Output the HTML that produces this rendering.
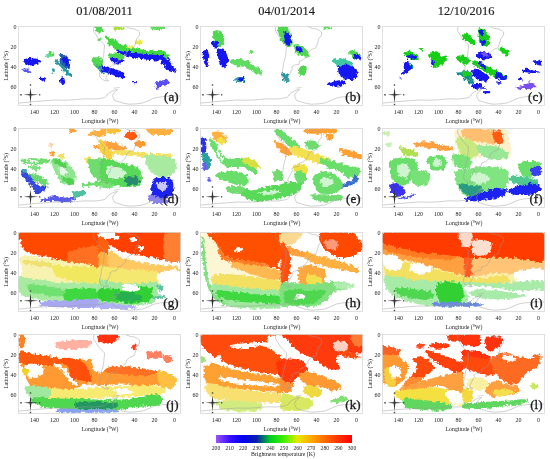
<!DOCTYPE html><html><head><meta charset="utf-8"><style>html,body{margin:0;padding:0;background:#fff;width:550px;height:459px;overflow:hidden}svg{display:block}text{font-family:"Liberation Serif",serif;fill:#222}</style></head><body>
<svg width="550" height="459" viewBox="0 0 550 459">
<defs><filter id="rough" x="-5%" y="-5%" width="110%" height="110%"><feTurbulence type="fractalNoise" baseFrequency="0.3" numOctaves="3" seed="7" result="n"/><feDisplacementMap in="SourceGraphic" in2="n" scale="5" xChannelSelector="R" yChannelSelector="G"/></filter><linearGradient id="cb" x1="0" x2="1" y1="0" y2="0"><stop offset="0" stop-color="#9a55f5"/><stop offset="0.1" stop-color="#3a10ff"/><stop offset="0.2" stop-color="#0000f0"/><stop offset="0.3" stop-color="#0a1fa8"/><stop offset="0.4" stop-color="#00d020"/><stop offset="0.5" stop-color="#40f000"/><stop offset="0.6" stop-color="#e8e800"/><stop offset="0.7" stop-color="#ffa800"/><stop offset="0.8" stop-color="#ff6a00"/><stop offset="0.9" stop-color="#ff3300"/><stop offset="1" stop-color="#ff0000"/></linearGradient></defs>
<text x="104.6" y="15.3" font-size="13.2" text-anchor="middle" fill="#111" stroke="#111" stroke-width="0.15" textLength="56.5" lengthAdjust="spacingAndGlyphs">01/08/2011</text>
<text x="286.6" y="15.3" font-size="13.2" text-anchor="middle" fill="#111" stroke="#111" stroke-width="0.15" textLength="56.5" lengthAdjust="spacingAndGlyphs">04/01/2014</text>
<text x="466.1" y="15.3" font-size="13.2" text-anchor="middle" fill="#111" stroke="#111" stroke-width="0.15" textLength="56.5" lengthAdjust="spacingAndGlyphs">12/10/2016</text>
<g transform="translate(18,26)">
<clipPath id="cpa"><rect x="0" y="0" width="163" height="80"/></clipPath><g clip-path="url(#cpa)"><g filter="url(#rough)"><path d="M86.8 11.1 C87.4 10.0 92.6 12.0 95.7 13.3 C98.7 14.6 100.9 17.1 105.1 18.6 C109.3 20.2 115.6 21.7 120.8 22.7 C126.1 23.8 132.2 24.6 136.5 24.9 C140.8 25.3 144.5 24.3 146.6 24.9 C148.7 25.6 149.8 28.0 149.1 29.0 C148.5 30.1 146.0 31.1 142.8 31.2 C139.7 31.4 135.0 30.4 130.3 30.0 C125.5 29.6 119.2 29.4 114.5 28.7 C109.8 28.0 105.6 27.4 101.9 25.9 C98.3 24.4 95.0 22.1 92.5 19.6 C90.0 17.1 86.3 12.1 86.8 11.1Z" fill="#40d840"/><path d="M98.8 23.7 C100.4 23.3 106.7 25.1 111.4 25.9 C116.1 26.6 122.4 27.6 127.1 28.1 C131.8 28.6 136.3 28.7 139.7 29.0 C143.1 29.3 147.0 29.1 147.6 30.0 C148.1 30.9 145.7 33.7 142.8 34.4 C140.0 35.0 135.0 34.3 130.3 33.7 C125.5 33.2 119.2 32.2 114.5 31.2 C109.8 30.3 104.6 29.3 101.9 28.1 C99.3 26.8 97.2 24.0 98.8 23.7Z" fill="#1818f0"/><path d="M140.3 30.0 C141.2 29.1 144.9 28.1 146.6 28.7 C148.3 29.3 149.5 32.1 150.7 33.7 C151.9 35.4 152.6 36.9 153.8 38.5 C155.1 40.0 157.8 41.9 157.9 43.2 C158.1 44.5 156.3 46.2 154.8 46.3 C153.3 46.4 150.7 45.1 149.1 43.8 C147.6 42.5 146.7 40.1 145.4 38.5 C144.0 36.8 142.1 35.2 141.3 33.7 C140.4 32.3 139.4 30.8 140.3 30.0Z" fill="#1818f0"/><path d="M142.8 25.9 C143.0 24.8 147.2 25.1 148.5 25.9 C149.8 26.7 150.9 29.6 150.7 30.6 C150.5 31.6 148.9 33.0 147.6 32.2 C146.2 31.4 142.7 26.9 142.8 25.9Z" fill="#40d840"/><path d="M90.9 28.1 C92.1 27.3 96.4 27.3 98.8 27.5 C101.2 27.6 103.9 28.1 105.1 29.0 C106.2 30.0 106.8 32.3 105.7 33.1 C104.7 33.9 101.1 33.9 98.8 33.7 C96.5 33.6 93.2 33.1 91.9 32.2 C90.6 31.2 89.8 28.9 90.9 28.1Z" fill="#50d850"/><path d="M91.9 32.2 C92.4 31.4 96.6 32.2 98.8 32.5 C101.0 32.7 104.3 33.0 105.1 33.7 C105.9 34.5 105.1 36.4 103.5 36.9 C101.9 37.4 97.6 37.7 95.7 36.9 C93.7 36.1 91.4 32.9 91.9 32.2Z" fill="#1818f0"/><path d="M73.6 33.1 C74.2 31.6 77.6 31.1 79.3 31.2 C81.0 31.3 82.8 32.3 83.7 33.7 C84.6 35.2 85.0 38.5 84.6 40.0 C84.3 41.6 82.9 43.2 81.5 43.2 C80.1 43.2 77.5 41.7 76.2 40.0 C74.8 38.4 73.1 34.6 73.6 33.1Z" fill="#50d850"/><path d="M81.5 39.4 C82.3 38.6 86.5 39.9 89.4 40.7 C92.2 41.4 95.9 42.9 98.8 43.8 C101.7 44.8 105.5 45.0 106.7 46.3 C107.8 47.7 106.8 51.2 105.7 52.0 C104.7 52.8 102.6 52.0 100.4 51.4 C98.2 50.7 95.1 48.8 92.5 47.9 C89.9 47.0 86.5 47.1 84.6 45.7 C82.8 44.3 80.7 40.2 81.5 39.4Z" fill="#1818f0"/><path d="M79.3 40.0 C79.5 39.0 82.7 39.6 83.7 40.7 C84.8 41.7 85.8 45.3 85.6 46.3 C85.4 47.4 83.5 48.0 82.4 47.0 C81.4 45.9 79.1 41.1 79.3 40.0Z" fill="#2a8ab0"/><path d="M76.8 0.4 C77.5 -0.5 82.3 -0.4 83.7 0.4 C85.1 1.2 85.7 4.5 85.0 5.4 C84.2 6.4 80.7 6.9 79.3 6.1 C77.9 5.2 76.0 1.3 76.8 0.4Z" fill="#50d850"/><path d="M80.6 11.7 C80.9 11.4 82.6 11.4 83.1 11.7 C83.5 12.1 83.8 13.6 83.4 13.9 C83.0 14.3 81.3 14.3 80.9 13.9 C80.4 13.6 80.2 12.1 80.6 11.7Z" fill="#60dc60"/><path d="M95.7 0.4 C97.1 -0.2 103.4 -0.1 105.1 0.4 C106.8 0.9 107.2 2.9 105.7 3.5 C104.3 4.2 98.0 4.7 96.3 4.2 C94.6 3.7 94.2 1.0 95.7 0.4Z" fill="#a8e040"/><path d="M133.4 0.4 C135.3 -0.1 144.5 -0.1 146.6 0.4 C148.7 0.9 147.9 3.0 146.0 3.5 C144.0 4.1 137.1 4.1 135.0 3.5 C132.9 3.0 131.5 0.9 133.4 0.4Z" fill="#60dc60"/><path d="M117.7 14.9 C118.6 14.3 122.9 14.3 124.0 14.9 C125.0 15.4 124.9 17.5 124.0 18.0 C123.0 18.5 119.4 18.5 118.3 18.0 C117.3 17.5 116.7 15.4 117.7 14.9Z" fill="#e8e840"/><path d="M109.8 19.6 C110.5 19.1 113.2 19.1 113.9 19.6 C114.6 20.1 114.6 21.9 113.9 22.4 C113.2 22.9 110.5 22.9 109.8 22.4 C109.1 21.9 109.1 20.1 109.8 19.6Z" fill="#f0f060"/><path d="M5.1 33.7 C5.9 32.9 9.5 32.6 12.3 32.5 C15.1 32.4 20.0 32.5 21.7 33.1 C23.5 33.7 23.5 35.4 22.7 36.3 C21.9 37.2 18.7 37.9 17.0 38.5 C15.3 39.0 13.9 39.6 12.3 39.4 C10.7 39.2 8.8 38.5 7.6 37.5 C6.4 36.6 4.3 34.6 5.1 33.7Z" fill="#1818f0"/><path d="M4.4 43.2 C4.8 42.6 7.6 42.3 9.2 42.6 C10.7 42.8 13.3 44.0 13.9 44.8 C14.4 45.5 13.5 46.7 12.3 47.0 C11.1 47.2 8.3 47.0 7.0 46.3 C5.6 45.7 4.1 43.8 4.4 43.2Z" fill="#5a5af0"/><path d="M21.7 51.0 C22.3 50.5 24.7 49.9 25.8 50.4 C26.9 50.9 28.2 53.3 28.3 54.2 C28.4 55.1 27.4 55.8 26.5 55.8 C25.5 55.7 23.5 54.7 22.7 53.9 C21.9 53.1 21.2 51.6 21.7 51.0Z" fill="#1818f0"/><path d="M31.2 25.9 C31.7 25.2 34.5 25.2 35.3 25.9 C36.0 26.6 36.4 29.3 35.9 30.0 C35.4 30.7 32.9 30.7 32.1 30.0 C31.3 29.3 30.6 26.6 31.2 25.9Z" fill="#50d850"/><path d="M26.5 30.0 C27.0 29.4 30.1 28.5 31.2 28.7 C32.2 28.9 33.3 30.7 32.7 31.2 C32.2 31.8 29.1 32.1 28.0 31.9 C27.0 31.6 25.9 30.5 26.5 30.0Z" fill="#60d8a0"/><path d="M41.6 28.7 C42.1 27.2 43.9 27.7 45.3 28.1 C46.7 28.5 48.9 29.9 50.0 31.2 C51.2 32.6 52.1 34.5 52.2 36.3 C52.4 38.0 52.0 40.7 51.0 41.6 C49.9 42.6 47.4 42.7 46.0 41.9 C44.5 41.1 42.9 39.1 42.2 36.9 C41.4 34.7 41.0 30.2 41.6 28.7Z" fill="#2a60b0"/><path d="M44.7 31.2 C45.3 30.6 47.9 31.4 49.1 32.5 C50.3 33.5 51.8 36.3 51.6 37.5 C51.4 38.8 48.9 40.2 47.8 40.0 C46.8 39.8 45.9 37.7 45.3 36.3 C44.8 34.8 44.1 31.9 44.7 31.2Z" fill="#1818f0"/><path d="M36.8 33.1 C37.3 32.9 37.6 32.6 39.0 33.7 C40.5 34.9 43.2 37.9 45.3 40.0 C47.4 42.1 50.0 44.8 51.6 46.3 C53.2 47.9 54.6 48.7 54.8 49.5 C55.0 50.3 54.0 51.3 52.9 51.0 C51.7 50.8 49.6 49.5 47.8 47.9 C46.1 46.3 44.1 43.7 42.2 41.6 C40.3 39.5 37.4 36.7 36.5 35.3 C35.6 33.9 36.4 33.4 36.8 33.1Z" fill="#2a9aa0"/><path d="M42.2 52.0 C42.7 51.0 45.2 51.1 46.0 52.0 C46.7 52.9 47.4 56.4 46.9 57.3 C46.4 58.3 43.6 58.5 42.8 57.7 C42.0 56.8 41.7 52.9 42.2 52.0Z" fill="#1818f0"/><path d="M34.3 42.6 C34.7 41.9 36.2 41.9 36.5 42.6 C36.9 43.2 36.9 45.7 36.5 46.3 C36.2 47.0 34.7 47.0 34.3 46.3 C34.0 45.7 34.0 43.2 34.3 42.6Z" fill="#2a9aa0"/><path d="M138.1 56.4 C139.2 55.1 142.3 54.4 144.4 54.2 C146.5 54.0 149.9 54.3 150.7 55.1 C151.5 55.9 150.4 58.0 149.1 58.9 C147.8 59.8 144.3 59.7 142.8 60.5 C141.4 61.3 141.1 63.4 140.3 63.6 C139.5 63.9 138.5 63.3 138.1 62.1 C137.8 60.8 137.1 57.7 138.1 56.4Z" fill="#5a50f0"/><path d="M115.2 55.1 C115.6 54.8 117.3 54.8 117.7 55.1 C118.1 55.4 118.1 56.7 117.7 57.0 C117.3 57.3 115.6 57.3 115.2 57.0 C114.7 56.7 114.7 55.4 115.2 55.1Z" fill="#1818f0"/></g></g>
<g clip-path="url(#cqa)"><clipPath id="cqa"><rect x="0" y="0" width="163" height="80"/></clipPath><polyline points="76.6,0.0 75.6,2.0 75.6,5.0 77.6,8.0 80.6,13.0 84.6,17.0 86.6,19.0 86.1,24.0 85.6,30.0 84.6,34.0 83.6,37.0 83.1,41.0 82.6,44.0 81.6,47.0 81.6,50.0 82.6,52.0 84.6,53.5 86.6,54.5 89.6,55.0 90.6,54.5 88.6,53.5 87.6,52.0 88.6,50.0 89.6,48.0 90.6,46.0 91.6,44.0 92.6,42.5 91.6,41.0 94.6,39.0 98.6,38.5 99.6,36.0 99.6,35.0 101.6,34.5 103.6,33.5 106.6,31.0 108.1,28.0 108.6,26.0 111.6,23.5 115.6,22.0 116.6,20.0 117.6,17.0 118.6,13.0 121.6,9.0 121.6,6.0 119.6,4.5 116.6,3.0 112.6,2.5 108.6,1.0 106.6,0.0" fill="none" stroke="#9a9a9a" stroke-width="0.55" stroke-opacity="0.85"/><polyline points="-13.4,78.0 -3.4,77.5 6.6,76.5 16.6,75.5 26.6,74.8 36.6,74.0 46.6,74.2 56.6,73.8 66.6,72.8 76.6,73.0 81.6,72.5 86.6,71.5 88.6,70.0 89.6,68.0 91.6,66.5 94.6,65.0 97.6,63.8 99.6,63.3 98.6,64.5 96.6,66.0 95.1,68.0 94.6,70.0 95.6,72.5 96.6,74.5 101.6,76.0 106.6,77.5 111.6,78.2 118.6,77.8 124.6,77.0 129.6,75.0 136.6,72.0 141.6,71.0 146.6,70.5 156.6,70.0 166.6,70.0" fill="none" stroke="#9a9a9a" stroke-width="0.55" stroke-opacity="0.85"/><polyline points="95.6,62.2 98.6,61.8 101.6,61.3" fill="none" stroke="#aaa" stroke-width="0.5"/></g>
<rect x="0.5" y="0.5" width="162" height="79" fill="none" stroke="#d8d8d8" stroke-width="0.8"/>
<path d="M12.5 61.8 L13.4 68.8 L12.5 77.3 L11.6 68.8 Z" fill="#333"/><path d="M5.5 68.8 L12.5 68.0 L20.5 68.8 L12.5 69.6 Z" fill="#333"/><rect x="11.8" y="58.3" width="1.4" height="1.4" fill="#444"/><rect x="11.8" y="77.8" width="1.4" height="1.4" fill="#444"/><rect x="2.1999999999999993" y="68.1" width="1.6" height="1.4" fill="#444"/><rect x="21.1" y="68.1" width="1.2" height="1.4" fill="#444"/>
<text x="160.5" y="75" font-size="13" text-anchor="end" fill="#151515" stroke="#151515" stroke-width="0.3">(a)</text>
<text x="-1.6" y="3.0" font-size="6" text-anchor="end" fill="#333">0</text>
<text x="-1.6" y="23.0" font-size="6" text-anchor="end" fill="#333">20</text>
<text x="-1.6" y="43.0" font-size="6" text-anchor="end" fill="#333">40</text>
<text x="-1.6" y="63.0" font-size="6" text-anchor="end" fill="#333">60</text>
<text x="16.6" y="87.8" font-size="6" text-anchor="middle" fill="#333">140</text>
<text x="36.6" y="87.8" font-size="6" text-anchor="middle" fill="#333">120</text>
<text x="56.6" y="87.8" font-size="6" text-anchor="middle" fill="#333">100</text>
<text x="76.6" y="87.8" font-size="6" text-anchor="middle" fill="#333">80</text>
<text x="96.6" y="87.8" font-size="6" text-anchor="middle" fill="#333">60</text>
<text x="116.6" y="87.8" font-size="6" text-anchor="middle" fill="#333">40</text>
<text x="136.6" y="87.8" font-size="6" text-anchor="middle" fill="#333">20</text>
<text x="156.6" y="87.8" font-size="6" text-anchor="middle" fill="#333">0</text>
<text x="82" y="96.8" font-size="6.2" text-anchor="middle" fill="#222" textLength="36.8" lengthAdjust="spacingAndGlyphs">Longitude (°W)</text>
<text transform="translate(-9.6,40) rotate(-90)" x="0" y="0" font-size="6.2" text-anchor="middle" fill="#222" textLength="29.6" lengthAdjust="spacingAndGlyphs">Latitude (°S)</text>
</g>
<g transform="translate(200,26)">
<clipPath id="cpb"><rect x="0" y="0" width="163" height="80"/></clipPath><g clip-path="url(#cpb)"><g filter="url(#rough)"><path d="M2.9 25.9 C3.4 24.0 5.9 23.8 7.0 24.3 C8.0 24.8 8.9 26.9 9.2 29.0 C9.4 31.1 8.7 35.0 8.2 36.9 C7.7 38.8 6.7 40.9 6.0 40.7 C5.3 40.4 4.3 37.8 3.8 35.3 C3.3 32.9 2.3 27.7 2.9 25.9Z" fill="#1818f0"/><path d="M13.9 5.4 C14.9 3.8 18.5 4.0 20.2 4.8 C21.8 5.6 23.4 8.0 23.9 10.2 C24.5 12.4 24.2 16.3 23.3 18.0 C22.4 19.7 20.2 21.1 18.6 20.5 C17.0 20.0 14.7 17.4 13.9 14.9 C13.1 12.4 12.8 7.1 13.9 5.4Z" fill="#50d850"/><path d="M12.3 14.9 C13.1 14.3 16.0 14.5 17.0 15.5 C18.1 16.6 19.0 20.0 18.6 21.2 C18.2 22.3 15.6 22.8 14.5 22.4 C13.5 22.0 12.7 19.9 12.3 18.6 C11.9 17.4 11.5 15.4 12.3 14.9Z" fill="#1818f0"/><path d="M17.6 24.3 C18.4 22.5 21.8 22.2 23.3 22.7 C24.8 23.3 25.7 25.6 26.5 27.5 C27.2 29.3 28.0 31.6 28.0 33.7 C28.0 35.8 27.5 38.9 26.5 40.0 C25.4 41.2 23.0 41.7 21.7 40.7 C20.4 39.6 19.3 36.5 18.6 33.7 C17.9 31.0 16.9 26.1 17.6 24.3Z" fill="#1818f0"/><path d="M31.2 33.7 C32.3 32.9 36.2 32.9 39.0 33.1 C41.9 33.4 45.9 34.2 48.5 35.3 C51.1 36.5 52.7 38.7 54.8 40.0 C56.9 41.3 59.7 41.9 61.1 43.2 C62.4 44.5 63.4 47.1 62.6 47.9 C61.8 48.7 58.7 48.7 56.3 47.9 C54.0 47.1 51.4 44.5 48.5 43.2 C45.6 41.9 41.8 40.8 39.0 40.0 C36.3 39.2 33.4 39.5 32.1 38.5 C30.8 37.4 30.0 34.6 31.2 33.7Z" fill="#60dc60"/><path d="M34.3 52.6 C34.8 51.7 37.3 50.2 39.0 50.1 C40.8 50.0 43.9 51.0 44.7 52.0 C45.5 52.9 45.2 55.1 43.8 55.8 C42.3 56.4 37.5 56.3 35.9 55.8 C34.3 55.2 33.8 53.6 34.3 52.6Z" fill="#2a9aa0"/><path d="M39.0 51.0 C39.6 50.4 42.0 50.5 42.8 51.0 C43.6 51.6 44.3 53.8 43.8 54.5 C43.2 55.2 40.5 55.7 39.7 55.1 C38.9 54.6 38.5 51.7 39.0 51.0Z" fill="#1818f0"/><path d="M78.4 0.4 C79.7 -0.7 84.1 -1.0 86.2 0.4 C88.3 1.8 89.9 5.6 90.9 8.6 C92.0 11.5 93.0 15.9 92.5 18.0 C92.0 20.1 89.6 21.7 87.8 21.2 C86.0 20.6 83.1 17.2 81.5 14.9 C79.9 12.5 78.9 9.4 78.4 7.0 C77.8 4.6 77.0 1.5 78.4 0.4Z" fill="#50d850"/><path d="M83.7 5.4 C84.4 4.7 87.5 5.7 88.7 7.0 C90.0 8.3 91.0 11.2 91.3 13.3 C91.5 15.4 90.8 18.8 90.0 19.6 C89.2 20.4 87.2 19.3 86.2 18.0 C85.3 16.7 84.8 13.8 84.3 11.7 C83.9 9.6 83.0 6.2 83.7 5.4Z" fill="#1818f0"/><path d="M94.1 19.6 C95.4 19.0 99.6 19.5 101.9 20.5 C104.3 21.6 107.3 24.2 108.2 25.9 C109.2 27.6 109.2 30.1 107.6 30.6 C106.0 31.1 101.1 30.1 98.8 29.0 C96.5 28.0 94.9 25.9 94.1 24.3 C93.3 22.7 92.8 20.2 94.1 19.6Z" fill="#50d850"/><path d="M95.7 20.5 C96.3 19.9 100.2 20.9 101.3 21.8 C102.5 22.7 103.2 25.2 102.6 25.9 C101.9 26.6 98.7 26.8 97.5 25.9 C96.4 25.0 95.0 21.2 95.7 20.5Z" fill="#1818f0"/><path d="M98.8 42.6 C99.3 40.9 102.2 39.6 103.5 39.4 C104.8 39.2 106.4 40.2 106.7 41.6 C106.9 43.0 106.1 46.6 105.1 47.9 C104.0 49.2 101.4 50.4 100.4 49.5 C99.3 48.6 98.3 44.2 98.8 42.6Z" fill="#50d850"/><path d="M81.5 47.9 C81.8 46.6 84.9 46.9 86.2 47.9 C87.5 48.9 89.6 52.9 89.4 54.2 C89.1 55.5 86.0 56.8 84.6 55.8 C83.3 54.7 81.2 49.2 81.5 47.9Z" fill="#2a9aa0"/><path d="M124.0 0.4 C125.0 -0.0 129.2 -0.0 130.3 0.4 C131.3 0.8 131.3 2.5 130.3 2.9 C129.2 3.3 125.0 3.3 124.0 2.9 C122.9 2.5 122.9 0.8 124.0 0.4Z" fill="#60dc60"/><path d="M50.0 24.3 C50.6 23.9 52.7 23.9 53.2 24.3 C53.7 24.7 53.7 26.4 53.2 26.8 C52.7 27.2 50.6 27.2 50.0 26.8 C49.5 26.4 49.5 24.7 50.0 24.3Z" fill="#60dc60"/><path d="M149.1 24.9 C149.7 24.2 152.3 23.9 153.8 24.3 C155.4 24.7 157.4 26.1 158.6 27.5 C159.8 28.8 161.6 31.2 161.1 32.2 C160.6 33.1 157.1 33.6 155.4 33.1 C153.7 32.6 151.7 30.4 150.7 29.0 C149.7 27.7 148.6 25.7 149.1 24.9Z" fill="#50d850"/><path d="M153.8 27.5 C154.4 26.7 157.4 27.8 158.6 28.7 C159.8 29.7 161.6 32.4 161.1 33.1 C160.6 33.9 156.6 34.1 155.4 33.1 C154.2 32.2 153.3 28.2 153.8 27.5Z" fill="#1818f0"/><path d="M133.4 33.7 C134.7 32.7 140.0 31.9 142.8 32.2 C145.7 32.4 149.1 33.7 150.7 35.3 C152.3 36.9 153.6 40.4 152.3 41.6 C151.0 42.8 145.7 43.1 142.8 42.6 C140.0 42.0 136.5 39.9 135.0 38.5 C133.4 37.0 132.1 34.8 133.4 33.7Z" fill="#40c8a0"/><path d="M138.1 41.6 C139.0 40.0 142.3 38.7 144.4 38.5 C146.5 38.2 148.9 39.2 150.7 40.0 C152.5 40.8 154.2 41.9 155.4 43.2 C156.6 44.5 157.9 46.3 157.9 47.9 C157.9 49.5 156.9 51.6 155.4 52.6 C154.0 53.7 151.2 54.3 149.1 54.2 C147.0 54.1 144.5 53.0 142.8 52.0 C141.2 50.9 139.8 49.6 139.1 47.9 C138.3 46.2 137.2 43.2 138.1 41.6Z" fill="#1818f0"/><path d="M127.1 57.3 C127.4 56.4 132.4 55.7 135.0 55.1 C137.6 54.6 141.0 54.0 142.8 54.2 C144.7 54.4 146.2 55.5 146.0 56.4 C145.7 57.3 143.4 58.9 141.3 59.5 C139.2 60.2 135.8 60.8 133.4 60.5 C131.0 60.1 126.8 58.2 127.1 57.3Z" fill="#1818f0"/></g></g>
<g clip-path="url(#cqb)"><clipPath id="cqb"><rect x="0" y="0" width="163" height="80"/></clipPath><polyline points="76.6,0.0 75.6,2.0 75.6,5.0 77.6,8.0 80.6,13.0 84.6,17.0 86.6,19.0 86.1,24.0 85.6,30.0 84.6,34.0 83.6,37.0 83.1,41.0 82.6,44.0 81.6,47.0 81.6,50.0 82.6,52.0 84.6,53.5 86.6,54.5 89.6,55.0 90.6,54.5 88.6,53.5 87.6,52.0 88.6,50.0 89.6,48.0 90.6,46.0 91.6,44.0 92.6,42.5 91.6,41.0 94.6,39.0 98.6,38.5 99.6,36.0 99.6,35.0 101.6,34.5 103.6,33.5 106.6,31.0 108.1,28.0 108.6,26.0 111.6,23.5 115.6,22.0 116.6,20.0 117.6,17.0 118.6,13.0 121.6,9.0 121.6,6.0 119.6,4.5 116.6,3.0 112.6,2.5 108.6,1.0 106.6,0.0" fill="none" stroke="#9a9a9a" stroke-width="0.55" stroke-opacity="0.85"/><polyline points="-13.4,78.0 -3.4,77.5 6.6,76.5 16.6,75.5 26.6,74.8 36.6,74.0 46.6,74.2 56.6,73.8 66.6,72.8 76.6,73.0 81.6,72.5 86.6,71.5 88.6,70.0 89.6,68.0 91.6,66.5 94.6,65.0 97.6,63.8 99.6,63.3 98.6,64.5 96.6,66.0 95.1,68.0 94.6,70.0 95.6,72.5 96.6,74.5 101.6,76.0 106.6,77.5 111.6,78.2 118.6,77.8 124.6,77.0 129.6,75.0 136.6,72.0 141.6,71.0 146.6,70.5 156.6,70.0 166.6,70.0" fill="none" stroke="#9a9a9a" stroke-width="0.55" stroke-opacity="0.85"/><polyline points="95.6,62.2 98.6,61.8 101.6,61.3" fill="none" stroke="#aaa" stroke-width="0.5"/></g>
<rect x="0.5" y="0.5" width="162" height="79" fill="none" stroke="#d8d8d8" stroke-width="0.8"/>
<path d="M12.5 61.8 L13.4 68.8 L12.5 77.3 L11.6 68.8 Z" fill="#333"/><path d="M5.5 68.8 L12.5 68.0 L20.5 68.8 L12.5 69.6 Z" fill="#333"/><rect x="11.8" y="58.3" width="1.4" height="1.4" fill="#444"/><rect x="11.8" y="77.8" width="1.4" height="1.4" fill="#444"/><rect x="2.1999999999999993" y="68.1" width="1.6" height="1.4" fill="#444"/><rect x="21.1" y="68.1" width="1.2" height="1.4" fill="#444"/>
<text x="160.5" y="75" font-size="13" text-anchor="end" fill="#151515" stroke="#151515" stroke-width="0.3">(b)</text>
<text x="-1.6" y="3.0" font-size="6" text-anchor="end" fill="#333">0</text>
<text x="-1.6" y="23.0" font-size="6" text-anchor="end" fill="#333">20</text>
<text x="-1.6" y="43.0" font-size="6" text-anchor="end" fill="#333">40</text>
<text x="-1.6" y="63.0" font-size="6" text-anchor="end" fill="#333">60</text>
<text x="16.6" y="87.8" font-size="6" text-anchor="middle" fill="#333">140</text>
<text x="36.6" y="87.8" font-size="6" text-anchor="middle" fill="#333">120</text>
<text x="56.6" y="87.8" font-size="6" text-anchor="middle" fill="#333">100</text>
<text x="76.6" y="87.8" font-size="6" text-anchor="middle" fill="#333">80</text>
<text x="96.6" y="87.8" font-size="6" text-anchor="middle" fill="#333">60</text>
<text x="116.6" y="87.8" font-size="6" text-anchor="middle" fill="#333">40</text>
<text x="136.6" y="87.8" font-size="6" text-anchor="middle" fill="#333">20</text>
<text x="156.6" y="87.8" font-size="6" text-anchor="middle" fill="#333">0</text>
<text x="82" y="96.8" font-size="6.2" text-anchor="middle" fill="#222" textLength="36.8" lengthAdjust="spacingAndGlyphs">Longitude (°W)</text>
<text transform="translate(-9.6,40) rotate(-90)" x="0" y="0" font-size="6.2" text-anchor="middle" fill="#222" textLength="29.6" lengthAdjust="spacingAndGlyphs">Latitude (°S)</text>
</g>
<g transform="translate(382,26)">
<clipPath id="cpc"><rect x="0" y="0" width="163" height="80"/></clipPath><g clip-path="url(#cpc)"><g filter="url(#rough)"><path d="M22.7 26.1 C23.4 25.5 25.6 24.6 27.0 24.7 C28.5 24.9 30.1 26.3 31.4 27.0 C32.7 27.7 34.0 27.9 34.9 28.8 C35.7 29.6 36.7 31.4 36.6 32.2 C36.5 33.1 35.4 33.8 34.0 34.0 C32.5 34.2 29.5 33.9 27.9 33.5 C26.3 33.0 25.3 32.2 24.4 31.4 C23.5 30.6 22.9 29.6 22.7 28.8 C22.4 27.9 21.9 26.8 22.7 26.1Z" fill="#18d018"/><path d="M24.4 30.0 C25.0 29.5 27.2 29.2 28.8 29.3 C30.4 29.4 33.0 29.9 34.0 30.5 C35.0 31.1 35.6 32.6 34.9 33.1 C34.1 33.6 31.2 33.6 29.6 33.5 C28.0 33.3 26.1 32.8 25.3 32.2 C24.4 31.7 23.8 30.5 24.4 30.0Z" fill="#1414f2"/><path d="M27.0 37.5 C27.4 37.0 29.3 37.6 30.0 38.3 C30.7 39.1 31.5 41.0 31.4 41.8 C31.3 42.7 29.9 43.7 29.3 43.6 C28.6 43.4 27.9 42.0 27.5 41.0 C27.2 39.9 26.6 37.9 27.0 37.5Z" fill="#10908c"/><path d="M22.7 36.6 C23.4 36.0 25.1 36.0 26.1 36.3 C27.2 36.5 28.1 37.6 28.8 38.3 C29.4 39.1 30.0 39.9 30.0 41.0 C30.0 42.0 29.7 43.4 28.8 44.4 C27.8 45.5 25.7 46.3 24.4 47.1 C23.1 47.8 21.6 48.8 20.9 48.8 C20.2 48.8 19.9 47.9 20.0 47.1 C20.2 46.2 21.5 44.7 21.8 43.6 C22.1 42.4 21.6 41.2 21.8 40.1 C21.9 38.9 21.9 37.2 22.7 36.6Z" fill="#1414f2"/><path d="M17.8 51.6 C18.0 51.3 18.9 51.3 19.2 51.6 C19.4 51.9 19.4 52.9 19.2 53.2 C18.9 53.4 18.0 53.4 17.8 53.2 C17.5 52.9 17.5 51.9 17.8 51.6Z" fill="#1414f2"/><path d="M46.2 28.8 C46.8 27.9 49.1 26.7 50.5 26.1 C52.0 25.6 53.7 25.0 54.9 25.3 C56.1 25.6 56.6 27.0 57.5 27.9 C58.4 28.8 59.3 30.2 60.1 30.5 C61.0 30.8 61.9 29.6 62.7 29.6 C63.6 29.6 65.1 29.9 65.4 30.5 C65.6 31.1 64.9 32.2 64.5 33.1 C64.1 34.0 63.5 34.9 62.7 35.7 C62.0 36.6 61.0 37.6 60.1 38.3 C59.3 39.1 58.7 39.7 57.5 40.1 C56.4 40.5 54.5 41.1 53.2 41.0 C51.9 40.8 50.4 40.2 49.7 39.2 C48.9 38.2 49.2 36.2 48.8 34.9 C48.4 33.6 47.5 32.4 47.1 31.4 C46.6 30.4 45.6 29.6 46.2 28.8Z" fill="#18d018"/><path d="M49.7 35.4 C50.1 34.9 51.4 34.6 51.9 34.9 C52.5 35.1 53.2 36.3 53.2 36.9 C53.1 37.6 52.0 38.6 51.4 38.7 C50.8 38.8 50.0 38.0 49.7 37.5 C49.4 36.9 49.3 35.8 49.7 35.4Z" fill="#1414f2"/><path d="M37.5 22.7 C37.8 22.2 39.8 21.7 40.4 22.0 C41.0 22.2 41.5 23.6 41.1 24.1 C40.8 24.5 39.0 25.0 38.3 24.7 C37.7 24.5 37.1 23.1 37.5 22.7Z" fill="#18d018"/><path d="M74.1 30.5 C74.7 29.9 77.1 29.6 78.4 29.6 C79.7 29.6 81.3 29.5 81.9 30.5 C82.5 31.5 82.6 35.0 81.9 35.7 C81.2 36.5 78.8 35.3 77.6 34.9 C76.3 34.4 75.2 33.8 74.6 33.1 C74.0 32.4 73.4 31.1 74.1 30.5Z" fill="#18d018"/><path d="M74.9 46.7 C75.5 46.3 77.3 46.1 78.4 46.2 C79.6 46.2 81.3 46.5 81.9 47.1 C82.5 47.6 82.6 49.2 81.9 49.7 C81.2 50.1 78.7 49.8 77.6 49.7 C76.5 49.5 75.7 49.3 75.3 48.8 C74.9 48.3 74.4 47.1 74.9 46.7Z" fill="#10908c"/><path d="M96.7 2.6 C97.4 1.7 99.7 2.9 101.0 3.5 C102.4 4.1 103.5 4.9 104.5 6.1 C105.5 7.3 106.7 8.6 107.1 10.5 C107.6 12.3 107.7 15.8 107.1 17.4 C106.6 19.0 105.0 19.8 103.7 20.0 C102.4 20.3 100.3 20.2 99.3 19.2 C98.3 18.2 98.0 15.7 97.6 13.9 C97.1 12.2 96.8 10.6 96.7 8.7 C96.5 6.8 96.0 3.5 96.7 2.6Z" fill="#18d018"/><path d="M97.6 4.4 C97.8 3.5 99.6 3.6 100.2 4.4 C100.8 5.1 101.3 7.8 101.0 8.7 C100.8 9.6 99.0 10.3 98.4 9.6 C97.8 8.9 97.3 5.2 97.6 4.4Z" fill="#1414f2"/><path d="M99.3 14.8 C99.7 14.1 102.1 14.2 102.8 14.8 C103.5 15.4 104.1 17.6 103.7 18.3 C103.2 19.0 100.9 19.8 100.2 19.2 C99.4 18.6 98.9 15.5 99.3 14.8Z" fill="#1414f2"/><path d="M81.0 7.8 C81.9 7.3 84.5 7.8 86.2 8.7 C88.0 9.6 90.2 11.8 91.5 13.1 C92.8 14.4 94.1 15.7 94.1 16.6 C94.1 17.4 92.8 18.6 91.5 18.3 C90.2 18.0 88.0 15.8 86.2 14.8 C84.5 13.8 81.9 13.4 81.0 12.2 C80.1 11.0 80.1 8.4 81.0 7.8Z" fill="#18d018"/><path d="M94.9 28.8 C95.5 27.9 97.0 26.7 98.4 26.1 C99.9 25.6 102.1 25.0 103.7 25.3 C105.3 25.6 107.1 26.9 108.0 27.9 C108.9 28.9 109.6 30.5 108.9 31.4 C108.2 32.2 105.4 32.9 103.7 33.1 C101.9 33.3 99.8 33.1 98.4 32.8 C97.0 32.5 95.9 32.0 95.3 31.4 C94.7 30.7 94.4 29.6 94.9 28.8Z" fill="#1414f2"/><path d="M100.2 27.0 C100.9 26.4 103.5 25.7 104.5 26.1 C105.5 26.6 106.6 28.8 106.3 29.6 C106.0 30.5 103.8 31.3 102.8 31.4 C101.8 31.4 100.6 30.7 100.2 30.0 C99.7 29.3 99.4 27.7 100.2 27.0Z" fill="#7a50f0"/><path d="M116.7 21.8 C117.3 21.4 119.6 21.4 121.1 21.8 C122.5 22.2 124.3 23.4 125.4 24.4 C126.5 25.4 127.7 27.0 127.7 27.9 C127.7 28.8 126.4 29.6 125.4 29.6 C124.5 29.6 123.3 28.8 122.0 27.9 C120.7 27.0 118.5 25.4 117.6 24.4 C116.7 23.4 116.1 22.2 116.7 21.8Z" fill="#18d018"/><path d="M81.0 31.4 C81.7 30.3 84.2 31.1 85.4 31.7 C86.5 32.3 87.8 33.8 88.0 34.9 C88.1 36.0 87.4 37.8 86.2 38.3 C85.1 38.9 81.9 39.2 81.0 38.0 C80.1 36.8 80.3 32.4 81.0 31.4Z" fill="#18d018"/><path d="M90.6 34.0 C91.5 33.6 93.9 34.6 96.7 35.7 C99.4 36.9 103.9 39.4 107.1 41.0 C110.3 42.6 113.2 44.0 115.9 45.3 C118.5 46.6 121.2 47.6 122.8 48.8 C124.4 50.0 125.7 51.4 125.4 52.3 C125.2 53.2 123.0 54.0 121.1 54.0 C119.2 54.0 116.7 53.4 114.1 52.3 C111.5 51.1 108.3 48.8 105.4 47.1 C102.5 45.3 99.0 43.3 96.7 41.8 C94.4 40.4 92.5 39.7 91.5 38.3 C90.4 37.0 89.7 34.4 90.6 34.0Z" fill="#18d018"/><path d="M96.7 35.7 C97.0 35.0 99.0 35.7 100.2 36.6 C101.3 37.5 103.2 39.8 103.7 41.0 C104.1 42.1 103.7 43.6 102.8 43.6 C101.9 43.6 99.4 42.3 98.4 41.0 C97.4 39.7 96.4 36.5 96.7 35.7Z" fill="#1414f2"/><path d="M113.2 47.1 C114.0 46.3 117.6 47.3 119.3 47.9 C121.1 48.5 122.8 49.7 123.7 50.5 C124.6 51.4 125.2 52.6 124.6 53.2 C124.0 53.7 121.8 54.2 120.2 54.0 C118.6 53.9 116.1 53.4 115.0 52.3 C113.8 51.1 112.5 47.8 113.2 47.1Z" fill="#1414f2"/><path d="M89.7 45.3 C90.2 44.2 91.7 42.8 93.2 42.7 C94.7 42.6 96.7 43.6 98.4 44.4 C100.2 45.3 102.2 46.9 103.7 47.9 C105.1 48.9 106.7 49.4 107.1 50.5 C107.6 51.7 107.4 54.1 106.3 54.9 C105.1 55.7 102.1 55.9 100.2 55.4 C98.3 55.0 96.5 53.2 94.9 52.3 C93.3 51.3 91.5 50.8 90.6 49.7 C89.7 48.5 89.3 46.5 89.7 45.3Z" fill="#1414f2"/><path d="M81.0 44.4 C81.9 43.4 84.6 44.0 86.2 45.0 C87.8 46.0 89.7 48.6 90.6 50.5 C91.5 52.5 91.9 55.5 91.5 56.6 C91.0 57.8 89.3 58.0 88.0 57.5 C86.7 57.1 84.8 55.0 83.6 54.0 C82.5 53.0 81.4 53.0 81.0 51.4 C80.6 49.8 80.1 45.5 81.0 44.4Z" fill="#10908c"/><path d="M81.0 45.0 C81.7 44.2 84.2 44.3 85.4 45.0 C86.5 45.6 88.1 47.9 88.0 48.8 C87.8 49.7 85.6 50.4 84.5 50.5 C83.3 50.7 81.6 50.6 81.0 49.7 C80.4 48.7 80.3 45.8 81.0 45.0Z" fill="#18d018"/><path d="M89.7 58.4 C90.3 57.7 92.9 57.2 94.9 57.5 C97.0 57.8 100.5 59.3 101.9 60.1 C103.4 60.9 104.2 62.0 103.7 62.4 C103.1 62.8 100.5 62.8 98.4 62.7 C96.4 62.7 92.9 62.6 91.5 61.9 C90.0 61.1 89.1 59.1 89.7 58.4Z" fill="#1414f2"/><path d="M101.9 65.4 C102.7 65.0 105.9 64.9 106.8 65.2 C107.7 65.5 107.9 66.8 107.1 67.1 C106.4 67.5 103.1 67.6 102.3 67.3 C101.4 67.0 101.2 65.7 101.9 65.4Z" fill="#1414f2"/><path d="M151.6 34.9 C152.2 34.4 154.6 33.8 155.9 34.0 C157.3 34.1 158.7 34.9 159.4 35.7 C160.2 36.6 160.7 38.6 160.3 39.2 C159.9 39.8 158.1 39.6 156.8 39.2 C155.5 38.8 153.3 37.7 152.5 36.9 C151.6 36.2 151.0 35.4 151.6 34.9Z" fill="#1414f2"/><path d="M140.3 43.6 C141.0 43.1 143.7 42.6 145.5 42.7 C147.2 42.8 148.7 44.0 150.7 44.4 C152.8 44.9 157.1 45.2 157.7 45.7 C158.3 46.1 155.9 46.9 154.2 47.1 C152.5 47.2 149.4 46.9 147.2 46.7 C145.1 46.5 142.3 46.2 141.1 45.7 C140.0 45.1 139.5 44.1 140.3 43.6Z" fill="#1414f2"/><path d="M135.0 61.9 C134.7 61.2 138.5 60.1 140.3 59.3 C142.0 58.4 143.7 56.9 145.5 56.6 C147.2 56.4 149.4 56.9 150.7 57.5 C152.0 58.1 153.3 59.3 153.3 60.1 C153.3 60.9 152.6 61.9 150.7 62.4 C148.8 62.9 144.6 63.2 142.0 63.1 C139.4 63.0 135.3 62.5 135.0 61.9Z" fill="#7a50f0"/><path d="M136.8 52.3 C137.4 52.0 139.7 52.0 140.3 52.3 C140.8 52.6 140.8 53.7 140.3 54.0 C139.7 54.3 137.4 54.3 136.8 54.0 C136.2 53.7 136.2 52.6 136.8 52.3Z" fill="#1414f2"/><path d="M115.0 55.8 C115.5 55.4 117.9 55.1 118.5 55.4 C119.1 55.7 119.0 57.2 118.5 57.5 C117.9 57.9 115.7 57.8 115.2 57.5 C114.6 57.2 114.4 56.1 115.0 55.8Z" fill="#1414f2"/></g></g>
<g clip-path="url(#cqc)"><clipPath id="cqc"><rect x="0" y="0" width="163" height="80"/></clipPath><polyline points="76.6,0.0 75.6,2.0 75.6,5.0 77.6,8.0 80.6,13.0 84.6,17.0 86.6,19.0 86.1,24.0 85.6,30.0 84.6,34.0 83.6,37.0 83.1,41.0 82.6,44.0 81.6,47.0 81.6,50.0 82.6,52.0 84.6,53.5 86.6,54.5 89.6,55.0 90.6,54.5 88.6,53.5 87.6,52.0 88.6,50.0 89.6,48.0 90.6,46.0 91.6,44.0 92.6,42.5 91.6,41.0 94.6,39.0 98.6,38.5 99.6,36.0 99.6,35.0 101.6,34.5 103.6,33.5 106.6,31.0 108.1,28.0 108.6,26.0 111.6,23.5 115.6,22.0 116.6,20.0 117.6,17.0 118.6,13.0 121.6,9.0 121.6,6.0 119.6,4.5 116.6,3.0 112.6,2.5 108.6,1.0 106.6,0.0" fill="none" stroke="#9a9a9a" stroke-width="0.55" stroke-opacity="0.85"/><polyline points="-13.4,78.0 -3.4,77.5 6.6,76.5 16.6,75.5 26.6,74.8 36.6,74.0 46.6,74.2 56.6,73.8 66.6,72.8 76.6,73.0 81.6,72.5 86.6,71.5 88.6,70.0 89.6,68.0 91.6,66.5 94.6,65.0 97.6,63.8 99.6,63.3 98.6,64.5 96.6,66.0 95.1,68.0 94.6,70.0 95.6,72.5 96.6,74.5 101.6,76.0 106.6,77.5 111.6,78.2 118.6,77.8 124.6,77.0 129.6,75.0 136.6,72.0 141.6,71.0 146.6,70.5 156.6,70.0 166.6,70.0" fill="none" stroke="#9a9a9a" stroke-width="0.55" stroke-opacity="0.85"/><polyline points="95.6,62.2 98.6,61.8 101.6,61.3" fill="none" stroke="#aaa" stroke-width="0.5"/></g>
<rect x="0.5" y="0.5" width="162" height="79" fill="none" stroke="#d8d8d8" stroke-width="0.8"/>
<path d="M12.5 61.8 L13.4 68.8 L12.5 77.3 L11.6 68.8 Z" fill="#333"/><path d="M5.5 68.8 L12.5 68.0 L20.5 68.8 L12.5 69.6 Z" fill="#333"/><rect x="11.8" y="58.3" width="1.4" height="1.4" fill="#444"/><rect x="11.8" y="77.8" width="1.4" height="1.4" fill="#444"/><rect x="2.1999999999999993" y="68.1" width="1.6" height="1.4" fill="#444"/><rect x="21.1" y="68.1" width="1.2" height="1.4" fill="#444"/>
<text x="160.5" y="75" font-size="13" text-anchor="end" fill="#151515" stroke="#151515" stroke-width="0.3">(c)</text>
<text x="-1.6" y="3.0" font-size="6" text-anchor="end" fill="#333">0</text>
<text x="-1.6" y="23.0" font-size="6" text-anchor="end" fill="#333">20</text>
<text x="-1.6" y="43.0" font-size="6" text-anchor="end" fill="#333">40</text>
<text x="-1.6" y="63.0" font-size="6" text-anchor="end" fill="#333">60</text>
<text x="16.6" y="87.8" font-size="6" text-anchor="middle" fill="#333">140</text>
<text x="36.6" y="87.8" font-size="6" text-anchor="middle" fill="#333">120</text>
<text x="56.6" y="87.8" font-size="6" text-anchor="middle" fill="#333">100</text>
<text x="76.6" y="87.8" font-size="6" text-anchor="middle" fill="#333">80</text>
<text x="96.6" y="87.8" font-size="6" text-anchor="middle" fill="#333">60</text>
<text x="116.6" y="87.8" font-size="6" text-anchor="middle" fill="#333">40</text>
<text x="136.6" y="87.8" font-size="6" text-anchor="middle" fill="#333">20</text>
<text x="156.6" y="87.8" font-size="6" text-anchor="middle" fill="#333">0</text>
<text x="82" y="96.8" font-size="6.2" text-anchor="middle" fill="#222" textLength="36.8" lengthAdjust="spacingAndGlyphs">Longitude (°W)</text>
<text transform="translate(-9.6,40) rotate(-90)" x="0" y="0" font-size="6.2" text-anchor="middle" fill="#222" textLength="29.6" lengthAdjust="spacingAndGlyphs">Latitude (°S)</text>
</g>
<g transform="translate(18,128)">
<clipPath id="cpd"><rect x="0" y="0" width="163" height="80"/></clipPath><g clip-path="url(#cpd)"><g filter="url(#rough)"><path d="M48.5 1.0 C50.6 0.5 60.4 -0.0 62.6 0.4 C64.8 0.8 63.8 3.0 61.7 3.5 C59.6 4.1 52.2 4.3 50.0 3.9 C47.8 3.4 46.4 1.6 48.5 1.0Z" fill="#ffa030"/><path d="M69.9 0.4 C72.2 -0.4 83.2 -0.7 86.2 0.4 C89.2 1.5 88.8 5.6 87.8 7.0 C86.7 8.4 82.5 8.8 79.9 8.6 C77.3 8.3 73.7 6.8 72.1 5.4 C70.4 4.1 67.5 1.2 69.9 0.4Z" fill="#ffb040"/><path d="M89.4 0.4 C91.2 -0.4 100.0 -0.3 101.9 0.4 C103.9 1.1 103.2 4.0 101.3 4.8 C99.5 5.6 92.9 6.2 90.9 5.4 C88.9 4.7 87.5 1.2 89.4 0.4Z" fill="#f8c030"/><path d="M107.6 4.8 C108.9 3.6 114.2 2.3 116.1 2.9 C118.0 3.5 119.6 7.0 119.2 8.6 C118.9 10.2 115.7 12.1 113.9 12.4 C112.1 12.6 109.3 11.4 108.2 10.2 C107.2 8.9 106.3 6.0 107.6 4.8Z" fill="#ff5a10"/><path d="M117.7 14.2 C118.9 13.4 124.9 12.7 126.5 13.3 C128.1 13.9 128.3 17.1 127.1 18.0 C125.9 18.9 120.8 19.3 119.2 18.6 C117.7 18.0 116.5 15.1 117.7 14.2Z" fill="#ff9a30"/><path d="M130.3 0.4 C133.7 -0.4 148.3 -0.4 152.3 0.4 C156.2 1.2 155.4 4.3 153.8 5.4 C152.3 6.5 146.5 7.0 142.8 7.0 C139.2 7.0 133.9 6.5 131.8 5.4 C129.7 4.3 126.8 1.2 130.3 0.4Z" fill="#ffb040"/><path d="M29.0 14.2 C30.0 13.8 34.8 14.8 35.9 15.5 C36.9 16.2 36.3 18.2 35.3 18.6 C34.2 19.1 30.6 18.8 29.6 18.0 C28.6 17.3 27.9 14.7 29.0 14.2Z" fill="#ffc890"/><path d="M75.2 14.9 C76.8 14.0 81.8 13.0 86.2 13.3 C90.7 13.6 98.3 15.1 101.9 16.4 C105.6 17.8 108.8 20.1 108.2 21.2 C107.7 22.2 102.5 23.0 98.8 22.7 C95.1 22.5 89.9 20.3 86.2 19.6 C82.5 18.9 78.6 19.4 76.8 18.6 C74.9 17.9 73.6 15.8 75.2 14.9Z" fill="#ffa040"/><path d="M73.6 8.6 C74.2 7.3 78.9 8.6 81.5 10.2 C84.1 11.7 87.0 15.1 89.4 18.0 C91.7 20.9 95.4 25.1 95.7 27.5 C95.9 29.8 92.8 32.4 90.9 32.2 C89.1 31.9 86.7 28.2 84.6 25.9 C82.5 23.5 80.2 20.9 78.4 18.0 C76.5 15.1 73.1 9.9 73.6 8.6Z" fill="#f8d040"/><path d="M95.7 22.7 C98.5 22.1 108.2 22.2 114.5 22.7 C120.8 23.3 127.1 25.4 133.4 25.9 C139.7 26.4 149.1 25.4 152.3 25.9 C155.4 26.4 155.4 28.3 152.3 29.0 C149.1 29.7 139.7 30.1 133.4 30.0 C127.1 29.8 120.6 28.6 114.5 28.1 C108.5 27.6 100.4 27.7 97.2 26.8 C94.1 25.9 92.8 23.4 95.7 22.7Z" fill="#f4e060"/><path d="M32.7 22.7 C33.6 21.8 37.4 22.5 38.4 23.7 C39.5 24.9 39.9 29.0 39.0 30.0 C38.2 30.9 34.4 30.5 33.4 29.3 C32.3 28.1 31.9 23.7 32.7 22.7Z" fill="#f8c040"/><path d="M4.4 30.6 C5.5 29.3 10.2 28.0 13.9 27.5 C17.5 26.9 22.8 27.7 26.5 27.5 C30.1 27.2 33.3 25.6 35.9 25.9 C38.5 26.1 42.7 28.0 42.2 29.0 C41.7 30.1 36.4 31.4 32.7 32.2 C29.1 33.0 24.4 33.2 20.2 33.7 C16.0 34.3 10.2 35.8 7.6 35.3 C5.0 34.8 3.4 31.9 4.4 30.6Z" fill="#78e278"/><path d="M4.4 33.7 C6.5 32.2 12.8 33.2 17.0 33.7 C21.2 34.3 27.0 34.8 29.6 36.9 C32.2 39.0 32.7 43.2 32.7 46.3 C32.7 49.5 31.2 53.7 29.6 55.8 C28.0 57.9 25.9 58.6 23.3 58.9 C20.7 59.2 16.5 58.6 13.9 57.3 C11.3 56.0 9.2 53.4 7.6 51.0 C6.0 48.7 5.0 46.1 4.4 43.2 C3.9 40.3 2.3 35.3 4.4 33.7Z" fill="#70d890"/><path d="M4.4 43.2 C6.0 42.4 11.3 44.5 13.9 46.3 C16.5 48.2 19.6 52.1 20.2 54.2 C20.7 56.3 19.1 58.6 17.0 58.9 C14.9 59.2 9.7 57.1 7.6 55.8 C5.5 54.5 5.0 53.1 4.4 51.0 C3.9 48.9 2.9 44.0 4.4 43.2Z" fill="#5a6ae8"/><path d="M34.3 25.9 C36.7 23.3 44.5 24.0 48.5 24.3 C52.4 24.6 55.5 25.4 57.9 27.5 C60.3 29.6 61.6 33.7 62.6 36.9 C63.7 40.0 65.0 43.7 64.2 46.3 C63.4 48.9 60.5 51.0 57.9 52.6 C55.3 54.2 51.6 56.0 48.5 55.8 C45.3 55.5 41.4 53.7 39.0 51.0 C36.7 48.4 35.1 44.2 34.3 40.0 C33.5 35.8 32.0 28.5 34.3 25.9Z" fill="#6ade6a"/><path d="M42.2 33.7 C43.8 32.1 49.3 32.1 51.6 33.1 C54.0 34.2 56.6 37.8 56.3 40.0 C56.1 42.2 52.4 45.8 50.0 46.3 C47.7 46.9 43.5 45.3 42.2 43.2 C40.9 41.1 40.6 35.4 42.2 33.7Z" fill="#d0f4d0"/><path d="M70.5 32.2 C73.1 30.1 81.5 30.3 86.2 30.6 C90.9 30.9 94.6 32.7 98.8 33.7 C103.0 34.8 107.7 35.8 111.4 36.9 C115.1 37.9 118.7 37.9 120.8 40.0 C122.9 42.1 124.0 46.6 124.0 49.5 C124.0 52.4 123.4 55.8 120.8 57.3 C118.2 58.9 112.4 58.9 108.2 58.9 C104.0 58.9 99.8 57.9 95.7 57.3 C91.5 56.8 86.7 56.5 83.1 55.8 C79.4 55.0 75.7 54.7 73.6 52.6 C71.5 50.5 71.0 46.6 70.5 43.2 C70.0 39.8 67.9 34.3 70.5 32.2Z" fill="#58da58"/><path d="M89.4 38.5 C91.5 37.2 98.8 38.7 101.9 40.0 C105.1 41.3 108.8 44.5 108.2 46.3 C107.7 48.2 101.9 50.8 98.8 51.0 C95.7 51.3 90.9 50.0 89.4 47.9 C87.8 45.8 87.3 39.8 89.4 38.5Z" fill="#d0f4d0"/><path d="M106.7 49.5 C108.2 48.3 115.1 48.1 117.7 48.8 C120.3 49.6 122.7 52.8 122.4 54.2 C122.1 55.6 118.5 57.1 116.1 57.3 C113.7 57.6 109.8 57.1 108.2 55.8 C106.7 54.5 105.1 50.6 106.7 49.5Z" fill="#2a8a70"/><path d="M64.2 54.2 C66.3 53.4 77.3 53.7 83.1 54.2 C88.8 54.7 97.8 56.3 98.8 57.3 C99.8 58.4 94.1 60.2 89.4 60.5 C84.6 60.7 74.7 60.0 70.5 58.9 C66.3 57.9 62.1 55.0 64.2 54.2Z" fill="#78e278"/><path d="M127.1 27.5 C129.2 25.4 138.1 26.9 142.8 27.5 C147.6 28.0 152.8 28.5 155.4 30.6 C158.0 32.7 159.1 37.2 158.6 40.0 C158.0 42.9 155.4 46.6 152.3 47.9 C149.1 49.2 143.4 49.2 139.7 47.9 C136.0 46.6 132.4 43.4 130.3 40.0 C128.2 36.6 125.0 29.6 127.1 27.5Z" fill="#a8eaa0"/><path d="M42.2 62.1 C44.3 60.6 53.7 58.9 57.9 58.9 C62.1 58.9 66.8 60.7 67.3 62.1 C67.9 63.4 64.7 65.8 61.1 66.8 C57.4 67.7 48.5 68.5 45.3 67.7 C42.2 66.9 40.1 63.5 42.2 62.1Z" fill="#78e278"/><path d="M136.5 51.0 C138.6 49.4 143.1 48.7 146.0 48.8 C148.9 49.0 152.3 50.0 153.8 52.0 C155.4 53.9 155.7 57.8 155.4 60.5 C155.2 63.2 154.4 66.5 152.3 68.3 C150.2 70.2 145.7 71.5 142.8 71.5 C140.0 71.5 136.5 70.4 135.0 68.3 C133.4 66.2 133.1 61.8 133.4 58.9 C133.7 56.0 134.4 52.7 136.5 51.0Z" fill="#1c20f0"/><path d="M130.3 66.8 C131.8 66.0 139.2 68.9 142.8 69.9 C146.5 71.0 151.7 72.1 152.3 73.1 C152.8 74.1 149.1 75.6 146.0 75.9 C142.8 76.2 136.0 76.2 133.4 74.6 C130.8 73.1 128.7 67.6 130.3 66.8Z" fill="#8a80f0"/><path d="M23.3 69.9 C24.4 68.9 29.1 68.2 32.7 67.7 C36.4 67.2 41.1 66.7 45.3 66.8 C49.5 66.9 56.3 67.3 57.9 68.3 C59.5 69.4 57.4 72.0 54.8 73.1 C52.1 74.1 46.9 74.5 42.2 74.6 C37.5 74.8 29.6 74.8 26.5 74.0 C23.3 73.2 22.3 71.0 23.3 69.9Z" fill="#4a50f0"/><path d="M-0.9 -0.9 L81.6 -0.9 L81.6 81.9 L-0.9 81.9Z" fill="#ffffff"/><path d="M50.5 1.4 C50.8 0.6 52.9 -0.1 54.0 0.0 C55.2 0.1 57.1 0.9 57.5 1.7 C58.0 2.6 57.5 4.4 56.6 4.9 C55.8 5.4 53.3 5.5 52.3 4.9 C51.3 4.3 50.3 2.2 50.5 1.4Z" fill="#ffa030"/><path d="M69.7 5.2 C70.3 4.5 73.0 3.8 74.9 3.5 C76.9 3.2 80.5 2.6 81.6 3.5 C82.7 4.4 82.4 7.9 81.6 8.7 C80.8 9.5 78.4 8.5 76.7 8.4 C75.0 8.2 72.6 8.4 71.5 7.8 C70.3 7.3 69.1 6.0 69.7 5.2Z" fill="#ffb040"/><path d="M31.4 15.7 C31.7 15.0 33.4 14.3 34.0 14.8 C34.6 15.3 35.1 18.1 34.9 18.8 C34.6 19.5 32.8 19.7 32.2 19.2 C31.7 18.6 31.1 16.4 31.4 15.7Z" fill="#ffd0a0"/><path d="M74.9 17.4 C75.4 16.8 78.2 16.9 79.3 17.1 C80.4 17.2 81.2 17.7 81.6 18.3 C81.9 18.9 82.4 20.5 81.6 20.9 C80.8 21.4 77.8 21.5 76.7 20.9 C75.6 20.3 74.5 18.1 74.9 17.4Z" fill="#ffa040"/><path d="M32.2 23.5 C32.5 22.7 34.0 22.4 34.9 22.7 C35.7 22.9 37.2 24.3 37.5 25.3 C37.8 26.2 37.3 27.8 36.6 28.2 C35.9 28.7 34.2 28.7 33.5 27.9 C32.7 27.1 32.0 24.4 32.2 23.5Z" fill="#ffa030"/><path d="M40.1 26.1 C40.6 25.4 43.2 25.5 44.4 25.8 C45.7 26.1 47.1 27.1 47.4 27.9 C47.7 28.7 47.2 30.2 46.2 30.5 C45.2 30.8 42.5 30.7 41.5 30.0 C40.5 29.3 39.6 26.8 40.1 26.1Z" fill="#f4e060"/><path d="M66.2 30.0 C66.7 29.1 69.9 29.0 71.5 29.3 C73.0 29.5 74.9 30.4 75.3 31.4 C75.7 32.3 75.1 34.3 74.1 34.9 C73.0 35.4 70.2 35.3 68.8 34.5 C67.5 33.7 65.8 30.8 66.2 30.0Z" fill="#f4e060"/><path d="M2.6 32.2 C3.5 31.4 7.4 30.8 10.5 30.5 C13.5 30.2 17.7 30.4 20.9 30.5 C24.1 30.6 27.9 30.8 29.6 31.4 C31.4 32.0 32.0 33.3 31.4 34.0 C30.8 34.7 28.2 35.3 26.1 35.7 C24.1 36.2 21.5 36.6 19.2 36.6 C16.8 36.6 14.5 35.9 12.2 35.7 C9.9 35.6 6.8 36.3 5.2 35.7 C3.6 35.1 1.7 33.1 2.6 32.2Z" fill="#70dc70"/><path d="M8.7 32.8 C9.3 32.4 15.4 32.2 17.4 32.4 C19.5 32.6 21.5 33.6 20.9 34.0 C20.3 34.3 16.0 34.7 13.9 34.5 C11.9 34.3 8.1 33.1 8.7 32.8Z" fill="#ffffff"/><path d="M10.5 37.5 C11.6 36.9 15.4 36.7 17.4 36.9 C19.5 37.2 22.1 38.3 22.7 39.2 C23.2 40.1 22.2 41.7 20.9 42.2 C19.6 42.6 16.5 42.2 14.8 41.8 C13.1 41.5 11.5 40.8 10.8 40.1 C10.1 39.4 9.4 38.0 10.5 37.5Z" fill="#80e080"/><path d="M3.5 41.8 C4.2 40.9 6.7 40.9 7.8 41.5 C9.0 42.1 10.2 43.8 10.5 45.3 C10.7 46.8 10.3 49.6 9.6 50.5 C8.9 51.5 7.1 51.5 6.1 50.9 C5.1 50.3 3.9 48.6 3.5 47.1 C3.1 45.5 2.8 42.8 3.5 41.8Z" fill="#40a8b0"/><path d="M9.6 45.7 C10.9 44.9 15.0 45.7 17.4 46.2 C19.9 46.7 22.5 47.8 24.4 48.8 C26.3 49.8 27.9 51.0 28.8 52.3 C29.6 53.6 30.1 55.7 29.6 56.6 C29.2 57.6 27.6 58.2 26.1 57.9 C24.7 57.6 22.9 55.8 20.9 54.9 C18.9 54.0 15.8 53.0 13.9 52.3 C12.1 51.6 10.3 51.6 9.6 50.5 C8.9 49.4 8.3 46.4 9.6 45.7Z" fill="#6ad870"/><path d="M15.7 63.6 C16.0 62.7 19.2 61.1 20.9 60.1 C22.7 59.1 24.7 57.7 26.1 57.5 C27.6 57.3 29.6 58.0 29.6 58.9 C29.6 59.8 27.9 61.6 26.1 62.7 C24.4 63.9 20.9 65.7 19.2 65.9 C17.4 66.0 15.4 64.6 15.7 63.6Z" fill="#3040e0"/><path d="M22.7 71.5 C23.5 70.9 27.3 70.3 29.6 69.7 C32.0 69.1 34.6 68.1 36.6 68.0 C38.6 67.8 40.1 68.6 41.8 68.8 C43.6 69.1 45.3 69.7 47.1 69.7 C48.8 69.7 50.5 68.7 52.3 68.8 C54.0 69.0 57.2 69.9 57.5 70.6 C57.8 71.3 55.8 72.6 54.0 73.2 C52.3 73.8 49.7 74.1 47.1 74.1 C44.4 74.1 41.2 73.4 38.3 73.2 C35.4 73.0 32.0 72.9 29.6 72.9 C27.3 72.8 25.6 73.1 24.4 72.9 C23.2 72.6 21.8 72.0 22.7 71.5Z" fill="#5a5ae8"/><path d="M34.0 31.4 C35.3 30.5 39.1 30.6 41.8 31.4 C44.6 32.1 48.2 34.0 50.5 35.7 C52.9 37.5 54.6 39.4 55.8 41.8 C56.9 44.3 58.1 47.9 57.5 50.5 C56.9 53.2 54.3 56.6 52.3 57.5 C50.3 58.4 47.3 56.9 45.3 55.8 C43.3 54.6 41.5 52.6 40.1 50.5 C38.6 48.5 37.6 45.9 36.6 43.6 C35.6 41.2 34.4 38.6 34.0 36.6 C33.6 34.6 32.7 32.2 34.0 31.4Z" fill="#90e690"/><path d="M34.9 32.8 C35.6 32.2 39.2 31.9 41.0 32.2 C42.8 32.6 44.4 33.7 45.7 34.9 C47.0 36.0 48.8 38.3 48.8 39.2 C48.8 40.1 46.9 40.5 45.7 40.1 C44.4 39.7 43.0 37.3 41.5 36.6 C40.0 35.9 37.7 36.4 36.6 35.7 C35.5 35.1 34.1 33.3 34.9 32.8Z" fill="#50d050"/><path d="M43.6 48.8 C44.5 48.4 48.5 49.1 50.5 49.7 C52.6 50.3 55.4 51.1 56.1 52.3 C56.8 53.4 56.0 56.1 54.9 56.6 C53.8 57.2 51.3 56.2 49.7 55.4 C48.0 54.7 46.0 53.4 45.0 52.3 C44.0 51.2 42.6 49.2 43.6 48.8Z" fill="#50d050"/><path d="M41.0 39.2 C41.9 38.5 45.7 39.0 47.1 40.1 C48.4 41.2 49.6 44.4 49.2 45.7 C48.7 46.9 45.7 47.6 44.4 47.4 C43.2 47.2 42.1 45.8 41.5 44.4 C40.9 43.1 40.0 39.9 41.0 39.2Z" fill="#e8f8e8"/><path d="M69.7 32.2 C70.7 31.1 74.7 31.4 76.7 31.4 C78.7 31.4 80.8 29.0 81.6 32.2 C82.4 35.4 82.2 47.5 81.6 50.5 C80.9 53.6 79.0 51.4 77.6 50.5 C76.2 49.7 74.4 47.3 73.2 45.3 C72.0 43.3 71.2 40.5 70.6 38.3 C70.0 36.2 68.7 33.4 69.7 32.2Z" fill="#70dc70"/><path d="M64.5 55.8 C65.8 55.0 70.4 54.7 73.2 54.4 C76.0 54.1 80.2 53.5 81.6 54.0 C83.0 54.6 83.0 56.8 81.6 57.5 C80.2 58.2 75.9 58.2 73.2 58.4 C70.5 58.6 66.8 59.3 65.4 58.9 C63.9 58.5 63.2 56.5 64.5 55.8Z" fill="#70dc70"/><path d="M54.0 65.4 C54.6 64.2 57.2 63.2 59.3 62.7 C61.3 62.3 64.8 62.3 66.2 62.7 C67.7 63.2 68.6 64.3 68.0 65.4 C67.4 66.4 64.8 68.1 62.7 68.8 C60.7 69.6 57.2 70.3 55.8 69.7 C54.3 69.1 53.4 66.5 54.0 65.4Z" fill="#50c0a0"/><path d="M4.4 43.2 C5.6 42.9 8.6 44.5 10.7 46.3 C12.8 48.2 14.7 51.8 17.0 54.2 C19.4 56.6 23.3 58.9 24.9 60.5 C26.5 62.1 27.0 62.9 26.5 63.6 C25.9 64.3 23.8 65.4 21.7 64.6 C19.6 63.8 16.2 60.9 13.9 58.9 C11.5 56.9 9.3 54.5 7.6 52.6 C5.9 50.8 4.3 49.5 3.8 47.9 C3.3 46.3 3.3 43.4 4.4 43.2Z" fill="#3848e0"/><path d="M139.1 55.1 C139.9 53.9 143.6 53.4 145.4 53.9 C147.1 54.4 149.7 56.8 149.8 58.3 C149.9 59.7 147.6 62.2 146.0 62.7 C144.4 63.2 141.5 62.7 140.3 61.4 C139.2 60.2 138.2 56.4 139.1 55.1Z" fill="#c8c8f8"/></g></g>
<g clip-path="url(#cqd)"><clipPath id="cqd"><rect x="0" y="0" width="163" height="80"/></clipPath><polyline points="76.6,0.0 75.6,2.0 75.6,5.0 77.6,8.0 80.6,13.0 84.6,17.0 86.6,19.0 86.1,24.0 85.6,30.0 84.6,34.0 83.6,37.0 83.1,41.0 82.6,44.0 81.6,47.0 81.6,50.0 82.6,52.0 84.6,53.5 86.6,54.5 89.6,55.0 90.6,54.5 88.6,53.5 87.6,52.0 88.6,50.0 89.6,48.0 90.6,46.0 91.6,44.0 92.6,42.5 91.6,41.0 94.6,39.0 98.6,38.5 99.6,36.0 99.6,35.0 101.6,34.5 103.6,33.5 106.6,31.0 108.1,28.0 108.6,26.0 111.6,23.5 115.6,22.0 116.6,20.0 117.6,17.0 118.6,13.0 121.6,9.0 121.6,6.0 119.6,4.5 116.6,3.0 112.6,2.5 108.6,1.0 106.6,0.0" fill="none" stroke="#9a9a9a" stroke-width="0.55" stroke-opacity="0.85"/><polyline points="-13.4,78.0 -3.4,77.5 6.6,76.5 16.6,75.5 26.6,74.8 36.6,74.0 46.6,74.2 56.6,73.8 66.6,72.8 76.6,73.0 81.6,72.5 86.6,71.5 88.6,70.0 89.6,68.0 91.6,66.5 94.6,65.0 97.6,63.8 99.6,63.3 98.6,64.5 96.6,66.0 95.1,68.0 94.6,70.0 95.6,72.5 96.6,74.5 101.6,76.0 106.6,77.5 111.6,78.2 118.6,77.8 124.6,77.0 129.6,75.0 136.6,72.0 141.6,71.0 146.6,70.5 156.6,70.0 166.6,70.0" fill="none" stroke="#9a9a9a" stroke-width="0.55" stroke-opacity="0.85"/><polyline points="95.6,62.2 98.6,61.8 101.6,61.3" fill="none" stroke="#aaa" stroke-width="0.5"/></g>
<rect x="0.5" y="0.5" width="162" height="79" fill="none" stroke="#d8d8d8" stroke-width="0.8"/>
<path d="M12.5 61.8 L13.4 68.8 L12.5 77.3 L11.6 68.8 Z" fill="#333"/><path d="M5.5 68.8 L12.5 68.0 L20.5 68.8 L12.5 69.6 Z" fill="#333"/><rect x="11.8" y="58.3" width="1.4" height="1.4" fill="#444"/><rect x="11.8" y="77.8" width="1.4" height="1.4" fill="#444"/><rect x="2.1999999999999993" y="68.1" width="1.6" height="1.4" fill="#444"/><rect x="21.1" y="68.1" width="1.2" height="1.4" fill="#444"/>
<text x="160.5" y="75" font-size="13" text-anchor="end" fill="#151515" stroke="#151515" stroke-width="0.3">(d)</text>
<text x="-1.6" y="3.0" font-size="6" text-anchor="end" fill="#333">0</text>
<text x="-1.6" y="23.0" font-size="6" text-anchor="end" fill="#333">20</text>
<text x="-1.6" y="43.0" font-size="6" text-anchor="end" fill="#333">40</text>
<text x="-1.6" y="63.0" font-size="6" text-anchor="end" fill="#333">60</text>
<text x="16.6" y="87.8" font-size="6" text-anchor="middle" fill="#333">140</text>
<text x="36.6" y="87.8" font-size="6" text-anchor="middle" fill="#333">120</text>
<text x="56.6" y="87.8" font-size="6" text-anchor="middle" fill="#333">100</text>
<text x="76.6" y="87.8" font-size="6" text-anchor="middle" fill="#333">80</text>
<text x="96.6" y="87.8" font-size="6" text-anchor="middle" fill="#333">60</text>
<text x="116.6" y="87.8" font-size="6" text-anchor="middle" fill="#333">40</text>
<text x="136.6" y="87.8" font-size="6" text-anchor="middle" fill="#333">20</text>
<text x="156.6" y="87.8" font-size="6" text-anchor="middle" fill="#333">0</text>
<text x="82" y="96.8" font-size="6.2" text-anchor="middle" fill="#222" textLength="36.8" lengthAdjust="spacingAndGlyphs">Longitude (°W)</text>
<text transform="translate(-9.6,40) rotate(-90)" x="0" y="0" font-size="6.2" text-anchor="middle" fill="#222" textLength="29.6" lengthAdjust="spacingAndGlyphs">Latitude (°S)</text>
</g>
<g transform="translate(200,128)">
<clipPath id="cpe"><rect x="0" y="0" width="163" height="80"/></clipPath><g clip-path="url(#cpe)"><g filter="url(#rough)"><path d="M1.3 10.2 C1.9 8.8 4.2 8.8 5.1 10.2 C5.9 11.5 6.2 15.6 6.3 18.0 C6.5 20.5 6.6 23.6 6.0 24.9 C5.4 26.2 3.3 27.0 2.5 25.9 C1.8 24.7 1.5 20.6 1.3 18.0 C1.1 15.4 0.7 11.5 1.3 10.2Z" fill="#2a30f0"/><path d="M2.5 24.9 C3.3 23.6 6.2 24.7 7.6 25.9 C8.9 27.1 10.3 29.8 10.7 32.2 C11.1 34.5 11.0 38.6 10.1 40.0 C9.2 41.5 6.3 41.7 5.1 40.7 C3.9 39.6 3.3 36.4 2.9 33.7 C2.4 31.1 1.8 26.2 2.5 24.9Z" fill="#2aa0a0"/><path d="M2.5 35.3 C3.1 34.4 5.6 35.2 6.3 36.3 C7.1 37.3 7.5 40.7 7.0 41.6 C6.4 42.5 3.6 42.7 2.9 41.6 C2.1 40.6 2.0 36.2 2.5 35.3Z" fill="#6a60f0"/><path d="M12.3 4.8 C13.3 3.8 17.8 3.2 20.2 3.9 C22.5 4.5 25.5 6.9 26.5 8.6 C27.4 10.3 27.0 13.2 25.8 14.2 C24.7 15.3 21.5 15.6 19.5 14.9 C17.5 14.2 15.1 11.8 13.9 10.2 C12.7 8.5 11.3 5.9 12.3 4.8Z" fill="#ffb040"/><path d="M17.0 10.2 C17.8 9.3 22.0 9.4 23.3 10.2 C24.6 10.9 25.7 14.0 24.9 14.9 C24.1 15.8 19.9 16.3 18.6 15.5 C17.3 14.7 16.2 11.0 17.0 10.2Z" fill="#f0e040"/><path d="M9.5 10.5 C10.2 10.2 12.6 10.9 13.9 12.0 C15.2 13.2 16.2 15.3 17.3 17.4 C18.5 19.4 19.3 22.2 20.8 24.3 C22.3 26.4 23.8 28.9 26.1 30.0 C28.5 31.1 32.1 30.8 34.9 30.9 C37.8 31.1 40.6 30.0 43.4 30.9 C46.3 31.8 49.8 34.2 52.2 36.3 C54.7 38.3 57.6 41.6 58.2 43.2 C58.8 44.8 57.3 46.2 55.7 46.0 C54.1 45.8 51.1 43.1 48.8 41.9 C46.5 40.7 44.5 39.3 41.9 38.8 C39.2 38.3 35.7 39.1 33.1 39.1 C30.4 39.0 28.2 39.3 26.1 38.5 C24.1 37.6 22.5 36.1 20.8 34.1 C19.1 32.0 17.3 28.7 15.8 26.2 C14.2 23.7 12.4 21.3 11.4 19.3 C10.3 17.2 9.8 15.4 9.5 13.9 C9.2 12.5 8.7 10.8 9.5 10.5Z" fill="#6ade6a"/><path d="M17.0 21.2 C17.3 21.0 19.0 24.2 20.2 25.9 C21.3 27.6 23.7 30.2 23.9 31.2 C24.2 32.3 22.7 32.9 21.7 32.2 C20.8 31.4 19.1 28.7 18.3 26.8 C17.5 25.0 16.7 21.3 17.0 21.2Z" fill="#ffffff"/><path d="M42.2 30.6 C43.2 29.7 47.4 29.2 50.0 30.0 C52.7 30.8 56.3 33.6 57.9 35.3 C59.5 37.0 60.5 39.5 59.5 40.0 C58.4 40.6 54.2 39.3 51.6 38.5 C49.0 37.7 45.3 36.6 43.8 35.3 C42.2 34.0 41.1 31.5 42.2 30.6Z" fill="#d8e040"/><path d="M17.0 44.8 C19.4 43.7 28.0 42.9 32.7 43.2 C37.5 43.4 42.7 44.3 45.3 46.3 C47.9 48.3 49.5 53.3 48.5 55.1 C47.4 57.0 42.7 57.7 39.0 57.3 C35.4 57.0 29.9 54.6 26.5 53.2 C23.0 51.9 20.2 50.9 18.6 49.5 C17.0 48.1 14.7 45.8 17.0 44.8Z" fill="#6ade6a"/><path d="M26.5 58.9 C28.0 57.9 35.4 57.8 39.0 58.3 C42.7 58.8 47.9 60.8 48.5 62.1 C49.0 63.3 45.3 65.4 42.2 65.8 C39.0 66.2 32.2 65.7 29.6 64.6 C27.0 63.4 24.9 60.0 26.5 58.9Z" fill="#70dc70"/><path d="M42.2 63.6 C44.3 62.0 52.1 61.5 57.9 60.5 C63.7 59.4 71.5 58.4 76.8 57.3 C82.0 56.3 85.2 54.5 89.4 54.2 C93.6 53.9 100.4 54.2 101.9 55.8 C103.5 57.3 101.4 61.5 98.8 63.6 C96.2 65.7 90.9 66.9 86.2 68.3 C81.5 69.8 75.7 71.3 70.5 72.1 C65.2 73.0 59.0 73.7 54.8 73.4 C50.6 73.1 47.4 71.9 45.3 70.2 C43.2 68.6 40.1 65.3 42.2 63.6Z" fill="#58da58"/><path d="M57.9 65.2 C57.9 64.5 66.8 62.9 70.5 62.7 C74.2 62.4 79.9 62.9 79.9 63.6 C79.9 64.3 74.2 66.5 70.5 66.8 C66.8 67.0 57.9 65.9 57.9 65.2Z" fill="#d0f4d0"/><path d="M75.2 1.7 C75.7 0.6 79.1 1.1 81.5 2.3 C83.9 3.4 86.5 6.2 89.4 8.6 C92.2 10.9 97.0 14.2 98.8 16.4 C100.6 18.6 101.2 20.7 100.4 21.8 C99.6 22.8 96.4 23.9 94.1 22.7 C91.7 21.6 88.8 17.2 86.2 14.9 C83.6 12.5 80.2 10.8 78.4 8.6 C76.5 6.4 74.7 2.7 75.2 1.7Z" fill="#6ade6a"/><path d="M75.2 13.3 C75.7 12.3 79.1 13.6 81.5 14.9 C83.9 16.2 87.5 19.1 89.4 21.2 C91.2 23.3 93.0 26.4 92.5 27.5 C92.0 28.5 88.6 28.5 86.2 27.5 C83.9 26.4 80.2 23.5 78.4 21.2 C76.5 18.8 74.7 14.3 75.2 13.3Z" fill="#ffa030"/><path d="M89.4 18.6 C90.4 17.5 97.8 19.5 101.9 20.5 C106.1 21.6 110.3 23.4 114.5 24.9 C118.7 26.5 124.5 28.2 127.1 30.0 C129.7 31.7 131.3 34.3 130.3 35.3 C129.2 36.4 124.5 36.8 120.8 36.3 C117.1 35.7 112.4 33.6 108.2 32.2 C104.0 30.7 98.8 29.7 95.7 27.5 C92.5 25.2 88.3 19.8 89.4 18.6Z" fill="#f4e050"/><path d="M120.8 30.6 C122.7 30.0 129.2 32.1 133.4 33.1 C137.6 34.2 141.8 35.7 146.0 36.9 C150.2 38.0 156.5 38.5 158.6 40.0 C160.7 41.6 160.7 45.4 158.6 46.3 C156.5 47.3 150.2 46.5 146.0 45.7 C141.8 44.9 137.3 43.1 133.4 41.6 C129.5 40.1 124.5 38.7 122.4 36.9 C120.3 35.1 119.0 31.2 120.8 30.6Z" fill="#6ade6a"/><path d="M142.8 43.2 C144.1 42.1 151.1 42.1 153.8 42.6 C156.6 43.0 158.9 44.5 159.2 45.7 C159.5 46.9 157.6 48.9 155.4 49.5 C153.2 50.0 148.1 49.9 146.0 48.8 C143.9 47.8 141.5 44.2 142.8 43.2Z" fill="#6ade6a"/><path d="M156.0 47.0 C156.9 47.2 159.4 48.7 159.2 50.1 C159.0 51.5 156.9 53.7 154.8 55.1 C152.7 56.5 149.4 57.7 146.6 58.6 C143.8 59.5 139.9 60.5 138.1 60.5 C136.3 60.4 134.9 59.1 135.9 58.3 C136.9 57.4 141.5 56.4 144.1 55.4 C146.7 54.5 150.0 53.4 151.6 52.3 C153.3 51.2 153.4 49.7 154.2 48.8 C154.9 48.0 155.2 46.7 156.0 47.0Z" fill="#3a70d0"/><path d="M114.5 46.3 C116.7 44.5 123.4 42.9 127.1 43.2 C130.8 43.4 133.9 45.8 136.5 47.9 C139.2 50.0 142.8 53.1 142.8 55.8 C142.8 58.4 139.7 61.8 136.5 63.6 C133.4 65.5 127.4 67.0 124.0 66.8 C120.6 66.5 117.8 64.2 116.1 62.1 C114.4 60.0 114.2 56.8 113.9 54.2 C113.6 51.6 112.3 48.2 114.5 46.3Z" fill="#6ade6a"/><path d="M120.8 51.0 C122.0 49.9 126.6 48.9 128.7 49.5 C130.8 50.0 133.7 52.6 133.4 54.2 C133.1 55.8 129.1 58.5 127.1 58.9 C125.1 59.3 122.5 57.7 121.4 56.4 C120.4 55.1 119.6 52.2 120.8 51.0Z" fill="#d0f4d0"/><path d="M111.4 66.8 C113.0 65.7 121.9 66.5 127.1 66.8 C132.4 67.0 141.3 67.3 142.8 68.3 C144.4 69.4 140.7 72.3 136.5 73.1 C132.4 73.8 121.9 74.1 117.7 73.1 C113.5 72.0 109.8 67.8 111.4 66.8Z" fill="#70dc70"/><path d="M105.1 1.0 C109.3 0.2 128.6 -0.2 133.4 0.4 C138.2 1.0 138.2 4.0 134.0 4.8 C129.8 5.6 113.1 6.1 108.2 5.4 C103.4 4.8 100.9 1.9 105.1 1.0Z" fill="#ffa030"/><path d="M127.1 6.1 C128.1 5.2 131.8 5.2 132.8 6.1 C133.7 6.9 133.7 10.3 132.8 11.1 C131.8 11.9 128.1 11.9 127.1 11.1 C126.2 10.3 126.2 6.9 127.1 6.1Z" fill="#ffa030"/><path d="M139.7 21.2 C141.5 20.6 148.6 21.7 152.3 22.7 C155.9 23.8 160.2 26.0 161.7 27.5 C163.2 28.9 162.9 31.0 161.1 31.2 C159.2 31.5 154.0 29.9 150.7 29.0 C147.4 28.1 143.1 27.2 141.3 25.9 C139.4 24.6 137.9 21.7 139.7 21.2Z" fill="#ffa030"/><path d="M93.1 38.5 C94.4 37.3 99.5 36.0 101.9 36.3 C104.4 36.5 106.8 38.4 107.6 40.0 C108.4 41.7 108.1 45.2 106.7 46.3 C105.2 47.5 100.9 47.5 98.8 47.0 C96.7 46.4 95.0 44.6 94.1 43.2 C93.1 41.8 91.8 39.6 93.1 38.5Z" fill="#f0e040"/><path d="M95.7 43.2 C97.3 42.1 103.4 43.2 105.1 44.8 C106.8 46.3 106.5 50.8 105.7 52.6 C104.9 54.5 102.2 56.0 100.4 55.8 C98.6 55.5 95.8 53.1 95.0 51.0 C94.2 48.9 94.0 44.2 95.7 43.2Z" fill="#6ade6a"/><path d="M105.1 13.3 C106.4 12.0 113.7 12.3 116.1 13.3 C118.5 14.3 120.6 18.3 119.2 19.6 C117.9 20.9 110.6 22.2 108.2 21.2 C105.9 20.1 103.8 14.6 105.1 13.3Z" fill="#70dc70"/><path d="M73.6 43.2 C74.7 41.6 79.9 41.9 81.5 43.2 C83.1 44.5 84.1 49.5 83.1 51.0 C82.0 52.6 76.8 53.9 75.2 52.6 C73.6 51.3 72.6 44.8 73.6 43.2Z" fill="#70dc70"/><path d="M7.6 49.5 C8.0 48.8 9.7 48.8 10.1 49.5 C10.5 50.1 10.5 52.6 10.1 53.2 C9.7 53.9 8.0 53.9 7.6 53.2 C7.2 52.6 7.2 50.1 7.6 49.5Z" fill="#6a60f0"/></g></g>
<g clip-path="url(#cqe)"><clipPath id="cqe"><rect x="0" y="0" width="163" height="80"/></clipPath><polyline points="76.6,0.0 75.6,2.0 75.6,5.0 77.6,8.0 80.6,13.0 84.6,17.0 86.6,19.0 86.1,24.0 85.6,30.0 84.6,34.0 83.6,37.0 83.1,41.0 82.6,44.0 81.6,47.0 81.6,50.0 82.6,52.0 84.6,53.5 86.6,54.5 89.6,55.0 90.6,54.5 88.6,53.5 87.6,52.0 88.6,50.0 89.6,48.0 90.6,46.0 91.6,44.0 92.6,42.5 91.6,41.0 94.6,39.0 98.6,38.5 99.6,36.0 99.6,35.0 101.6,34.5 103.6,33.5 106.6,31.0 108.1,28.0 108.6,26.0 111.6,23.5 115.6,22.0 116.6,20.0 117.6,17.0 118.6,13.0 121.6,9.0 121.6,6.0 119.6,4.5 116.6,3.0 112.6,2.5 108.6,1.0 106.6,0.0" fill="none" stroke="#9a9a9a" stroke-width="0.55" stroke-opacity="0.85"/><polyline points="-13.4,78.0 -3.4,77.5 6.6,76.5 16.6,75.5 26.6,74.8 36.6,74.0 46.6,74.2 56.6,73.8 66.6,72.8 76.6,73.0 81.6,72.5 86.6,71.5 88.6,70.0 89.6,68.0 91.6,66.5 94.6,65.0 97.6,63.8 99.6,63.3 98.6,64.5 96.6,66.0 95.1,68.0 94.6,70.0 95.6,72.5 96.6,74.5 101.6,76.0 106.6,77.5 111.6,78.2 118.6,77.8 124.6,77.0 129.6,75.0 136.6,72.0 141.6,71.0 146.6,70.5 156.6,70.0 166.6,70.0" fill="none" stroke="#9a9a9a" stroke-width="0.55" stroke-opacity="0.85"/><polyline points="95.6,62.2 98.6,61.8 101.6,61.3" fill="none" stroke="#aaa" stroke-width="0.5"/></g>
<rect x="0.5" y="0.5" width="162" height="79" fill="none" stroke="#d8d8d8" stroke-width="0.8"/>
<path d="M12.5 61.8 L13.4 68.8 L12.5 77.3 L11.6 68.8 Z" fill="#333"/><path d="M5.5 68.8 L12.5 68.0 L20.5 68.8 L12.5 69.6 Z" fill="#333"/><rect x="11.8" y="58.3" width="1.4" height="1.4" fill="#444"/><rect x="11.8" y="77.8" width="1.4" height="1.4" fill="#444"/><rect x="2.1999999999999993" y="68.1" width="1.6" height="1.4" fill="#444"/><rect x="21.1" y="68.1" width="1.2" height="1.4" fill="#444"/>
<text x="160.5" y="75" font-size="13" text-anchor="end" fill="#151515" stroke="#151515" stroke-width="0.3">(e)</text>
<text x="-1.6" y="3.0" font-size="6" text-anchor="end" fill="#333">0</text>
<text x="-1.6" y="23.0" font-size="6" text-anchor="end" fill="#333">20</text>
<text x="-1.6" y="43.0" font-size="6" text-anchor="end" fill="#333">40</text>
<text x="-1.6" y="63.0" font-size="6" text-anchor="end" fill="#333">60</text>
<text x="16.6" y="87.8" font-size="6" text-anchor="middle" fill="#333">140</text>
<text x="36.6" y="87.8" font-size="6" text-anchor="middle" fill="#333">120</text>
<text x="56.6" y="87.8" font-size="6" text-anchor="middle" fill="#333">100</text>
<text x="76.6" y="87.8" font-size="6" text-anchor="middle" fill="#333">80</text>
<text x="96.6" y="87.8" font-size="6" text-anchor="middle" fill="#333">60</text>
<text x="116.6" y="87.8" font-size="6" text-anchor="middle" fill="#333">40</text>
<text x="136.6" y="87.8" font-size="6" text-anchor="middle" fill="#333">20</text>
<text x="156.6" y="87.8" font-size="6" text-anchor="middle" fill="#333">0</text>
<text x="82" y="96.8" font-size="6.2" text-anchor="middle" fill="#222" textLength="36.8" lengthAdjust="spacingAndGlyphs">Longitude (°W)</text>
<text transform="translate(-9.6,40) rotate(-90)" x="0" y="0" font-size="6.2" text-anchor="middle" fill="#222" textLength="29.6" lengthAdjust="spacingAndGlyphs">Latitude (°S)</text>
</g>
<g transform="translate(382,128)">
<clipPath id="cpf"><rect x="0" y="0" width="163" height="80"/></clipPath><g clip-path="url(#cpf)"><g filter="url(#rough)"><path d="M73.6 2.3 C76.3 0.4 81.5 0.7 89.4 0.4 C97.2 0.1 114.5 -1.0 120.8 0.4 C127.1 1.8 125.8 5.1 127.1 8.6 C128.4 12.0 128.7 17.5 128.7 21.2 C128.7 24.8 129.5 29.0 127.1 30.6 C124.8 32.2 119.2 30.9 114.5 30.6 C109.8 30.3 103.5 29.0 98.8 29.0 C94.1 29.0 89.9 31.4 86.2 30.6 C82.5 29.8 78.9 27.5 76.8 24.3 C74.7 21.2 74.2 15.4 73.6 11.7 C73.1 8.1 71.0 4.2 73.6 2.3Z" fill="#fcf0c8"/><path d="M79.9 1.0 C82.5 -0.6 93.6 0.2 98.8 0.4 C104.0 0.6 108.2 0.9 111.4 2.3 C114.5 3.7 116.9 6.5 117.7 8.6 C118.5 10.7 118.2 13.7 116.1 14.9 C114.0 16.0 109.0 15.8 105.1 15.5 C101.2 15.2 96.2 14.2 92.5 13.3 C88.8 12.4 85.2 12.2 83.1 10.2 C81.0 8.1 77.3 2.7 79.9 1.0Z" fill="#ffbe70"/><path d="M110.8 3.9 C111.6 2.0 116.5 1.9 118.3 2.9 C120.1 4.0 121.1 8.1 121.4 10.2 C121.8 12.3 121.6 14.8 120.2 15.5 C118.8 16.2 114.5 16.2 113.0 14.2 C111.4 12.3 109.9 5.8 110.8 3.9Z" fill="#ff5a10"/><path d="M75.2 10.2 C76.7 8.0 82.8 9.8 86.2 11.1 C89.6 12.4 94.1 15.3 95.7 18.0 C97.2 20.7 97.2 25.4 95.7 27.5 C94.1 29.6 89.3 31.1 86.2 30.6 C83.2 30.1 79.2 27.7 77.4 24.3 C75.6 20.9 73.7 12.4 75.2 10.2Z" fill="#c8e880"/><path d="M95.7 18.0 C97.6 16.9 104.0 16.9 108.2 17.4 C112.4 17.9 117.7 19.2 120.8 21.2 C124.0 23.1 128.2 27.3 127.1 29.0 C126.1 30.7 118.7 31.2 114.5 31.2 C110.3 31.2 105.0 30.2 101.9 29.0 C98.9 27.9 97.3 26.1 96.3 24.3 C95.2 22.5 93.7 19.2 95.7 18.0Z" fill="#98e898"/><path d="M32.7 14.9 C34.6 14.1 41.1 13.0 45.3 13.3 C49.5 13.6 53.7 15.4 57.9 16.4 C62.1 17.5 68.9 18.5 70.5 19.6 C72.1 20.6 70.0 22.4 67.3 22.7 C64.7 23.1 59.0 22.3 54.8 21.8 C50.6 21.3 45.6 20.2 42.2 19.6 C38.8 19.0 35.9 18.8 34.3 18.0 C32.7 17.2 30.9 15.7 32.7 14.9Z" fill="#ffa040"/><path d="M17.0 19.6 C17.8 18.7 23.6 19.9 26.5 20.5 C29.3 21.2 32.7 22.5 34.3 23.7 C35.9 24.8 36.7 26.6 35.9 27.5 C35.1 28.3 32.0 29.0 29.6 28.7 C27.2 28.5 23.8 27.4 21.7 25.9 C19.6 24.4 16.2 20.5 17.0 19.6Z" fill="#b0e050"/><path d="M7.6 33.7 C9.2 32.1 13.3 30.5 17.0 30.0 C20.7 29.4 26.5 29.4 29.6 30.6 C32.7 31.8 35.4 34.3 35.9 36.9 C36.4 39.5 34.3 43.2 32.7 46.3 C31.2 49.5 29.1 53.9 26.5 55.8 C23.8 57.6 19.9 58.4 17.0 57.3 C14.1 56.3 10.7 52.4 9.2 49.5 C7.6 46.6 7.8 42.7 7.6 40.0 C7.3 37.4 6.0 35.4 7.6 33.7Z" fill="#6ade6a"/><path d="M15.4 36.9 C16.9 35.2 22.8 35.2 24.9 36.3 C27.0 37.3 28.3 41.0 28.0 43.2 C27.8 45.4 25.2 48.9 23.3 49.5 C21.4 50.0 17.7 48.4 16.4 46.3 C15.1 44.2 14.0 38.6 15.4 36.9Z" fill="#d0f4d0"/><path d="M45.3 30.6 C46.6 28.2 54.7 26.9 57.9 27.5 C61.2 28.0 64.3 31.4 64.8 33.7 C65.4 36.1 63.5 40.3 61.1 41.6 C58.6 42.9 52.7 43.4 50.0 41.6 C47.4 39.8 44.0 33.0 45.3 30.6Z" fill="#6ade6a"/><path d="M51.0 32.2 C51.8 31.0 56.5 30.4 57.9 31.2 C59.3 32.0 60.3 35.7 59.5 36.9 C58.7 38.1 54.6 39.2 53.2 38.5 C51.8 37.7 50.2 33.4 51.0 32.2Z" fill="#d0f4d0"/><path d="M70.5 27.5 C72.1 25.5 79.9 25.8 83.1 26.8 C86.2 27.9 88.8 31.5 89.4 33.7 C89.9 35.9 88.8 39.2 86.2 40.0 C83.6 40.8 76.3 40.6 73.6 38.5 C71.0 36.4 68.9 29.4 70.5 27.5Z" fill="#78e278"/><path d="M29.6 43.2 C31.4 41.0 39.0 41.5 42.2 42.6 C45.3 43.6 48.5 47.0 48.5 49.5 C48.5 51.9 45.1 56.3 42.2 57.3 C39.3 58.4 33.3 58.1 31.2 55.8 C29.1 53.4 27.8 45.4 29.6 43.2Z" fill="#78e278"/><path d="M73.6 43.2 C76.0 40.6 84.1 40.8 89.4 40.0 C94.6 39.2 99.8 38.5 105.1 38.5 C110.3 38.5 117.1 38.7 120.8 40.0 C124.5 41.3 126.6 43.2 127.1 46.3 C127.6 49.5 126.1 55.8 124.0 58.9 C121.9 62.1 118.2 63.7 114.5 65.2 C110.9 66.7 106.1 67.1 101.9 67.7 C97.8 68.3 93.0 69.4 89.4 69.0 C85.7 68.6 82.3 67.4 79.9 65.2 C77.6 63.0 76.3 59.4 75.2 55.8 C74.2 52.1 71.3 45.8 73.6 43.2Z" fill="#80e480"/><path d="M89.4 46.3 C91.5 45.1 98.8 44.9 101.9 45.7 C105.1 46.5 108.8 49.4 108.2 51.0 C107.7 52.7 101.9 55.4 98.8 55.8 C95.7 56.1 90.9 54.8 89.4 53.2 C87.8 51.7 87.3 47.6 89.4 46.3Z" fill="#d0f4d0"/><path d="M76.8 55.8 C77.8 54.3 85.2 56.6 89.4 57.3 C93.6 58.1 100.9 58.9 101.9 60.5 C103.0 62.1 98.8 65.9 95.7 66.8 C92.5 67.7 86.2 67.7 83.1 65.8 C79.9 64.0 75.7 57.2 76.8 55.8Z" fill="#2a9a80"/><path d="M136.5 35.3 C138.4 33.4 145.5 33.1 149.1 33.1 C152.8 33.1 157.3 33.1 158.6 35.3 C159.9 37.5 159.1 44.1 157.0 46.3 C154.9 48.6 149.1 49.1 146.0 48.8 C142.8 48.6 139.7 47.0 138.1 44.8 C136.5 42.5 134.7 37.3 136.5 35.3Z" fill="#6ade6a"/><path d="M149.1 40.0 C150.3 38.5 156.4 37.4 157.9 38.5 C159.5 39.5 159.8 44.8 158.6 46.3 C157.4 47.9 152.3 48.9 150.7 47.9 C149.1 46.9 147.9 41.6 149.1 40.0Z" fill="#3a40f0"/><path d="M127.1 49.5 C128.2 48.2 135.5 47.6 139.7 47.9 C143.9 48.2 149.4 49.7 152.3 51.0 C155.2 52.4 158.0 54.7 157.0 55.8 C155.9 56.8 149.9 57.3 146.0 57.3 C142.1 57.3 136.5 57.1 133.4 55.8 C130.3 54.5 126.1 50.8 127.1 49.5Z" fill="#50c890"/><path d="M7.6 57.3 C8.5 56.2 11.8 54.9 13.9 55.1 C16.0 55.4 18.6 57.5 20.2 58.9 C21.7 60.3 23.3 62.2 23.3 63.6 C23.3 65.1 22.0 67.2 20.2 67.7 C18.3 68.2 14.3 67.7 12.3 66.8 C10.3 65.8 9.0 63.6 8.2 62.1 C7.4 60.5 6.6 58.5 7.6 57.3Z" fill="#3a30f0"/><path d="M16.4 70.2 C17.6 69.7 22.3 69.1 24.9 68.3 C27.5 67.6 30.7 66.0 32.1 65.8 C33.5 65.6 34.4 66.3 33.4 67.1 C32.3 67.9 28.4 69.8 25.8 70.5 C23.2 71.3 19.2 71.9 17.6 71.8 C16.1 71.8 15.2 70.8 16.4 70.2Z" fill="#5a60f0"/><path d="M83.1 69.9 C84.6 68.6 93.6 66.8 98.8 65.2 C104.0 63.6 110.2 61.0 114.5 60.5 C118.8 60.0 123.5 60.7 124.6 62.1 C125.6 63.4 124.1 66.8 120.8 68.3 C117.6 69.9 110.3 70.7 105.1 71.5 C99.8 72.3 93.0 73.6 89.4 73.4 C85.7 73.1 81.5 71.3 83.1 69.9Z" fill="#1c20f0"/><path d="M127.1 62.1 C128.9 60.6 135.5 58.4 139.7 57.3 C143.9 56.3 149.1 55.5 152.3 55.8 C155.4 56.0 158.0 57.3 158.6 58.9 C159.1 60.5 158.6 63.8 155.4 65.2 C152.3 66.6 144.1 67.0 139.7 67.1 C135.2 67.2 130.8 66.7 128.7 65.8 C126.6 65.0 125.3 63.5 127.1 62.1Z" fill="#1c20f0"/><path d="M1.9 2.9 C2.8 2.4 6.7 2.8 7.6 3.5 C8.4 4.3 7.8 6.8 7.0 7.3 C6.1 7.8 3.4 7.4 2.5 6.7 C1.7 6.0 1.1 3.4 1.9 2.9Z" fill="#c8f0b0"/><path d="M3.2 14.9 C4.1 14.3 8.2 14.9 9.2 15.5 C10.1 16.1 9.7 18.1 8.8 18.6 C7.9 19.2 4.8 19.3 3.8 18.6 C2.9 18.0 2.3 15.4 3.2 14.9Z" fill="#c8f0b0"/></g></g>
<g clip-path="url(#cqf)"><clipPath id="cqf"><rect x="0" y="0" width="163" height="80"/></clipPath><polyline points="76.6,0.0 75.6,2.0 75.6,5.0 77.6,8.0 80.6,13.0 84.6,17.0 86.6,19.0 86.1,24.0 85.6,30.0 84.6,34.0 83.6,37.0 83.1,41.0 82.6,44.0 81.6,47.0 81.6,50.0 82.6,52.0 84.6,53.5 86.6,54.5 89.6,55.0 90.6,54.5 88.6,53.5 87.6,52.0 88.6,50.0 89.6,48.0 90.6,46.0 91.6,44.0 92.6,42.5 91.6,41.0 94.6,39.0 98.6,38.5 99.6,36.0 99.6,35.0 101.6,34.5 103.6,33.5 106.6,31.0 108.1,28.0 108.6,26.0 111.6,23.5 115.6,22.0 116.6,20.0 117.6,17.0 118.6,13.0 121.6,9.0 121.6,6.0 119.6,4.5 116.6,3.0 112.6,2.5 108.6,1.0 106.6,0.0" fill="none" stroke="#9a9a9a" stroke-width="0.55" stroke-opacity="0.85"/><polyline points="-13.4,78.0 -3.4,77.5 6.6,76.5 16.6,75.5 26.6,74.8 36.6,74.0 46.6,74.2 56.6,73.8 66.6,72.8 76.6,73.0 81.6,72.5 86.6,71.5 88.6,70.0 89.6,68.0 91.6,66.5 94.6,65.0 97.6,63.8 99.6,63.3 98.6,64.5 96.6,66.0 95.1,68.0 94.6,70.0 95.6,72.5 96.6,74.5 101.6,76.0 106.6,77.5 111.6,78.2 118.6,77.8 124.6,77.0 129.6,75.0 136.6,72.0 141.6,71.0 146.6,70.5 156.6,70.0 166.6,70.0" fill="none" stroke="#9a9a9a" stroke-width="0.55" stroke-opacity="0.85"/><polyline points="95.6,62.2 98.6,61.8 101.6,61.3" fill="none" stroke="#aaa" stroke-width="0.5"/></g>
<rect x="0.5" y="0.5" width="162" height="79" fill="none" stroke="#d8d8d8" stroke-width="0.8"/>
<path d="M12.5 61.8 L13.4 68.8 L12.5 77.3 L11.6 68.8 Z" fill="#333"/><path d="M5.5 68.8 L12.5 68.0 L20.5 68.8 L12.5 69.6 Z" fill="#333"/><rect x="11.8" y="58.3" width="1.4" height="1.4" fill="#444"/><rect x="11.8" y="77.8" width="1.4" height="1.4" fill="#444"/><rect x="2.1999999999999993" y="68.1" width="1.6" height="1.4" fill="#444"/><rect x="21.1" y="68.1" width="1.2" height="1.4" fill="#444"/>
<text x="160.5" y="75" font-size="13" text-anchor="end" fill="#151515" stroke="#151515" stroke-width="0.3">(f)</text>
<text x="-1.6" y="3.0" font-size="6" text-anchor="end" fill="#333">0</text>
<text x="-1.6" y="23.0" font-size="6" text-anchor="end" fill="#333">20</text>
<text x="-1.6" y="43.0" font-size="6" text-anchor="end" fill="#333">40</text>
<text x="-1.6" y="63.0" font-size="6" text-anchor="end" fill="#333">60</text>
<text x="16.6" y="87.8" font-size="6" text-anchor="middle" fill="#333">140</text>
<text x="36.6" y="87.8" font-size="6" text-anchor="middle" fill="#333">120</text>
<text x="56.6" y="87.8" font-size="6" text-anchor="middle" fill="#333">100</text>
<text x="76.6" y="87.8" font-size="6" text-anchor="middle" fill="#333">80</text>
<text x="96.6" y="87.8" font-size="6" text-anchor="middle" fill="#333">60</text>
<text x="116.6" y="87.8" font-size="6" text-anchor="middle" fill="#333">40</text>
<text x="136.6" y="87.8" font-size="6" text-anchor="middle" fill="#333">20</text>
<text x="156.6" y="87.8" font-size="6" text-anchor="middle" fill="#333">0</text>
<text x="82" y="96.8" font-size="6.2" text-anchor="middle" fill="#222" textLength="36.8" lengthAdjust="spacingAndGlyphs">Longitude (°W)</text>
<text transform="translate(-9.6,40) rotate(-90)" x="0" y="0" font-size="6.2" text-anchor="middle" fill="#222" textLength="29.6" lengthAdjust="spacingAndGlyphs">Latitude (°S)</text>
</g>
<g transform="translate(18,232)">
<clipPath id="cpg"><rect x="0" y="0" width="163" height="80"/></clipPath><g clip-path="url(#cpg)"><g filter="url(#rough)"><path d="M3.5 24.4 C8.7 23.1 21.8 25.6 34.9 27.0 C47.9 28.5 74.1 28.9 81.9 33.1 C89.8 37.3 86.9 49.1 81.9 52.3 C77.0 55.5 63.0 52.9 52.3 52.3 C41.5 51.7 25.3 50.0 17.4 48.8 C9.6 47.6 7.6 47.6 5.2 45.3 C2.9 43.0 3.8 38.3 3.5 34.9 C3.2 31.4 -1.7 25.7 3.5 24.4Z" fill="#f8f2b0"/><path d="M34.9 33.1 C37.2 31.7 44.4 34.6 52.3 34.9 C60.1 35.1 77.0 32.2 81.9 34.9 C86.9 37.5 84.5 47.9 81.9 50.5 C79.3 53.2 71.2 50.8 66.2 50.5 C61.3 50.3 56.9 50.0 52.3 48.8 C47.6 47.6 41.2 46.2 38.3 43.6 C35.4 41.0 32.5 34.6 34.9 33.1Z" fill="#f2e860"/><path d="M7.0 27.9 C10.2 27.5 21.5 28.9 26.1 29.6 C30.8 30.4 33.7 31.4 34.9 32.2 C36.0 33.1 35.4 34.6 33.1 34.9 C30.8 35.1 25.3 34.4 20.9 34.0 C16.6 33.6 9.3 33.3 7.0 32.2 C4.6 31.2 3.8 28.3 7.0 27.9Z" fill="#f0e070"/><path d="M0.0 45.3 C2.9 43.6 10.2 46.2 17.4 47.1 C24.7 47.9 32.8 49.7 43.6 50.5 C54.3 51.4 75.5 49.1 81.9 52.3 C88.3 55.5 86.9 66.8 81.9 69.7 C77.0 72.6 62.2 70.0 52.3 69.7 C42.4 69.4 30.8 69.1 22.7 68.0 C14.5 66.8 7.3 64.5 3.5 62.7 C-0.3 61.0 0.6 60.4 0.0 57.5 C-0.6 54.6 -2.9 47.1 0.0 45.3Z" fill="#a8eaa0"/><path d="M48.8 57.5 C54.9 56.4 76.4 55.5 81.9 57.5 C87.4 59.5 86.9 67.7 81.9 69.7 C77.0 71.8 58.4 70.6 52.3 69.7 C46.2 68.8 45.9 66.5 45.3 64.5 C44.7 62.5 42.7 58.7 48.8 57.5Z" fill="#40d840"/><path d="M10.5 52.3 C12.8 51.4 20.3 53.2 26.1 54.0 C32.0 54.9 42.4 55.8 45.3 57.5 C48.2 59.3 46.8 63.6 43.6 64.5 C40.4 65.4 31.4 63.6 26.1 62.7 C20.9 61.9 14.8 61.0 12.2 59.3 C9.6 57.5 8.1 53.2 10.5 52.3Z" fill="#70e070"/><path d="M22.7 69.7 C25.6 68.8 33.7 69.3 43.6 68.8 C53.4 68.4 75.5 66.1 81.9 67.1 C88.3 68.1 86.9 73.5 81.9 74.9 C77.0 76.4 61.6 76.0 52.3 75.8 C43.0 75.7 31.1 75.1 26.1 74.1 C21.2 73.1 19.8 70.6 22.7 69.7Z" fill="#a8a8f2"/><path d="M2.6 0.0 C15.7 -1.5 68.7 -5.7 81.9 0.0 C95.1 5.7 82.8 28.5 81.9 34.0 C81.0 39.5 78.7 33.4 76.7 33.1 C74.7 32.8 72.0 32.5 69.7 32.2 C67.4 32.0 65.1 31.7 62.7 31.4 C60.4 31.1 58.1 30.8 55.8 30.5 C53.4 30.2 51.1 30.1 48.8 29.6 C46.5 29.2 44.2 28.5 41.8 27.9 C39.5 27.3 37.2 26.7 34.9 26.1 C32.5 25.6 30.2 24.8 27.9 24.4 C25.6 24.0 23.2 23.9 20.9 23.5 C18.6 23.2 16.0 22.9 13.9 22.3 C11.9 21.7 10.3 21.1 8.7 20.0 C7.1 18.9 5.3 17.6 4.4 15.7 C3.4 13.8 3.4 11.3 3.1 8.7 C2.8 6.1 -10.5 1.5 2.6 0.0Z" fill="#ff4800"/><path d="M52.3 19.2 C57.5 16.7 77.0 11.5 81.9 13.9 C86.9 16.4 82.8 30.8 81.9 34.0 C81.0 37.2 78.7 33.4 76.7 33.1 C74.7 32.8 72.0 32.5 69.7 32.2 C67.4 32.0 65.1 31.7 62.7 31.4 C60.4 31.1 57.8 30.9 55.8 30.5 C53.7 30.1 51.1 30.6 50.5 28.8 C50.0 26.9 47.1 21.6 52.3 19.2Z" fill="#ff7020"/><path d="M81.0 0.0 C84.3 -0.9 97.7 -1.2 101.0 0.0 C104.4 1.2 103.2 5.8 101.0 7.0 C98.9 8.1 91.3 7.3 88.0 7.0 C84.6 6.7 82.2 6.4 81.0 5.2 C79.8 4.1 77.7 0.9 81.0 0.0Z" fill="#ffffff"/><path d="M101.0 0.0 C111.4 -1.2 152.6 -4.9 162.9 0.0 C173.2 4.9 163.4 24.7 162.9 29.6 C162.5 34.6 163.2 30.0 160.1 29.6 C157.0 29.3 150.7 28.4 144.4 27.4 C138.2 26.3 129.2 24.7 122.7 23.4 C116.1 22.0 110.9 21.5 105.4 19.5 C99.9 17.6 92.6 13.8 89.7 11.7 C86.8 9.6 86.1 7.8 88.0 7.0 C89.9 6.2 98.9 8.1 101.0 7.0 C103.2 5.8 90.7 1.2 101.0 0.0Z" fill="#ff4000"/><path d="M147.2 0.0 C149.8 -4.6 160.3 -4.9 162.9 0.0 C165.5 4.9 163.4 24.7 162.9 29.6 C162.5 34.6 162.7 29.9 160.1 29.6 C157.5 29.3 149.4 32.8 147.2 27.9 C145.1 22.9 144.6 4.6 147.2 0.0Z" fill="#ff8030"/><path d="M81.0 7.0 C82.3 2.5 87.2 6.7 88.8 7.8 C90.4 9.0 90.2 11.2 90.6 13.9 C91.0 16.7 91.6 20.9 91.5 24.4 C91.3 27.9 91.5 33.1 89.7 34.9 C88.0 36.6 82.5 39.5 81.0 34.9 C79.5 30.2 79.7 11.5 81.0 7.0Z" fill="#ff6010"/><path d="M81.0 20.9 C82.5 18.9 88.3 20.3 89.7 22.7 C91.2 25.0 91.2 32.8 89.7 34.9 C88.3 36.9 82.5 37.2 81.0 34.9 C79.5 32.5 79.5 22.9 81.0 20.9Z" fill="#ffb040"/><path d="M91.5 19.2 C93.9 17.7 100.2 24.3 105.4 26.1 C110.6 28.0 116.4 29.3 122.8 30.5 C129.2 31.7 137.5 32.4 143.7 33.1 C150.0 33.8 156.9 33.4 160.1 34.9 C163.3 36.3 164.5 40.7 162.9 41.8 C161.3 43.0 155.7 42.1 150.7 41.8 C145.8 41.5 139.1 40.7 133.3 40.1 C127.5 39.5 121.7 38.9 115.9 38.3 C110.0 37.8 102.6 37.2 98.4 36.6 C94.2 36.0 91.7 37.8 90.6 34.9 C89.4 32.0 89.0 20.6 91.5 19.2Z" fill="#ffc860"/><path d="M90.6 34.9 C96.4 35.4 107.9 37.5 115.9 38.3 C123.8 39.2 134.4 38.1 138.5 40.1 C142.6 42.1 142.6 48.5 140.3 50.5 C137.9 52.6 131.0 52.0 124.6 52.3 C118.2 52.6 109.2 52.6 101.9 52.3 C94.7 52.0 84.5 53.4 81.0 50.5 C77.5 47.6 79.4 37.5 81.0 34.9 C82.6 32.2 84.8 34.3 90.6 34.9Z" fill="#f4e870"/><path d="M81.0 48.8 C83.9 45.3 92.6 50.1 98.4 50.5 C104.2 51.0 109.2 51.4 115.9 51.4 C122.5 51.4 134.4 49.5 138.5 50.5 C142.6 51.6 140.5 54.3 140.3 57.5 C140.0 60.7 140.8 67.1 136.8 69.7 C132.7 72.3 122.8 72.8 115.9 73.2 C108.9 73.6 100.8 72.6 94.9 72.3 C89.1 72.0 83.3 75.4 81.0 71.5 C78.7 67.5 78.1 52.3 81.0 48.8Z" fill="#a0e8a0"/><path d="M81.0 57.5 C83.3 55.6 90.6 56.5 94.9 56.6 C99.3 56.8 102.8 58.7 107.1 58.4 C111.5 58.1 116.7 55.3 121.1 54.9 C125.4 54.5 131.0 54.5 133.3 55.8 C135.6 57.1 135.6 60.4 135.0 62.7 C134.4 65.1 133.0 68.3 129.8 69.7 C126.6 71.2 121.1 71.5 115.9 71.5 C110.6 71.5 104.2 70.3 98.4 69.7 C92.6 69.1 83.9 70.0 81.0 68.0 C78.1 65.9 78.7 59.4 81.0 57.5Z" fill="#30d030"/><path d="M96.7 61.0 C98.3 60.0 103.4 60.0 107.1 60.1 C110.9 60.3 116.4 60.9 119.3 61.9 C122.2 62.9 125.2 64.9 124.6 66.2 C124.0 67.5 119.3 69.3 115.9 69.7 C112.4 70.2 106.7 69.4 103.7 68.8 C100.6 68.3 98.7 67.5 97.6 66.2 C96.4 64.9 95.1 62.0 96.7 61.0Z" fill="#28b050"/><path d="M105.4 52.3 C106.9 51.7 111.5 51.7 114.1 52.3 C116.7 52.9 120.5 54.6 121.1 55.8 C121.7 56.9 119.6 58.7 117.6 59.3 C115.6 59.8 110.9 59.8 108.9 59.3 C106.9 58.7 106.0 56.9 105.4 55.8 C104.8 54.6 103.9 52.9 105.4 52.3Z" fill="#ffffff"/><path d="M140.3 41.8 C144.0 39.8 159.1 33.7 162.9 40.1 C166.7 46.4 167.3 73.3 162.9 80.0 C158.6 86.7 140.8 82.3 136.8 80.0 C132.7 77.7 137.9 70.8 138.5 66.2 C139.1 61.6 140.0 56.4 140.3 52.3 C140.5 48.2 136.5 43.9 140.3 41.8Z" fill="#ffffff"/><path d="M140.3 52.3 C141.1 51.7 144.9 52.9 145.5 54.0 C146.1 55.2 144.6 58.7 143.7 59.3 C142.9 59.8 140.8 58.7 140.3 57.5 C139.7 56.4 139.4 52.9 140.3 52.3Z" fill="#60c0a0"/><path d="M133.3 64.5 C134.2 63.9 141.4 63.5 143.7 63.6 C146.1 63.8 148.1 64.8 147.2 65.4 C146.4 65.9 140.8 67.2 138.5 67.1 C136.2 67.0 132.4 65.1 133.3 64.5Z" fill="#60c0a0"/><path d="M81.0 70.6 C83.3 69.7 90.3 71.0 94.9 71.5 C99.6 71.9 104.8 72.6 108.9 73.2 C113.0 73.8 118.2 74.4 119.3 74.9 C120.5 75.5 119.3 76.4 115.9 76.7 C112.4 77.0 104.2 76.7 98.4 76.7 C92.6 76.7 83.9 77.7 81.0 76.7 C78.1 75.7 78.7 71.5 81.0 70.6Z" fill="#b0b0f4"/><path d="M112.4 5.6 C113.2 4.9 116.7 4.6 117.6 5.2 C118.5 5.8 118.8 8.3 117.9 9.1 C117.1 9.8 113.7 10.2 112.7 9.6 C111.8 9.0 111.6 6.3 112.4 5.6Z" fill="#ffffff"/><path d="M120.2 14.8 C121.0 14.2 124.6 14.2 125.4 14.8 C126.3 15.4 126.2 17.7 125.4 18.3 C124.7 18.9 121.6 18.9 120.7 18.3 C119.9 17.7 119.4 15.4 120.2 14.8Z" fill="#ffffff"/></g></g>
<g clip-path="url(#cqg)"><clipPath id="cqg"><rect x="0" y="0" width="163" height="80"/></clipPath><polyline points="76.6,0.0 75.6,2.0 75.6,5.0 77.6,8.0 80.6,13.0 84.6,17.0 86.6,19.0 86.1,24.0 85.6,30.0 84.6,34.0 83.6,37.0 83.1,41.0 82.6,44.0 81.6,47.0 81.6,50.0 82.6,52.0 84.6,53.5 86.6,54.5 89.6,55.0 90.6,54.5 88.6,53.5 87.6,52.0 88.6,50.0 89.6,48.0 90.6,46.0 91.6,44.0 92.6,42.5 91.6,41.0 94.6,39.0 98.6,38.5 99.6,36.0 99.6,35.0 101.6,34.5 103.6,33.5 106.6,31.0 108.1,28.0 108.6,26.0 111.6,23.5 115.6,22.0 116.6,20.0 117.6,17.0 118.6,13.0 121.6,9.0 121.6,6.0 119.6,4.5 116.6,3.0 112.6,2.5 108.6,1.0 106.6,0.0" fill="none" stroke="#9a9a9a" stroke-width="0.55" stroke-opacity="0.85"/><polyline points="-13.4,78.0 -3.4,77.5 6.6,76.5 16.6,75.5 26.6,74.8 36.6,74.0 46.6,74.2 56.6,73.8 66.6,72.8 76.6,73.0 81.6,72.5 86.6,71.5 88.6,70.0 89.6,68.0 91.6,66.5 94.6,65.0 97.6,63.8 99.6,63.3 98.6,64.5 96.6,66.0 95.1,68.0 94.6,70.0 95.6,72.5 96.6,74.5 101.6,76.0 106.6,77.5 111.6,78.2 118.6,77.8 124.6,77.0 129.6,75.0 136.6,72.0 141.6,71.0 146.6,70.5 156.6,70.0 166.6,70.0" fill="none" stroke="#9a9a9a" stroke-width="0.55" stroke-opacity="0.85"/><polyline points="95.6,62.2 98.6,61.8 101.6,61.3" fill="none" stroke="#aaa" stroke-width="0.5"/></g>
<rect x="0.5" y="0.5" width="162" height="79" fill="none" stroke="#d8d8d8" stroke-width="0.8"/>
<path d="M12.5 61.8 L13.4 68.8 L12.5 77.3 L11.6 68.8 Z" fill="#333"/><path d="M5.5 68.8 L12.5 68.0 L20.5 68.8 L12.5 69.6 Z" fill="#333"/><rect x="11.8" y="58.3" width="1.4" height="1.4" fill="#444"/><rect x="11.8" y="77.8" width="1.4" height="1.4" fill="#444"/><rect x="2.1999999999999993" y="68.1" width="1.6" height="1.4" fill="#444"/><rect x="21.1" y="68.1" width="1.2" height="1.4" fill="#444"/>
<text x="160.5" y="75" font-size="13" text-anchor="end" fill="#151515" stroke="#151515" stroke-width="0.3">(g)</text>
<text x="-1.6" y="3.0" font-size="6" text-anchor="end" fill="#333">0</text>
<text x="-1.6" y="23.0" font-size="6" text-anchor="end" fill="#333">20</text>
<text x="-1.6" y="43.0" font-size="6" text-anchor="end" fill="#333">40</text>
<text x="-1.6" y="63.0" font-size="6" text-anchor="end" fill="#333">60</text>
<text x="16.6" y="87.8" font-size="6" text-anchor="middle" fill="#333">140</text>
<text x="36.6" y="87.8" font-size="6" text-anchor="middle" fill="#333">120</text>
<text x="56.6" y="87.8" font-size="6" text-anchor="middle" fill="#333">100</text>
<text x="76.6" y="87.8" font-size="6" text-anchor="middle" fill="#333">80</text>
<text x="96.6" y="87.8" font-size="6" text-anchor="middle" fill="#333">60</text>
<text x="116.6" y="87.8" font-size="6" text-anchor="middle" fill="#333">40</text>
<text x="136.6" y="87.8" font-size="6" text-anchor="middle" fill="#333">20</text>
<text x="156.6" y="87.8" font-size="6" text-anchor="middle" fill="#333">0</text>
<text x="82" y="96.8" font-size="6.2" text-anchor="middle" fill="#222" textLength="36.8" lengthAdjust="spacingAndGlyphs">Longitude (°W)</text>
<text transform="translate(-9.6,40) rotate(-90)" x="0" y="0" font-size="6.2" text-anchor="middle" fill="#222" textLength="29.6" lengthAdjust="spacingAndGlyphs">Latitude (°S)</text>
</g>
<g transform="translate(200,232)">
<clipPath id="cph"><rect x="0" y="0" width="163" height="80"/></clipPath><g clip-path="url(#cph)"><g filter="url(#rough)"><path d="M1.3 2.3 C2.3 -3.0 9.7 -1.9 13.9 2.3 C18.1 6.5 19.1 22.7 26.5 27.5 C33.8 32.2 47.4 28.5 57.9 30.6 C68.4 32.7 72.1 39.5 89.4 40.0 C106.7 40.6 149.7 30.6 161.7 33.7 C173.8 36.9 173.8 54.7 161.7 58.9 C149.7 63.1 113.0 59.4 89.4 58.9 C65.8 58.4 33.8 60.0 20.2 55.8 C6.5 51.6 10.7 42.7 7.6 33.7 C4.4 24.8 0.2 7.5 1.3 2.3Z" fill="#fcf6d4"/><path d="M13.9 43.2 C18.1 41.1 32.2 42.4 42.2 43.2 C52.1 44.0 64.7 46.9 73.6 47.9 C82.5 48.9 87.8 49.2 95.7 49.5 C103.5 49.7 109.8 49.7 120.8 49.5 C131.8 49.2 154.9 46.6 161.7 47.9 C168.5 49.2 168.5 55.5 161.7 57.3 C154.9 59.2 132.9 58.6 120.8 58.9 C108.8 59.2 102.5 59.2 89.4 58.9 C76.3 58.6 54.2 57.9 42.2 57.3 C30.1 56.8 21.7 58.1 17.0 55.8 C12.3 53.4 9.7 45.3 13.9 43.2Z" fill="#f4e060"/><path d="M32.7 30.0 C35.6 29.6 43.2 30.5 48.5 31.2 C53.7 32.0 58.4 32.9 64.2 34.4 C70.0 35.8 78.9 38.0 83.1 40.0 C87.3 42.0 90.9 45.0 89.4 46.3 C87.8 47.6 79.4 48.4 73.6 47.9 C67.9 47.4 60.5 44.9 54.8 43.2 C49.0 41.5 43.0 39.1 39.0 37.5 C35.1 35.9 32.2 35.0 31.2 33.7 C30.1 32.5 29.9 30.4 32.7 30.0Z" fill="#ffb850"/><path d="M92.5 22.7 C94.6 21.4 102.5 24.6 108.2 25.9 C114.0 27.2 120.8 29.6 127.1 30.6 C133.4 31.6 140.2 31.6 146.0 32.2 C151.7 32.7 159.1 31.9 161.7 33.7 C164.3 35.6 164.3 41.9 161.7 43.2 C159.1 44.5 151.7 42.1 146.0 41.6 C140.2 41.1 133.4 40.6 127.1 40.0 C120.8 39.5 113.5 39.5 108.2 38.5 C103.0 37.4 98.3 36.4 95.7 33.7 C93.0 31.1 90.4 24.0 92.5 22.7Z" fill="#ff9a30"/><path d="M95.7 36.9 C100.4 36.6 116.1 40.6 127.1 41.6 C138.1 42.7 155.9 41.9 161.7 43.2 C167.5 44.5 167.5 48.7 161.7 49.5 C155.9 50.3 137.6 48.9 127.1 47.9 C116.6 46.9 104.0 45.0 98.8 43.2 C93.6 41.3 90.9 37.2 95.7 36.9Z" fill="#f4e060"/><path d="M76.8 25.9 C78.6 23.6 85.4 23.4 89.4 23.7 C93.3 23.9 98.2 25.3 100.4 27.5 C102.6 29.7 103.3 34.2 102.6 36.9 C101.9 39.6 99.0 42.7 96.3 43.8 C93.6 45.0 89.2 44.9 86.2 43.8 C83.2 42.8 79.9 40.5 78.4 37.5 C76.8 34.5 74.9 28.2 76.8 25.9Z" fill="#ffffff"/><path d="M12.3 52.6 C16.5 51.3 29.3 54.7 42.2 55.8 C55.0 56.8 76.3 58.6 89.4 58.9 C102.5 59.2 108.8 57.6 120.8 57.3 C132.9 57.1 154.9 54.5 161.7 57.3 C168.5 60.2 168.5 71.5 161.7 74.6 C154.9 77.8 132.9 75.8 120.8 76.2 C108.8 76.6 102.5 77.2 89.4 77.2 C76.3 77.2 52.7 76.9 42.2 76.2 C31.7 75.5 30.6 75.2 26.5 73.1 C22.3 71.0 19.4 67.0 17.0 63.6 C14.7 60.2 8.1 53.9 12.3 52.6Z" fill="#a0e8a0"/><path d="M17.0 58.9 C20.2 57.9 32.7 59.7 42.2 60.5 C51.6 61.3 63.2 63.1 73.6 63.6 C84.1 64.2 98.3 63.1 105.1 63.6 C111.9 64.2 115.1 65.5 114.5 66.8 C114.0 68.1 108.8 70.7 101.9 71.5 C95.1 72.3 83.6 71.8 73.6 71.5 C63.7 71.2 50.6 70.7 42.2 69.9 C33.8 69.1 27.5 68.6 23.3 66.8 C19.1 64.9 13.9 60.0 17.0 58.9Z" fill="#40d840"/><path d="M1.9 5.4 C2.1 2.3 3.2 4.9 3.8 8.6 C4.4 12.3 4.9 20.6 5.7 27.5 C6.5 34.3 7.3 43.8 8.8 49.5 C10.4 55.1 12.2 57.9 15.1 61.4 C18.1 65.0 25.2 69.0 26.5 70.9 C27.7 72.7 25.1 74.0 22.7 72.7 C20.3 71.5 14.8 67.2 12.0 63.3 C9.2 59.4 7.6 55.4 6.0 49.5 C4.4 43.5 3.2 34.8 2.5 27.5 C1.9 20.1 1.7 8.6 1.9 5.4Z" fill="#80e080"/><path d="M12.3 0.4 C23.8 -1.5 73.4 -1.0 86.2 0.4 C99.1 1.8 88.3 5.1 89.4 8.6 C90.4 12.0 92.5 18.0 92.5 21.2 C92.5 24.3 90.9 26.7 89.4 27.5 C87.8 28.2 84.9 25.4 83.1 25.9 C81.2 26.4 78.9 28.8 78.4 30.6 C77.8 32.4 80.7 36.1 79.9 36.9 C79.1 37.7 76.3 36.1 73.6 35.3 C71.0 34.5 67.9 33.2 64.2 32.2 C60.5 31.1 55.8 29.8 51.6 29.0 C47.4 28.2 42.7 28.0 39.0 27.5 C35.4 26.9 32.2 26.9 29.6 25.9 C27.0 24.8 25.4 23.5 23.3 21.2 C21.2 18.8 18.9 15.2 17.0 11.7 C15.2 8.3 0.8 2.3 12.3 0.4Z" fill="#ff5000"/><path d="M17.0 11.7 C17.5 11.2 21.2 18.8 23.3 21.2 C25.4 23.5 27.0 24.8 29.6 25.9 C32.2 26.9 35.4 26.9 39.0 27.5 C42.7 28.0 47.4 28.2 51.6 29.0 C55.8 29.8 60.5 31.1 64.2 32.2 C67.9 33.2 74.7 35.1 73.6 35.3 C72.6 35.6 63.7 34.4 57.9 33.7 C52.1 33.1 44.3 32.0 39.0 31.2 C33.8 30.4 29.6 30.2 26.5 29.0 C23.3 27.9 21.7 27.2 20.2 24.3 C18.6 21.4 16.5 12.3 17.0 11.7Z" fill="#ff7a20"/><path d="M120.8 0.4 C127.4 -0.7 151.7 -1.0 158.6 0.4 C165.4 1.8 161.2 4.6 161.7 8.6 C162.2 12.6 162.8 21.2 161.7 24.3 C160.7 27.5 158.6 27.2 155.4 27.5 C152.3 27.7 146.5 26.9 142.8 25.9 C139.2 24.8 136.5 23.0 133.4 21.2 C130.3 19.3 126.3 17.2 124.0 14.9 C121.6 12.5 119.8 9.4 119.2 7.0 C118.7 4.6 114.3 1.5 120.8 0.4Z" fill="#ff4a00"/><path d="M89.4 0.4 C94.1 -1.5 113.7 -1.5 119.2 0.4 C124.8 2.3 121.1 8.3 122.4 11.7 C123.7 15.2 128.4 19.1 127.1 21.2 C125.8 23.3 119.2 24.3 114.5 24.3 C109.8 24.3 102.7 23.3 98.8 21.2 C94.9 19.1 92.5 15.2 90.9 11.7 C89.4 8.3 84.6 2.3 89.4 0.4Z" fill="#fff0d0"/><path d="M138.1 11.7 C139.4 10.9 144.7 11.3 146.0 12.4 C147.3 13.4 147.2 17.2 146.0 18.0 C144.7 18.9 139.7 18.4 138.4 17.4 C137.1 16.3 136.9 12.6 138.1 11.7Z" fill="#ffffff"/><path d="M35.9 15.5 C36.9 14.8 41.1 14.8 42.2 15.5 C43.2 16.2 43.2 18.9 42.2 19.6 C41.1 20.3 36.9 20.3 35.9 19.6 C34.8 18.9 34.8 16.2 35.9 15.5Z" fill="#ffffff"/><path d="M81.3 -0.9 L164.7 -0.9 L164.7 81.9 L81.3 81.9Z" fill="#ffffff"/><path d="M81.0 0.0 C84.5 -2.0 99.0 -1.2 101.9 0.0 C104.8 1.2 100.2 4.9 98.4 7.0 C96.7 9.0 94.4 11.3 91.5 12.2 C88.6 13.1 82.7 14.2 81.0 12.2 C79.3 10.2 77.5 2.0 81.0 0.0Z" fill="#fbd890"/><path d="M86.2 13.9 C86.8 13.1 92.0 16.6 94.9 17.4 C97.8 18.3 101.3 18.3 103.7 19.2 C106.0 20.0 109.2 21.8 108.9 22.7 C108.6 23.5 104.8 24.4 101.9 24.4 C99.0 24.4 94.1 24.4 91.5 22.7 C88.8 20.9 85.6 14.8 86.2 13.9Z" fill="#ffa040"/><path d="M103.7 19.2 C105.1 18.3 111.8 21.5 115.9 22.7 C119.9 23.8 124.0 25.0 128.1 26.1 C132.1 27.3 136.5 28.5 140.3 29.6 C144.0 30.8 147.8 32.0 150.7 33.1 C153.6 34.3 156.4 35.3 157.7 36.6 C159.0 37.9 159.7 40.4 158.6 41.0 C157.4 41.5 153.8 40.7 150.7 40.1 C147.7 39.5 144.0 38.3 140.3 37.5 C136.5 36.6 132.1 35.9 128.1 34.9 C124.0 33.8 119.3 32.5 115.9 31.4 C112.4 30.2 109.2 29.9 107.1 27.9 C105.1 25.9 102.2 20.0 103.7 19.2Z" fill="#ffb040"/><path d="M119.3 1.7 C120.4 0.0 121.1 0.3 126.3 0.0 C131.5 -0.3 145.8 -0.6 150.7 0.0 C155.7 0.6 154.2 1.7 155.9 3.5 C157.7 5.2 160.0 8.7 161.2 10.5 C162.3 12.2 162.9 12.5 162.9 13.9 C162.9 15.4 162.3 17.7 161.2 19.2 C160.0 20.6 157.7 21.8 155.9 22.7 C154.2 23.5 153.0 23.8 150.7 24.4 C148.4 25.0 144.6 26.1 142.0 26.1 C139.4 26.1 137.1 25.3 135.0 24.4 C133.0 23.5 131.5 22.1 129.8 20.9 C128.1 19.8 126.2 19.2 124.6 17.4 C123.0 15.7 121.1 13.1 120.2 10.5 C119.3 7.8 118.3 3.5 119.3 1.7Z" fill="#ff4a00"/><path d="M124.6 8.7 C126.0 7.3 132.9 7.0 135.0 7.8 C137.2 8.7 137.8 12.3 137.6 13.9 C137.5 15.5 136.0 17.0 134.2 17.4 C132.3 17.9 128.3 18.0 126.7 16.6 C125.1 15.1 123.2 10.2 124.6 8.7Z" fill="#ff9a78"/><path d="M81.0 12.2 C81.9 5.8 84.8 12.2 86.2 13.9 C87.7 15.7 89.0 19.2 89.7 22.7 C90.4 26.1 90.7 31.4 90.6 34.9 C90.4 38.3 89.7 41.0 88.8 43.6 C88.0 46.2 86.7 49.1 85.4 50.5 C84.1 52.0 81.7 58.7 81.0 52.3 C80.3 45.9 80.1 18.6 81.0 12.2Z" fill="#ff5010"/><path d="M98.4 38.3 C99.6 35.1 103.9 33.7 107.1 33.1 C110.3 32.5 114.6 33.7 117.6 34.9 C120.7 36.0 124.4 37.5 125.4 40.1 C126.5 42.7 125.3 47.9 123.7 50.5 C122.1 53.2 118.6 54.6 115.9 55.8 C113.1 56.9 109.8 58.1 107.1 57.5 C104.5 56.9 101.6 55.5 100.2 52.3 C98.7 49.1 97.3 41.5 98.4 38.3Z" fill="#ffa840"/><path d="M107.1 43.6 C108.5 41.8 113.2 43.0 115.9 43.6 C118.5 44.2 122.0 45.5 122.8 47.1 C123.7 48.7 122.5 51.6 121.1 53.2 C119.6 54.7 116.3 56.0 114.1 56.1 C111.9 56.3 109.2 56.1 108.0 54.0 C106.9 51.9 105.8 45.3 107.1 43.6Z" fill="#f4e050"/><path d="M81.0 52.3 C82.7 48.5 87.1 50.5 91.5 50.5 C95.8 50.5 101.6 52.3 107.1 52.3 C112.7 52.3 119.3 51.0 124.6 50.5 C129.8 50.1 134.2 49.4 138.5 49.7 C142.9 50.0 149.0 51.3 150.7 52.3 C152.5 53.3 151.9 54.3 149.0 55.8 C146.1 57.2 137.4 58.7 133.3 61.0 C129.2 63.3 128.1 67.4 124.6 69.7 C121.1 72.0 117.3 74.2 112.4 74.9 C107.4 75.7 100.2 74.4 94.9 74.1 C89.7 73.8 83.3 76.8 81.0 73.2 C78.7 69.6 79.3 56.1 81.0 52.3Z" fill="#80e080"/><path d="M84.5 59.3 C86.5 56.9 93.8 57.7 98.4 57.5 C103.1 57.4 108.0 58.4 112.4 58.4 C116.7 58.4 122.8 56.5 124.6 57.5 C126.3 58.5 124.3 62.5 122.8 64.5 C121.4 66.5 119.3 68.4 115.9 69.7 C112.4 71.0 106.9 72.0 101.9 72.3 C97.0 72.6 89.1 73.6 86.2 71.5 C83.3 69.3 82.5 61.6 84.5 59.3Z" fill="#50d850"/><path d="M94.9 62.7 C96.3 62.0 102.1 61.9 103.7 62.4 C105.3 62.9 105.8 65.2 104.5 65.9 C103.2 66.6 97.4 67.1 95.8 66.6 C94.2 66.1 93.6 63.4 94.9 62.7Z" fill="#ffffff"/><path d="M133.3 51.4 C134.2 50.4 140.3 50.4 143.7 50.5 C147.2 50.7 153.0 51.4 154.2 52.3 C155.4 53.2 153.3 55.0 150.7 55.8 C148.1 56.5 141.4 57.4 138.5 56.6 C135.6 55.9 132.4 52.4 133.3 51.4Z" fill="#b0ecb0"/></g></g>
<g clip-path="url(#cqh)"><clipPath id="cqh"><rect x="0" y="0" width="163" height="80"/></clipPath><polyline points="76.6,0.0 75.6,2.0 75.6,5.0 77.6,8.0 80.6,13.0 84.6,17.0 86.6,19.0 86.1,24.0 85.6,30.0 84.6,34.0 83.6,37.0 83.1,41.0 82.6,44.0 81.6,47.0 81.6,50.0 82.6,52.0 84.6,53.5 86.6,54.5 89.6,55.0 90.6,54.5 88.6,53.5 87.6,52.0 88.6,50.0 89.6,48.0 90.6,46.0 91.6,44.0 92.6,42.5 91.6,41.0 94.6,39.0 98.6,38.5 99.6,36.0 99.6,35.0 101.6,34.5 103.6,33.5 106.6,31.0 108.1,28.0 108.6,26.0 111.6,23.5 115.6,22.0 116.6,20.0 117.6,17.0 118.6,13.0 121.6,9.0 121.6,6.0 119.6,4.5 116.6,3.0 112.6,2.5 108.6,1.0 106.6,0.0" fill="none" stroke="#9a9a9a" stroke-width="0.55" stroke-opacity="0.85"/><polyline points="-13.4,78.0 -3.4,77.5 6.6,76.5 16.6,75.5 26.6,74.8 36.6,74.0 46.6,74.2 56.6,73.8 66.6,72.8 76.6,73.0 81.6,72.5 86.6,71.5 88.6,70.0 89.6,68.0 91.6,66.5 94.6,65.0 97.6,63.8 99.6,63.3 98.6,64.5 96.6,66.0 95.1,68.0 94.6,70.0 95.6,72.5 96.6,74.5 101.6,76.0 106.6,77.5 111.6,78.2 118.6,77.8 124.6,77.0 129.6,75.0 136.6,72.0 141.6,71.0 146.6,70.5 156.6,70.0 166.6,70.0" fill="none" stroke="#9a9a9a" stroke-width="0.55" stroke-opacity="0.85"/><polyline points="95.6,62.2 98.6,61.8 101.6,61.3" fill="none" stroke="#aaa" stroke-width="0.5"/></g>
<rect x="0.5" y="0.5" width="162" height="79" fill="none" stroke="#d8d8d8" stroke-width="0.8"/>
<path d="M12.5 61.8 L13.4 68.8 L12.5 77.3 L11.6 68.8 Z" fill="#333"/><path d="M5.5 68.8 L12.5 68.0 L20.5 68.8 L12.5 69.6 Z" fill="#333"/><rect x="11.8" y="58.3" width="1.4" height="1.4" fill="#444"/><rect x="11.8" y="77.8" width="1.4" height="1.4" fill="#444"/><rect x="2.1999999999999993" y="68.1" width="1.6" height="1.4" fill="#444"/><rect x="21.1" y="68.1" width="1.2" height="1.4" fill="#444"/>
<text x="160.5" y="75" font-size="13" text-anchor="end" fill="#151515" stroke="#151515" stroke-width="0.3">(h)</text>
<text x="-1.6" y="3.0" font-size="6" text-anchor="end" fill="#333">0</text>
<text x="-1.6" y="23.0" font-size="6" text-anchor="end" fill="#333">20</text>
<text x="-1.6" y="43.0" font-size="6" text-anchor="end" fill="#333">40</text>
<text x="-1.6" y="63.0" font-size="6" text-anchor="end" fill="#333">60</text>
<text x="16.6" y="87.8" font-size="6" text-anchor="middle" fill="#333">140</text>
<text x="36.6" y="87.8" font-size="6" text-anchor="middle" fill="#333">120</text>
<text x="56.6" y="87.8" font-size="6" text-anchor="middle" fill="#333">100</text>
<text x="76.6" y="87.8" font-size="6" text-anchor="middle" fill="#333">80</text>
<text x="96.6" y="87.8" font-size="6" text-anchor="middle" fill="#333">60</text>
<text x="116.6" y="87.8" font-size="6" text-anchor="middle" fill="#333">40</text>
<text x="136.6" y="87.8" font-size="6" text-anchor="middle" fill="#333">20</text>
<text x="156.6" y="87.8" font-size="6" text-anchor="middle" fill="#333">0</text>
<text x="82" y="96.8" font-size="6.2" text-anchor="middle" fill="#222" textLength="36.8" lengthAdjust="spacingAndGlyphs">Longitude (°W)</text>
<text transform="translate(-9.6,40) rotate(-90)" x="0" y="0" font-size="6.2" text-anchor="middle" fill="#222" textLength="29.6" lengthAdjust="spacingAndGlyphs">Latitude (°S)</text>
</g>
<g transform="translate(382,232)">
<clipPath id="cpi"><rect x="0" y="0" width="163" height="80"/></clipPath><g clip-path="url(#cpi)"><g filter="url(#rough)"><path d="M1.3 21.2 C10.2 17.0 38.0 25.4 57.9 27.5 C77.8 29.6 103.5 32.7 120.8 33.7 C138.1 34.8 154.9 30.1 161.7 33.7 C168.5 37.4 168.5 52.1 161.7 55.8 C154.9 59.4 138.1 56.0 120.8 55.8 C103.5 55.5 77.3 54.7 57.9 54.2 C38.5 53.7 13.9 58.1 4.4 52.6 C-5.0 47.1 -7.6 25.4 1.3 21.2Z" fill="#f8f0b0"/><path d="M1.3 11.7 C10.7 11.2 40.1 18.8 57.9 21.2 C75.7 23.5 90.9 24.8 108.2 25.9 C125.5 26.9 152.8 25.1 161.7 27.5 C170.6 29.8 165.4 37.7 161.7 40.0 C158.0 42.4 147.6 41.6 139.7 41.6 C131.8 41.6 121.3 39.8 114.5 40.0 C107.7 40.3 104.6 42.7 98.8 43.2 C93.0 43.7 86.7 44.2 79.9 43.2 C73.1 42.1 65.8 39.0 57.9 36.9 C50.0 34.8 40.1 32.4 32.7 30.6 C25.4 28.8 19.1 26.9 13.9 25.9 C8.6 24.8 3.4 26.7 1.3 24.3 C-0.8 22.0 -8.1 12.3 1.3 11.7Z" fill="#ffa040"/><path d="M92.5 24.9 C104.3 22.2 150.2 24.2 161.7 26.8 C173.2 29.4 165.4 38.1 161.7 40.7 C158.0 43.2 147.6 42.2 139.7 42.2 C131.8 42.2 121.3 40.4 114.5 40.7 C107.7 40.9 102.7 43.4 98.8 43.8 C94.9 44.2 92.0 46.3 90.9 43.2 C89.9 40.0 80.7 27.7 92.5 24.9Z" fill="#ffc474"/><path d="M82.4 14.9 C83.5 10.3 88.3 10.8 89.4 15.5 C90.4 20.2 89.8 38.6 88.7 43.2 C87.7 47.8 84.1 47.9 83.1 43.2 C82.0 38.5 81.4 19.5 82.4 14.9Z" fill="#ff5a20"/><path d="M4.4 32.2 C8.1 30.1 18.6 29.8 26.5 30.6 C34.3 31.4 43.2 34.8 51.6 36.9 C60.0 39.0 68.9 41.6 76.8 43.2 C84.6 44.8 91.5 46.3 98.8 46.3 C106.1 46.3 116.1 42.7 120.8 43.2 C125.5 43.7 130.8 47.9 127.1 49.5 C123.4 51.0 110.3 52.1 98.8 52.6 C87.3 53.1 71.0 53.1 57.9 52.6 C44.8 52.1 29.1 51.0 20.2 49.5 C11.3 47.9 7.1 46.1 4.4 43.2 C1.8 40.3 0.8 34.3 4.4 32.2Z" fill="#f4e060"/><path d="M1.3 22.7 C3.4 21.7 10.7 23.0 13.9 24.3 C17.0 25.6 19.6 28.5 20.2 30.6 C20.7 32.7 19.6 35.8 17.0 36.9 C14.4 37.9 7.1 37.9 4.4 36.9 C1.8 35.8 1.8 33.0 1.3 30.6 C0.8 28.2 -0.8 23.8 1.3 22.7Z" fill="#ffffff"/><path d="M29.6 32.2 C32.5 31.6 42.2 32.4 45.3 33.7 C48.5 35.1 50.0 38.7 48.5 40.0 C46.9 41.3 39.3 42.1 35.9 41.6 C32.5 41.1 29.1 38.5 28.0 36.9 C27.0 35.3 26.7 32.7 29.6 32.2Z" fill="#ffffff"/><path d="M133.4 40.0 C137.6 37.9 157.0 35.3 161.7 36.9 C166.4 38.5 165.9 47.4 161.7 49.5 C157.5 51.6 141.3 51.0 136.5 49.5 C131.8 47.9 129.2 42.1 133.4 40.0Z" fill="#ffffff"/><path d="M4.4 43.2 C9.2 41.9 21.2 46.9 32.7 47.9 C44.3 48.9 59.0 48.9 73.6 49.5 C88.3 50.0 106.1 51.0 120.8 51.0 C135.5 51.0 154.9 46.6 161.7 49.5 C168.5 52.4 165.9 64.7 161.7 68.3 C157.5 72.0 146.0 70.4 136.5 71.5 C127.1 72.5 115.6 74.1 105.1 74.6 C94.6 75.2 84.1 74.9 73.6 74.6 C63.2 74.4 52.1 74.6 42.2 73.1 C32.2 71.5 20.2 68.1 13.9 65.2 C7.6 62.3 6.0 59.4 4.4 55.8 C2.9 52.1 -0.3 44.5 4.4 43.2Z" fill="#a8eaa8"/><path d="M83.1 54.2 C87.8 52.6 105.6 55.0 114.5 55.8 C123.4 56.5 128.7 58.4 136.5 58.9 C144.4 59.4 157.5 55.4 161.7 58.9 C165.9 62.4 173.8 76.5 161.7 80.0 C149.7 83.5 101.9 82.4 89.4 80.0 C76.8 77.5 87.3 69.5 86.2 65.2 C85.2 60.9 78.4 55.8 83.1 54.2Z" fill="#ffffff"/><path d="M89.4 58.9 C92.0 57.9 98.8 57.1 105.1 57.3 C111.4 57.6 120.8 59.4 127.1 60.5 C133.4 61.5 142.8 62.6 142.8 63.6 C142.8 64.7 133.9 66.2 127.1 66.8 C120.3 67.3 108.2 67.3 101.9 66.8 C95.7 66.2 91.5 64.9 89.4 63.6 C87.3 62.3 86.7 60.0 89.4 58.9Z" fill="#a8eaa8"/><path d="M54.8 52.6 C56.3 50.5 60.5 49.7 64.2 49.5 C67.9 49.2 73.9 49.5 76.8 51.0 C79.7 52.6 81.0 56.0 81.5 58.9 C82.0 61.8 81.8 66.0 79.9 68.3 C78.1 70.7 73.9 72.5 70.5 73.1 C67.1 73.6 62.1 73.3 59.5 71.5 C56.9 69.7 55.5 65.2 54.8 62.1 C54.0 58.9 53.2 54.7 54.8 52.6Z" fill="#30d030"/><path d="M13.9 55.8 C16.5 55.0 26.5 56.5 32.7 57.3 C39.0 58.1 49.0 58.9 51.6 60.5 C54.2 62.1 52.1 65.7 48.5 66.8 C44.8 67.8 34.8 67.6 29.6 66.8 C24.4 66.0 19.6 63.9 17.0 62.1 C14.4 60.2 11.3 56.5 13.9 55.8Z" fill="#50d850"/><path d="M51.6 70.9 C55.0 70.2 65.8 69.8 73.6 69.9 C81.5 70.0 95.1 70.7 98.8 71.5 C102.5 72.3 100.4 74.1 95.7 74.6 C90.9 75.2 77.6 74.7 70.5 74.6 C63.4 74.5 56.3 74.6 53.2 74.0 C50.0 73.4 48.2 71.5 51.6 70.9Z" fill="#6a8ae0"/><path d="M1.3 0.4 C28.0 -1.5 135.0 -4.4 161.7 0.4 C188.4 5.2 164.3 24.5 161.7 29.0 C159.1 33.5 151.7 28.0 146.0 27.5 C140.2 26.9 133.4 26.1 127.1 25.9 C120.8 25.6 114.5 25.9 108.2 25.9 C101.9 25.9 95.1 26.1 89.4 25.9 C83.6 25.6 78.9 24.8 73.6 24.3 C68.4 23.8 63.2 23.3 57.9 22.7 C52.7 22.2 47.4 21.9 42.2 21.2 C36.9 20.4 31.2 19.0 26.5 18.0 C21.7 17.1 18.1 16.6 13.9 15.5 C9.7 14.5 3.4 14.2 1.3 11.7 C-0.8 9.2 -25.4 2.3 1.3 0.4Z" fill="#ff3a00"/><path d="M77.4 0.4 C79.2 -1.2 87.4 -1.5 89.4 0.4 C91.4 2.3 90.4 9.3 89.4 11.7 C88.3 14.1 84.9 15.1 83.1 14.9 C81.2 14.6 79.3 12.6 78.4 10.2 C77.4 7.7 75.6 2.0 77.4 0.4Z" fill="#ffd8c8"/><path d="M90.9 8.6 C93.6 6.5 105.6 8.1 108.2 10.2 C110.9 12.3 109.3 19.1 106.7 21.2 C104.0 23.3 95.1 24.8 92.5 22.7 C89.9 20.6 88.3 10.7 90.9 8.6Z" fill="#ffe0d0"/><path d="M1.3 11.7 C3.4 11.3 9.7 14.5 13.9 15.5 C18.1 16.6 21.7 17.1 26.5 18.0 C31.2 19.0 36.9 20.4 42.2 21.2 C47.4 21.9 52.7 22.2 57.9 22.7 C63.2 23.3 72.1 23.5 73.6 24.3 C75.2 25.1 72.6 27.2 67.3 27.5 C62.1 27.7 50.0 26.7 42.2 25.9 C34.3 25.1 27.0 24.0 20.2 22.7 C13.3 21.4 4.4 19.9 1.3 18.0 C-1.9 16.2 -0.8 12.1 1.3 11.7Z" fill="#ff7a20"/></g></g>
<g clip-path="url(#cqi)"><clipPath id="cqi"><rect x="0" y="0" width="163" height="80"/></clipPath><polyline points="76.6,0.0 75.6,2.0 75.6,5.0 77.6,8.0 80.6,13.0 84.6,17.0 86.6,19.0 86.1,24.0 85.6,30.0 84.6,34.0 83.6,37.0 83.1,41.0 82.6,44.0 81.6,47.0 81.6,50.0 82.6,52.0 84.6,53.5 86.6,54.5 89.6,55.0 90.6,54.5 88.6,53.5 87.6,52.0 88.6,50.0 89.6,48.0 90.6,46.0 91.6,44.0 92.6,42.5 91.6,41.0 94.6,39.0 98.6,38.5 99.6,36.0 99.6,35.0 101.6,34.5 103.6,33.5 106.6,31.0 108.1,28.0 108.6,26.0 111.6,23.5 115.6,22.0 116.6,20.0 117.6,17.0 118.6,13.0 121.6,9.0 121.6,6.0 119.6,4.5 116.6,3.0 112.6,2.5 108.6,1.0 106.6,0.0" fill="none" stroke="#9a9a9a" stroke-width="0.55" stroke-opacity="0.85"/><polyline points="-13.4,78.0 -3.4,77.5 6.6,76.5 16.6,75.5 26.6,74.8 36.6,74.0 46.6,74.2 56.6,73.8 66.6,72.8 76.6,73.0 81.6,72.5 86.6,71.5 88.6,70.0 89.6,68.0 91.6,66.5 94.6,65.0 97.6,63.8 99.6,63.3 98.6,64.5 96.6,66.0 95.1,68.0 94.6,70.0 95.6,72.5 96.6,74.5 101.6,76.0 106.6,77.5 111.6,78.2 118.6,77.8 124.6,77.0 129.6,75.0 136.6,72.0 141.6,71.0 146.6,70.5 156.6,70.0 166.6,70.0" fill="none" stroke="#9a9a9a" stroke-width="0.55" stroke-opacity="0.85"/><polyline points="95.6,62.2 98.6,61.8 101.6,61.3" fill="none" stroke="#aaa" stroke-width="0.5"/></g>
<rect x="0.5" y="0.5" width="162" height="79" fill="none" stroke="#d8d8d8" stroke-width="0.8"/>
<path d="M12.5 61.8 L13.4 68.8 L12.5 77.3 L11.6 68.8 Z" fill="#333"/><path d="M5.5 68.8 L12.5 68.0 L20.5 68.8 L12.5 69.6 Z" fill="#333"/><rect x="11.8" y="58.3" width="1.4" height="1.4" fill="#444"/><rect x="11.8" y="77.8" width="1.4" height="1.4" fill="#444"/><rect x="2.1999999999999993" y="68.1" width="1.6" height="1.4" fill="#444"/><rect x="21.1" y="68.1" width="1.2" height="1.4" fill="#444"/>
<text x="160.5" y="75" font-size="13" text-anchor="end" fill="#151515" stroke="#151515" stroke-width="0.3">(i)</text>
<text x="-1.6" y="3.0" font-size="6" text-anchor="end" fill="#333">0</text>
<text x="-1.6" y="23.0" font-size="6" text-anchor="end" fill="#333">20</text>
<text x="-1.6" y="43.0" font-size="6" text-anchor="end" fill="#333">40</text>
<text x="-1.6" y="63.0" font-size="6" text-anchor="end" fill="#333">60</text>
<text x="16.6" y="87.8" font-size="6" text-anchor="middle" fill="#333">140</text>
<text x="36.6" y="87.8" font-size="6" text-anchor="middle" fill="#333">120</text>
<text x="56.6" y="87.8" font-size="6" text-anchor="middle" fill="#333">100</text>
<text x="76.6" y="87.8" font-size="6" text-anchor="middle" fill="#333">80</text>
<text x="96.6" y="87.8" font-size="6" text-anchor="middle" fill="#333">60</text>
<text x="116.6" y="87.8" font-size="6" text-anchor="middle" fill="#333">40</text>
<text x="136.6" y="87.8" font-size="6" text-anchor="middle" fill="#333">20</text>
<text x="156.6" y="87.8" font-size="6" text-anchor="middle" fill="#333">0</text>
<text x="82" y="96.8" font-size="6.2" text-anchor="middle" fill="#222" textLength="36.8" lengthAdjust="spacingAndGlyphs">Longitude (°W)</text>
<text transform="translate(-9.6,40) rotate(-90)" x="0" y="0" font-size="6.2" text-anchor="middle" fill="#222" textLength="29.6" lengthAdjust="spacingAndGlyphs">Latitude (°S)</text>
</g>
<g transform="translate(18,334)">
<clipPath id="cpj"><rect x="0" y="0" width="163" height="80"/></clipPath><g clip-path="url(#cpj)"><g filter="url(#rough)"><path d="M1.3 0.4 C2.0 -1.6 5.1 -0.4 6.0 0.4 C7.0 1.2 7.0 3.5 7.0 5.4 C7.0 7.3 6.8 10.6 6.0 11.7 C5.2 12.9 2.7 14.2 1.9 12.4 C1.1 10.5 0.6 2.4 1.3 0.4Z" fill="#ff8020"/><path d="M39.0 8.0 C44.0 6.6 65.0 5.4 70.5 6.1 C76.0 6.7 74.2 10.3 72.1 11.7 C70.0 13.2 63.2 14.5 57.9 14.9 C52.7 15.3 43.8 15.4 40.6 14.2 C37.5 13.1 34.1 9.3 39.0 8.0Z" fill="#ffb0a0"/><path d="M79.9 0.4 C82.5 -1.0 95.5 -0.4 98.8 0.4 C102.1 1.2 100.5 4.0 99.4 5.4 C98.4 6.9 95.2 8.7 92.5 9.2 C89.8 9.7 85.2 10.0 83.1 8.6 C81.0 7.1 77.3 1.8 79.9 0.4Z" fill="#ff3010"/><path d="M114.5 11.1 C115.2 10.4 117.7 10.4 118.3 11.1 C118.9 11.8 118.9 14.8 118.3 15.5 C117.7 16.2 115.2 16.2 114.5 15.5 C113.9 14.8 113.9 11.8 114.5 11.1Z" fill="#ff4020"/><path d="M128.7 18.0 C130.8 17.0 140.2 17.1 142.8 18.0 C145.5 19.0 146.5 22.6 144.4 23.7 C142.3 24.7 132.9 25.3 130.3 24.3 C127.6 23.4 126.6 19.1 128.7 18.0Z" fill="#ff8060"/><path d="M146.0 21.8 C146.9 20.8 151.1 20.8 152.3 21.8 C153.4 22.7 153.8 26.5 152.9 27.5 C152.0 28.4 147.8 28.4 146.6 27.5 C145.5 26.5 145.0 22.7 146.0 21.8Z" fill="#ff8060"/><path d="M1.3 18.0 C3.1 16.2 8.6 18.8 13.9 19.6 C19.1 20.4 27.0 22.0 32.7 22.7 C38.5 23.5 42.7 23.8 48.5 24.3 C54.2 24.8 62.1 25.6 67.3 25.9 C72.6 26.1 77.3 25.1 79.9 25.9 C82.5 26.7 81.5 29.3 83.1 30.6 C84.6 31.9 85.7 33.5 89.4 33.7 C93.0 34.0 99.8 32.2 105.1 32.2 C110.3 32.2 115.6 33.0 120.8 33.7 C126.1 34.5 131.3 35.8 136.5 36.9 C141.8 37.9 148.6 38.5 152.3 40.0 C155.9 41.6 158.6 44.2 158.6 46.3 C158.6 48.4 155.9 51.8 152.3 52.6 C148.6 53.4 141.8 51.0 136.5 51.0 C131.3 51.0 126.1 52.9 120.8 52.6 C115.6 52.4 110.3 49.7 105.1 49.5 C99.8 49.2 93.6 50.8 89.4 51.0 C85.2 51.3 83.1 51.3 79.9 51.0 C76.8 50.8 74.2 48.9 70.5 49.5 C66.8 50.0 62.6 53.1 57.9 54.2 C53.2 55.2 47.4 55.5 42.2 55.8 C36.9 56.0 31.2 56.3 26.5 55.8 C21.7 55.2 17.0 54.7 13.9 52.6 C10.7 50.5 9.4 46.9 7.6 43.2 C5.7 39.5 3.9 34.8 2.9 30.6 C1.8 26.4 -0.5 19.9 1.3 18.0Z" fill="#ff9a30"/><path d="M1.3 18.0 C3.1 16.4 8.6 18.8 13.9 19.6 C19.1 20.4 28.0 21.8 32.7 22.7 C37.5 23.6 40.6 23.6 42.2 24.9 C43.8 26.2 43.8 29.4 42.2 30.6 C40.6 31.8 37.5 32.2 32.7 32.2 C28.0 32.2 18.9 31.1 13.9 30.6 C8.9 30.1 5.0 31.1 2.9 29.0 C0.8 26.9 -0.5 19.6 1.3 18.0Z" fill="#ff5a10"/><path d="M40.9 24.9 C42.0 24.3 45.7 23.7 48.5 23.7 C51.2 23.7 54.5 24.3 57.3 24.9 C60.1 25.6 63.4 26.4 65.1 27.5 C66.9 28.5 66.8 30.0 67.7 31.2 C68.5 32.5 69.3 33.3 70.2 35.0 C71.0 36.7 72.1 39.4 72.7 41.3 C73.3 43.2 74.4 45.2 74.0 46.3 C73.5 47.4 72.1 47.9 70.2 47.9 C68.3 47.9 65.2 46.7 62.6 46.3 C60.1 45.9 56.7 46.0 54.8 45.4 C52.8 44.8 51.4 43.9 51.0 42.6 C50.6 41.2 52.5 39.2 52.2 37.5 C52.0 35.8 51.0 33.7 49.7 32.5 C48.5 31.2 46.0 30.8 44.7 30.0 C43.4 29.1 42.8 28.3 42.2 27.5 C41.6 26.6 39.9 25.6 40.9 24.9Z" fill="#ff5010"/><path d="M35.3 29.3 C35.7 28.9 37.3 29.2 39.0 30.0 C40.8 30.7 43.8 31.6 46.0 33.7 C48.2 35.8 50.2 39.9 52.2 42.6 C54.3 45.2 57.9 48.0 58.5 49.5 C59.2 50.9 57.8 52.1 56.3 51.4 C54.9 50.6 52.1 47.6 50.0 45.1 C47.9 42.6 46.0 38.4 43.8 36.3 C41.5 34.2 37.9 33.6 36.5 32.5 C35.1 31.3 34.8 29.8 35.3 29.3Z" fill="#ffffff"/><path d="M74.3 14.9 C76.3 12.3 84.8 11.3 86.8 14.9 C88.9 18.4 88.4 32.5 86.8 36.3 C85.3 40.0 79.5 38.5 77.4 37.5 C75.4 36.6 75.1 34.4 74.6 30.6 C74.1 26.8 72.2 17.5 74.3 14.9Z" fill="#ffffff"/><path d="M89.4 33.7 C92.0 32.7 99.8 32.2 105.1 32.2 C110.3 32.2 115.6 33.0 120.8 33.7 C126.1 34.5 133.4 35.8 136.5 36.9 C139.7 37.9 142.3 39.3 139.7 40.0 C137.1 40.8 127.1 41.6 120.8 41.6 C114.5 41.6 107.2 40.6 101.9 40.0 C96.7 39.5 91.5 39.5 89.4 38.5 C87.3 37.4 86.7 34.8 89.4 33.7Z" fill="#ff7020"/><path d="M139.7 36.9 C141.3 34.8 149.1 38.5 152.3 40.0 C155.4 41.6 158.3 44.0 158.6 46.3 C158.8 48.7 156.5 53.1 153.8 54.2 C151.2 55.2 145.2 55.5 142.8 52.6 C140.5 49.7 138.1 39.0 139.7 36.9Z" fill="#ffc040"/><path d="M7.6 30.6 C10.1 28.9 20.4 29.7 23.3 31.2 C26.2 32.8 25.9 37.9 24.9 40.0 C23.8 42.1 19.8 43.5 17.0 43.8 C14.2 44.1 9.8 43.8 8.2 41.6 C6.6 39.4 5.1 32.3 7.6 30.6Z" fill="#ffffff"/><path d="M4.4 35.3 C5.5 34.5 9.7 34.5 10.7 35.3 C11.8 36.1 11.8 39.3 10.7 40.0 C9.7 40.8 5.5 40.8 4.4 40.0 C3.4 39.3 3.4 36.1 4.4 35.3Z" fill="#f0d020"/><path d="M20.2 54.2 C25.9 52.6 46.4 55.4 57.9 55.1 C69.4 54.9 75.7 53.1 89.4 52.6 C103.0 52.1 130.8 50.7 139.7 52.0 C148.6 53.3 151.2 58.5 142.8 60.5 C134.4 62.4 103.5 62.8 89.4 63.6 C75.2 64.4 68.9 65.0 57.9 65.2 C46.9 65.4 29.6 66.4 23.3 64.6 C17.0 62.7 14.4 55.8 20.2 54.2Z" fill="#f6ea70"/><path d="M7.6 52.6 C9.6 51.5 16.0 51.5 20.2 52.0 C24.4 52.5 31.2 53.8 32.7 55.8 C34.3 57.7 32.7 62.5 29.6 63.6 C26.5 64.8 17.4 63.5 13.9 62.7 C10.3 61.9 9.3 60.6 8.2 58.9 C7.2 57.2 5.6 53.8 7.6 52.6Z" fill="#a0e8a0"/><path d="M13.9 63.6 C17.5 62.5 32.2 64.3 42.2 64.6 C52.1 64.8 64.2 65.0 73.6 65.2 C83.1 65.4 90.9 66.1 98.8 65.8 C106.7 65.6 114.0 64.5 120.8 63.6 C127.6 62.7 136.0 59.4 139.7 60.5 C143.4 61.5 146.0 67.8 142.8 69.9 C139.7 72.0 128.2 72.0 120.8 73.1 C113.5 74.1 106.7 75.7 98.8 76.2 C90.9 76.7 83.1 76.5 73.6 76.2 C64.2 75.9 51.1 75.4 42.2 74.6 C33.3 73.8 24.9 73.3 20.2 71.5 C15.4 69.7 10.2 64.8 13.9 63.6Z" fill="#50d850"/><path d="M57.9 68.3 C60.8 67.3 70.0 67.6 76.8 67.7 C83.6 67.8 95.7 67.8 98.8 69.0 C101.9 70.1 99.3 73.6 95.7 74.6 C92.0 75.7 82.8 75.4 76.8 75.3 C70.8 75.2 62.6 75.2 59.5 74.0 C56.3 72.9 55.0 69.4 57.9 68.3Z" fill="#209860"/><path d="M42.2 74.6 C46.9 74.1 64.2 75.0 73.6 75.3 C83.1 75.5 95.1 75.7 98.8 76.2 C102.5 76.7 104.6 78.0 95.7 78.4 C86.7 78.8 54.2 79.0 45.3 78.4 C36.4 77.8 37.5 75.2 42.2 74.6Z" fill="#8aa0f0"/><path d="M95.7 55.8 C96.7 54.9 105.1 54.6 108.2 55.1 C111.4 55.7 115.6 58.0 114.5 58.9 C113.5 59.8 105.1 61.0 101.9 60.5 C98.8 60.0 94.6 56.7 95.7 55.8Z" fill="#ffffff"/></g></g>
<g clip-path="url(#cqj)"><clipPath id="cqj"><rect x="0" y="0" width="163" height="80"/></clipPath><polyline points="76.6,0.0 75.6,2.0 75.6,5.0 77.6,8.0 80.6,13.0 84.6,17.0 86.6,19.0 86.1,24.0 85.6,30.0 84.6,34.0 83.6,37.0 83.1,41.0 82.6,44.0 81.6,47.0 81.6,50.0 82.6,52.0 84.6,53.5 86.6,54.5 89.6,55.0 90.6,54.5 88.6,53.5 87.6,52.0 88.6,50.0 89.6,48.0 90.6,46.0 91.6,44.0 92.6,42.5 91.6,41.0 94.6,39.0 98.6,38.5 99.6,36.0 99.6,35.0 101.6,34.5 103.6,33.5 106.6,31.0 108.1,28.0 108.6,26.0 111.6,23.5 115.6,22.0 116.6,20.0 117.6,17.0 118.6,13.0 121.6,9.0 121.6,6.0 119.6,4.5 116.6,3.0 112.6,2.5 108.6,1.0 106.6,0.0" fill="none" stroke="#9a9a9a" stroke-width="0.55" stroke-opacity="0.85"/><polyline points="-13.4,78.0 -3.4,77.5 6.6,76.5 16.6,75.5 26.6,74.8 36.6,74.0 46.6,74.2 56.6,73.8 66.6,72.8 76.6,73.0 81.6,72.5 86.6,71.5 88.6,70.0 89.6,68.0 91.6,66.5 94.6,65.0 97.6,63.8 99.6,63.3 98.6,64.5 96.6,66.0 95.1,68.0 94.6,70.0 95.6,72.5 96.6,74.5 101.6,76.0 106.6,77.5 111.6,78.2 118.6,77.8 124.6,77.0 129.6,75.0 136.6,72.0 141.6,71.0 146.6,70.5 156.6,70.0 166.6,70.0" fill="none" stroke="#9a9a9a" stroke-width="0.55" stroke-opacity="0.85"/><polyline points="95.6,62.2 98.6,61.8 101.6,61.3" fill="none" stroke="#aaa" stroke-width="0.5"/></g>
<rect x="0.5" y="0.5" width="162" height="79" fill="none" stroke="#d8d8d8" stroke-width="0.8"/>
<path d="M12.5 61.8 L13.4 68.8 L12.5 77.3 L11.6 68.8 Z" fill="#333"/><path d="M5.5 68.8 L12.5 68.0 L20.5 68.8 L12.5 69.6 Z" fill="#333"/><rect x="11.8" y="58.3" width="1.4" height="1.4" fill="#444"/><rect x="11.8" y="77.8" width="1.4" height="1.4" fill="#444"/><rect x="2.1999999999999993" y="68.1" width="1.6" height="1.4" fill="#444"/><rect x="21.1" y="68.1" width="1.2" height="1.4" fill="#444"/>
<text x="160.5" y="75" font-size="13" text-anchor="end" fill="#151515" stroke="#151515" stroke-width="0.3">(j)</text>
<text x="-1.6" y="3.0" font-size="6" text-anchor="end" fill="#333">0</text>
<text x="-1.6" y="23.0" font-size="6" text-anchor="end" fill="#333">20</text>
<text x="-1.6" y="43.0" font-size="6" text-anchor="end" fill="#333">40</text>
<text x="-1.6" y="63.0" font-size="6" text-anchor="end" fill="#333">60</text>
<text x="16.6" y="87.8" font-size="6" text-anchor="middle" fill="#333">140</text>
<text x="36.6" y="87.8" font-size="6" text-anchor="middle" fill="#333">120</text>
<text x="56.6" y="87.8" font-size="6" text-anchor="middle" fill="#333">100</text>
<text x="76.6" y="87.8" font-size="6" text-anchor="middle" fill="#333">80</text>
<text x="96.6" y="87.8" font-size="6" text-anchor="middle" fill="#333">60</text>
<text x="116.6" y="87.8" font-size="6" text-anchor="middle" fill="#333">40</text>
<text x="136.6" y="87.8" font-size="6" text-anchor="middle" fill="#333">20</text>
<text x="156.6" y="87.8" font-size="6" text-anchor="middle" fill="#333">0</text>
<text x="82" y="96.8" font-size="6.2" text-anchor="middle" fill="#222" textLength="36.8" lengthAdjust="spacingAndGlyphs">Longitude (°W)</text>
<text transform="translate(-9.6,40) rotate(-90)" x="0" y="0" font-size="6.2" text-anchor="middle" fill="#222" textLength="29.6" lengthAdjust="spacingAndGlyphs">Latitude (°S)</text>
</g>
<g transform="translate(200,334)">
<clipPath id="cpk"><rect x="0" y="0" width="163" height="80"/></clipPath><g clip-path="url(#cpk)"><g filter="url(#rough)"><path d="M4.4 25.9 C6.0 23.5 9.2 27.5 13.9 29.0 C18.6 30.6 25.4 33.5 32.7 35.3 C40.1 37.2 50.6 38.7 57.9 40.0 C65.2 41.3 71.5 41.6 76.8 43.2 C82.0 44.8 84.1 48.7 89.4 49.5 C94.6 50.3 101.9 48.4 108.2 47.9 C114.5 47.4 121.3 46.1 127.1 46.3 C132.9 46.6 140.2 47.4 142.8 49.5 C145.5 51.6 145.5 57.1 142.8 58.9 C140.2 60.7 132.9 60.2 127.1 60.5 C121.3 60.7 114.5 60.5 108.2 60.5 C101.9 60.5 95.1 60.8 89.4 60.5 C83.6 60.1 79.9 59.1 73.6 58.3 C67.3 57.5 59.5 56.4 51.6 55.8 C43.8 55.1 33.3 55.0 26.5 54.2 C19.6 53.4 14.4 52.9 10.7 51.0 C7.1 49.2 5.5 47.4 4.4 43.2 C3.4 39.0 2.9 28.2 4.4 25.9Z" fill="#ffa030"/><path d="M7.6 49.5 C11.5 48.2 21.7 52.6 32.7 54.2 C43.8 55.8 61.6 57.9 73.6 58.9 C85.7 60.0 94.1 60.2 105.1 60.5 C116.1 60.7 133.9 58.9 139.7 60.5 C145.5 62.1 145.5 68.3 139.7 69.9 C133.9 71.5 116.1 70.1 105.1 69.9 C94.1 69.8 85.7 69.3 73.6 69.0 C61.6 68.6 43.5 68.9 32.7 67.7 C22.0 66.6 13.3 65.1 9.2 62.1 C5.0 59.0 3.7 50.8 7.6 49.5Z" fill="#f8e070"/><path d="M20.2 43.2 C24.6 43.1 39.0 45.2 48.5 46.3 C57.9 47.5 72.6 49.1 76.8 50.1 C81.0 51.2 78.4 52.5 73.6 52.6 C68.9 52.8 57.1 52.0 48.5 51.0 C39.8 50.1 26.5 48.3 21.7 47.0 C17.0 45.6 15.7 43.3 20.2 43.2Z" fill="#ffffff"/><path d="M83.1 62.7 C87.3 61.1 106.1 60.8 111.4 62.1 C116.6 63.3 118.7 68.3 114.5 69.9 C110.3 71.5 91.5 72.7 86.2 71.5 C81.0 70.3 78.9 64.3 83.1 62.7Z" fill="#ffffff"/><path d="M139.7 40.0 C143.6 32.9 159.1 30.2 163.0 36.9 C166.8 43.5 166.8 72.8 163.0 80.0 C159.1 87.2 143.6 86.6 139.7 80.0 C135.8 73.3 135.8 47.2 139.7 40.0Z" fill="#ffffff"/><path d="M17.0 67.7 C21.0 66.7 34.8 66.4 42.2 66.8 C49.5 67.1 58.4 68.3 61.1 69.9 C63.7 71.5 62.6 75.0 57.9 76.2 C53.2 77.4 39.3 77.7 32.7 77.2 C26.2 76.6 21.2 74.6 18.6 73.1 C16.0 71.5 13.1 68.8 17.0 67.7Z" fill="#d0ec80"/><path d="M83.1 69.0 C85.2 67.3 96.7 67.3 101.9 67.7 C107.2 68.1 113.0 69.9 114.5 71.5 C116.1 73.1 115.6 76.1 111.4 77.2 C107.2 78.2 94.1 79.1 89.4 77.8 C84.6 76.4 81.0 70.7 83.1 69.0Z" fill="#80d890"/><path d="M127.1 62.7 C129.2 61.0 138.6 61.3 142.8 61.4 C147.0 61.6 151.0 62.1 152.3 63.6 C153.6 65.2 154.4 69.6 150.7 70.9 C147.0 72.2 134.2 72.9 130.3 71.5 C126.3 70.1 125.0 64.4 127.1 62.7Z" fill="#90e890"/><path d="M1.3 0.4 C13.6 -1.5 63.9 -0.4 76.8 0.4 C89.6 1.2 79.4 4.1 78.4 5.4 C77.3 6.8 73.9 8.2 70.5 8.6 C67.1 9.0 62.6 7.7 57.9 8.0 C53.2 8.2 46.9 9.0 42.2 10.2 C37.5 11.3 33.3 13.3 29.6 14.9 C25.9 16.4 22.8 18.0 20.2 19.6 C17.5 21.2 16.0 24.6 13.9 24.3 C11.8 24.0 9.4 20.1 7.6 18.0 C5.7 15.9 3.9 14.7 2.9 11.7 C1.8 8.8 -11.0 2.3 1.3 0.4Z" fill="#ff4a10"/><path d="M20.2 19.6 C21.5 17.8 25.9 16.2 29.6 14.9 C33.3 13.6 37.5 12.3 42.2 11.7 C46.9 11.2 52.7 11.2 57.9 11.7 C63.2 12.3 69.4 13.3 73.6 14.9 C77.8 16.4 81.0 19.1 83.1 21.2 C85.2 23.3 86.2 24.8 86.2 27.5 C86.2 30.1 84.9 34.8 83.1 36.9 C81.2 39.0 78.4 39.8 75.2 40.0 C72.1 40.3 68.1 39.0 64.2 38.5 C60.3 37.9 55.8 37.7 51.6 36.9 C47.4 36.1 42.7 34.8 39.0 33.7 C35.4 32.7 32.5 31.9 29.6 30.6 C26.7 29.3 23.3 27.7 21.7 25.9 C20.2 24.0 18.9 21.4 20.2 19.6Z" fill="#ff5010"/><path d="M29.6 11.1 C32.7 10.2 50.6 8.7 57.9 8.6 C65.2 8.4 73.6 9.5 73.6 10.2 C73.6 10.8 63.7 11.7 57.9 12.4 C52.1 13.0 43.8 14.5 39.0 14.2 C34.3 14.0 26.5 12.0 29.6 11.1Z" fill="#ffffff"/><path d="M89.4 0.4 C100.4 -2.0 149.7 -2.5 161.7 0.4 C173.8 3.3 162.8 13.8 161.7 18.0 C160.7 22.3 159.6 24.3 155.4 25.9 C151.2 27.5 142.3 27.2 136.5 27.5 C130.8 27.7 126.1 28.0 120.8 27.5 C115.6 26.9 109.3 26.4 105.1 24.3 C100.9 22.2 98.3 18.9 95.7 14.9 C93.0 10.9 78.4 2.8 89.4 0.4Z" fill="#ff3a00"/><path d="M130.3 18.0 C132.2 16.3 140.6 17.0 142.8 18.6 C145.0 20.3 145.5 26.4 143.5 28.1 C141.5 29.8 133.1 30.4 130.9 28.7 C128.7 27.0 128.3 19.7 130.3 18.0Z" fill="#ffffff"/><path d="M76.8 27.5 C78.8 25.9 85.2 24.6 89.4 24.3 C93.6 24.0 98.8 24.3 101.9 25.9 C105.1 27.5 107.7 30.9 108.2 33.7 C108.8 36.6 107.2 40.6 105.1 43.2 C103.0 45.8 98.8 48.2 95.7 49.5 C92.5 50.8 88.8 52.1 86.2 51.0 C83.6 50.0 81.4 46.1 79.9 43.2 C78.5 40.3 77.9 36.4 77.4 33.7 C76.9 31.1 74.8 29.0 76.8 27.5Z" fill="#ff3000"/><path d="M68.0 2.3 C70.9 0.7 84.2 0.2 87.8 2.3 C91.4 4.4 89.9 11.5 89.4 14.9 C88.8 18.3 87.0 22.0 84.6 22.7 C82.3 23.5 77.6 21.4 75.2 19.6 C72.8 17.8 71.7 14.6 70.5 11.7 C69.3 8.8 65.1 3.9 68.0 2.3Z" fill="#ffffff"/><path d="M1.3 14.9 C2.2 12.8 5.5 16.4 7.6 18.0 C9.7 19.6 13.6 22.2 13.9 24.3 C14.1 26.4 11.1 29.6 9.2 30.6 C7.2 31.6 3.2 33.2 1.9 30.6 C0.6 28.0 0.3 17.0 1.3 14.9Z" fill="#ffffff"/><path d="M1.3 22.7 C1.9 22.0 4.4 22.0 5.1 22.7 C5.7 23.5 5.7 26.7 5.1 27.5 C4.4 28.2 1.9 28.2 1.3 27.5 C0.7 26.7 0.7 23.5 1.3 22.7Z" fill="#a0e080"/><path d="M81.3 -0.9 L164.7 -0.9 L164.7 81.9 L81.3 81.9Z" fill="#ffffff"/><path d="M86.2 0.0 C98.7 -0.9 150.1 -2.9 162.9 0.0 C175.7 2.9 164.1 14.2 162.9 17.4 C161.8 20.6 158.6 19.2 155.9 19.2 C153.3 19.2 149.8 17.4 147.2 17.4 C144.6 17.4 142.0 17.7 140.3 19.2 C138.5 20.6 136.9 23.8 136.8 26.1 C136.6 28.5 140.0 31.5 139.4 33.1 C138.8 34.7 136.0 36.0 133.3 35.7 C130.5 35.4 126.3 33.3 122.8 31.4 C119.3 29.5 115.9 26.4 112.4 24.4 C108.9 22.4 105.1 21.1 101.9 19.2 C98.7 17.3 95.5 15.4 93.2 13.1 C90.9 10.7 89.1 7.4 88.0 5.2 C86.8 3.1 73.7 0.9 86.2 0.0Z" fill="#ff3a10"/><path d="M150.7 0.0 C152.2 -1.7 160.9 -2.0 162.9 0.0 C165.0 2.0 164.4 10.5 162.9 12.2 C161.5 13.9 156.2 12.5 154.2 10.5 C152.2 8.4 149.3 1.7 150.7 0.0Z" fill="#ff7a30"/><path d="M133.3 8.7 C134.7 7.1 143.2 6.7 145.5 7.8 C147.8 9.0 148.7 14.1 147.2 15.7 C145.8 17.3 139.1 18.6 136.8 17.4 C134.4 16.3 131.8 10.3 133.3 8.7Z" fill="#ffd0c0"/><path d="M138.5 17.4 C140.4 16.8 147.2 17.6 150.7 18.3 C154.2 19.0 158.6 20.8 159.4 21.8 C160.3 22.8 158.3 24.3 155.9 24.4 C153.6 24.5 148.2 23.1 145.5 22.7 C142.7 22.2 140.5 22.7 139.4 21.8 C138.2 20.9 136.6 18.0 138.5 17.4Z" fill="#ff4a10"/><path d="M81.0 41.8 C82.5 39.5 87.7 42.1 89.7 43.6 C91.7 45.0 93.2 48.2 93.2 50.5 C93.2 52.9 91.7 56.4 89.7 57.5 C87.7 58.7 82.5 60.1 81.0 57.5 C79.5 54.9 79.5 44.2 81.0 41.8Z" fill="#ff9030"/><path d="M81.0 26.1 C82.2 23.2 85.4 24.5 88.0 24.4 C90.6 24.3 94.1 24.7 96.7 25.3 C99.3 25.9 101.9 26.3 103.7 27.9 C105.4 29.5 107.4 32.8 107.1 34.9 C106.9 36.9 103.9 38.3 101.9 40.1 C99.9 41.8 97.0 43.9 94.9 45.3 C92.9 46.8 91.5 48.5 89.7 48.8 C88.0 49.1 85.9 48.2 84.5 47.1 C83.0 45.9 81.6 45.3 81.0 41.8 C80.4 38.3 79.8 29.0 81.0 26.1Z" fill="#ff3a10"/><path d="M98.4 40.1 C99.6 38.9 104.2 37.6 107.1 37.5 C110.0 37.3 113.0 38.3 115.9 39.2 C118.8 40.1 121.7 41.5 124.6 42.7 C127.5 43.9 130.7 44.9 133.3 46.2 C135.9 47.5 139.2 48.9 140.3 50.5 C141.3 52.1 140.8 54.8 139.4 55.8 C137.9 56.8 134.0 56.9 131.5 56.6 C129.1 56.4 126.9 54.8 124.6 54.0 C122.2 53.3 119.9 52.6 117.6 52.3 C115.3 52.0 113.0 52.9 110.6 52.3 C108.3 51.7 105.4 50.1 103.7 48.8 C101.9 47.5 101.0 45.9 100.2 44.4 C99.3 43.0 97.3 41.2 98.4 40.1Z" fill="#ff9a30"/><path d="M103.7 52.3 C104.8 50.7 109.6 51.0 112.4 51.4 C115.1 51.9 118.8 53.3 120.2 54.9 C121.7 56.5 122.1 59.6 121.1 61.0 C120.1 62.4 116.7 63.1 114.1 63.1 C111.5 63.1 107.1 62.8 105.4 61.0 C103.7 59.2 102.5 53.9 103.7 52.3Z" fill="#f0d840"/><path d="M81.0 61.0 C82.7 58.7 88.0 60.7 91.5 61.0 C94.9 61.3 98.4 61.9 101.9 62.7 C105.4 63.6 110.9 64.5 112.4 66.2 C113.8 68.0 112.7 71.5 110.6 73.2 C108.6 74.9 103.9 76.1 100.2 76.7 C96.4 77.3 91.2 77.0 88.0 76.7 C84.8 76.4 82.2 77.6 81.0 74.9 C79.8 72.3 79.3 63.3 81.0 61.0Z" fill="#d8e860"/><path d="M130.7 66.2 C131.4 65.4 134.3 64.2 136.8 63.6 C139.2 63.0 143.7 62.3 145.5 62.7 C147.2 63.2 148.1 65.2 147.2 66.2 C146.4 67.2 142.7 68.4 140.3 68.8 C137.8 69.3 134.0 69.3 132.4 68.8 C130.8 68.4 129.9 67.1 130.7 66.2Z" fill="#80e070"/></g></g>
<g clip-path="url(#cqk)"><clipPath id="cqk"><rect x="0" y="0" width="163" height="80"/></clipPath><polyline points="76.6,0.0 75.6,2.0 75.6,5.0 77.6,8.0 80.6,13.0 84.6,17.0 86.6,19.0 86.1,24.0 85.6,30.0 84.6,34.0 83.6,37.0 83.1,41.0 82.6,44.0 81.6,47.0 81.6,50.0 82.6,52.0 84.6,53.5 86.6,54.5 89.6,55.0 90.6,54.5 88.6,53.5 87.6,52.0 88.6,50.0 89.6,48.0 90.6,46.0 91.6,44.0 92.6,42.5 91.6,41.0 94.6,39.0 98.6,38.5 99.6,36.0 99.6,35.0 101.6,34.5 103.6,33.5 106.6,31.0 108.1,28.0 108.6,26.0 111.6,23.5 115.6,22.0 116.6,20.0 117.6,17.0 118.6,13.0 121.6,9.0 121.6,6.0 119.6,4.5 116.6,3.0 112.6,2.5 108.6,1.0 106.6,0.0" fill="none" stroke="#9a9a9a" stroke-width="0.55" stroke-opacity="0.85"/><polyline points="-13.4,78.0 -3.4,77.5 6.6,76.5 16.6,75.5 26.6,74.8 36.6,74.0 46.6,74.2 56.6,73.8 66.6,72.8 76.6,73.0 81.6,72.5 86.6,71.5 88.6,70.0 89.6,68.0 91.6,66.5 94.6,65.0 97.6,63.8 99.6,63.3 98.6,64.5 96.6,66.0 95.1,68.0 94.6,70.0 95.6,72.5 96.6,74.5 101.6,76.0 106.6,77.5 111.6,78.2 118.6,77.8 124.6,77.0 129.6,75.0 136.6,72.0 141.6,71.0 146.6,70.5 156.6,70.0 166.6,70.0" fill="none" stroke="#9a9a9a" stroke-width="0.55" stroke-opacity="0.85"/><polyline points="95.6,62.2 98.6,61.8 101.6,61.3" fill="none" stroke="#aaa" stroke-width="0.5"/></g>
<rect x="0.5" y="0.5" width="162" height="79" fill="none" stroke="#d8d8d8" stroke-width="0.8"/>
<path d="M12.5 61.8 L13.4 68.8 L12.5 77.3 L11.6 68.8 Z" fill="#333"/><path d="M5.5 68.8 L12.5 68.0 L20.5 68.8 L12.5 69.6 Z" fill="#333"/><rect x="11.8" y="58.3" width="1.4" height="1.4" fill="#444"/><rect x="11.8" y="77.8" width="1.4" height="1.4" fill="#444"/><rect x="2.1999999999999993" y="68.1" width="1.6" height="1.4" fill="#444"/><rect x="21.1" y="68.1" width="1.2" height="1.4" fill="#444"/>
<text x="160.5" y="75" font-size="13" text-anchor="end" fill="#151515" stroke="#151515" stroke-width="0.3">(k)</text>
<text x="-1.6" y="3.0" font-size="6" text-anchor="end" fill="#333">0</text>
<text x="-1.6" y="23.0" font-size="6" text-anchor="end" fill="#333">20</text>
<text x="-1.6" y="43.0" font-size="6" text-anchor="end" fill="#333">40</text>
<text x="-1.6" y="63.0" font-size="6" text-anchor="end" fill="#333">60</text>
<text x="16.6" y="87.8" font-size="6" text-anchor="middle" fill="#333">140</text>
<text x="36.6" y="87.8" font-size="6" text-anchor="middle" fill="#333">120</text>
<text x="56.6" y="87.8" font-size="6" text-anchor="middle" fill="#333">100</text>
<text x="76.6" y="87.8" font-size="6" text-anchor="middle" fill="#333">80</text>
<text x="96.6" y="87.8" font-size="6" text-anchor="middle" fill="#333">60</text>
<text x="116.6" y="87.8" font-size="6" text-anchor="middle" fill="#333">40</text>
<text x="136.6" y="87.8" font-size="6" text-anchor="middle" fill="#333">20</text>
<text x="156.6" y="87.8" font-size="6" text-anchor="middle" fill="#333">0</text>
<text x="82" y="96.8" font-size="6.2" text-anchor="middle" fill="#222" textLength="36.8" lengthAdjust="spacingAndGlyphs">Longitude (°W)</text>
<text transform="translate(-9.6,40) rotate(-90)" x="0" y="0" font-size="6.2" text-anchor="middle" fill="#222" textLength="29.6" lengthAdjust="spacingAndGlyphs">Latitude (°S)</text>
</g>
<g transform="translate(382,334)">
<clipPath id="cpl"><rect x="0" y="0" width="163" height="80"/></clipPath><g clip-path="url(#cpl)"><g filter="url(#rough)"><path d="M67.3 0.4 C72.3 -0.7 93.3 -0.7 98.8 0.4 C104.3 1.5 100.9 4.9 100.4 7.0 C99.8 9.2 98.0 11.9 95.7 13.3 C93.3 14.7 89.9 15.5 86.2 15.5 C82.5 15.5 76.5 14.7 73.6 13.3 C70.8 11.9 70.0 9.2 68.9 7.0 C67.9 4.9 62.4 1.5 67.3 0.4Z" fill="#ff3010"/><path d="M35.9 9.2 C39.3 8.3 54.0 7.4 57.9 8.0 C61.8 8.5 62.9 11.4 59.5 12.4 C56.1 13.3 41.4 14.1 37.5 13.6 C33.5 13.1 32.5 10.2 35.9 9.2Z" fill="#ff6050"/><path d="M105.1 0.4 C107.5 -1.7 118.3 -1.0 120.8 0.4 C123.3 1.8 121.2 6.2 120.2 8.6 C119.1 11.0 116.8 14.1 114.5 14.9 C112.3 15.7 108.2 15.7 106.7 13.3 C105.1 10.9 102.7 2.6 105.1 0.4Z" fill="#ff4020"/><path d="M1.3 14.9 C3.4 12.1 9.7 15.9 13.9 17.4 C18.1 18.9 23.7 20.4 26.5 23.7 C29.2 26.9 30.5 33.1 30.2 36.9 C30.0 40.7 27.6 44.1 24.9 46.3 C22.2 48.5 17.3 49.8 13.9 50.1 C10.5 50.4 6.5 50.6 4.4 47.9 C2.3 45.2 1.8 39.2 1.3 33.7 C0.8 28.2 -0.8 17.6 1.3 14.9Z" fill="#ff9a30"/><path d="M1.3 14.9 C3.4 13.5 9.7 15.9 13.9 17.4 C18.1 18.9 24.1 21.7 26.5 23.7 C28.8 25.6 30.1 28.4 28.0 29.0 C25.9 29.7 18.3 28.0 13.9 27.5 C9.4 26.9 3.4 28.0 1.3 25.9 C-0.8 23.8 -0.8 16.3 1.3 14.9Z" fill="#ff6020"/><path d="M2.9 36.9 C4.4 35.2 11.0 36.9 13.9 38.5 C16.8 40.0 20.2 44.4 20.2 46.3 C20.2 48.3 16.5 49.7 13.9 50.1 C11.3 50.5 6.3 51.0 4.4 48.8 C2.6 46.6 1.3 38.6 2.9 36.9Z" fill="#f8d040"/><path d="M20.2 55.8 C21.7 52.9 34.8 48.9 42.2 46.3 C49.5 43.7 56.3 40.6 64.2 40.0 C72.1 39.5 82.5 42.7 89.4 43.2 C96.2 43.7 99.8 43.7 105.1 43.2 C110.3 42.7 115.6 40.6 120.8 40.0 C126.1 39.5 131.3 39.0 136.5 40.0 C141.8 41.1 150.7 44.2 152.3 46.3 C153.8 48.4 151.2 51.0 146.0 52.6 C140.7 54.2 127.6 54.7 120.8 55.8 C114.0 56.8 110.3 57.9 105.1 58.9 C99.8 60.0 94.6 61.3 89.4 62.1 C84.1 62.8 78.9 63.1 73.6 63.6 C68.4 64.2 64.7 65.2 57.9 65.2 C51.1 65.2 39.0 65.2 32.7 63.6 C26.5 62.1 18.6 58.6 20.2 55.8Z" fill="#ffa040"/><path d="M13.9 58.9 C18.1 57.1 32.2 57.9 42.2 58.3 C52.1 58.7 64.7 60.4 73.6 61.4 C82.5 62.5 90.9 62.9 95.7 64.6 C100.4 66.2 105.6 70.1 101.9 71.5 C98.3 72.9 83.6 72.8 73.6 73.1 C63.7 73.3 51.6 73.7 42.2 73.1 C32.7 72.4 21.7 71.3 17.0 69.0 C12.3 66.6 9.7 60.7 13.9 58.9Z" fill="#f8e050"/><path d="M32.7 19.6 C35.3 18.0 45.1 16.7 48.5 18.0 C51.9 19.3 52.9 24.3 53.2 27.5 C53.5 30.6 52.4 35.6 50.0 36.9 C47.7 38.2 41.8 36.9 39.0 35.3 C36.3 33.7 34.4 30.1 33.4 27.5 C32.3 24.8 30.2 21.2 32.7 19.6Z" fill="#ff5020"/><path d="M50.0 22.7 C52.4 20.1 66.3 19.9 70.5 21.2 C74.7 22.5 75.5 27.7 75.2 30.6 C74.9 33.5 72.1 37.4 68.9 38.5 C65.8 39.5 59.5 39.5 56.3 36.9 C53.2 34.3 47.7 25.4 50.0 22.7Z" fill="#ff3a10"/><path d="M77.4 21.2 C80.0 18.3 92.4 20.6 95.7 22.7 C99.0 24.8 98.0 30.3 97.2 33.7 C96.4 37.2 93.8 42.1 90.9 43.2 C88.1 44.2 82.2 43.7 79.9 40.0 C77.7 36.4 74.8 24.0 77.4 21.2Z" fill="#ff3010"/><path d="M98.8 15.5 C101.9 13.7 115.3 12.9 119.2 14.9 C123.2 16.9 122.4 23.8 122.4 27.5 C122.4 31.1 122.1 35.6 119.2 36.9 C116.4 38.2 108.2 37.2 105.1 35.3 C101.9 33.5 101.4 29.2 100.4 25.9 C99.3 22.6 95.7 17.3 98.8 15.5Z" fill="#ff3a10"/><path d="M120.8 19.6 C124.2 17.0 136.0 18.2 142.8 18.0 C149.7 17.9 158.8 16.6 161.7 18.6 C164.6 20.7 162.2 27.6 160.1 30.6 C158.0 33.6 153.6 35.6 149.1 36.9 C144.7 38.2 137.9 39.0 133.4 38.5 C128.9 37.9 124.5 36.9 122.4 33.7 C120.3 30.6 117.4 22.2 120.8 19.6Z" fill="#ff6a20"/><path d="M75.2 43.2 C77.3 41.1 86.5 40.6 89.4 43.2 C92.2 45.8 93.6 55.5 92.5 58.9 C91.5 62.3 85.7 64.2 83.1 63.6 C80.5 63.1 78.1 59.2 76.8 55.8 C75.5 52.4 73.1 45.3 75.2 43.2Z" fill="#ffffff"/><path d="M32.7 40.0 C35.1 38.5 44.3 37.9 48.5 38.5 C52.7 39.0 58.4 41.3 57.9 43.2 C57.4 45.0 49.3 48.7 45.3 49.5 C41.4 50.3 36.4 49.5 34.3 47.9 C32.2 46.3 30.4 41.6 32.7 40.0Z" fill="#ffffff"/><path d="M105.1 58.9 C108.8 57.1 117.7 56.5 127.1 55.8 C136.5 55.0 155.9 52.1 161.7 54.2 C167.5 56.3 167.5 66.2 161.7 68.3 C155.9 70.4 136.5 67.0 127.1 66.8 C117.7 66.5 108.8 68.1 105.1 66.8 C101.4 65.5 101.4 60.7 105.1 58.9Z" fill="#ffffff"/><path d="M127.1 49.5 C129.2 47.9 138.6 47.8 142.8 47.9 C147.0 48.0 151.2 48.5 152.3 50.1 C153.3 51.7 152.8 56.1 149.1 57.3 C145.5 58.5 133.9 58.6 130.3 57.3 C126.6 56.0 125.0 51.0 127.1 49.5Z" fill="#c8e860"/><path d="M17.0 68.3 C20.9 67.7 35.4 68.2 42.2 69.0 C49.0 69.8 52.7 72.7 57.9 73.1 C63.2 73.4 68.4 71.5 73.6 70.9 C78.9 70.2 81.5 69.7 89.4 69.0 C97.2 68.3 111.4 67.1 120.8 66.8 C130.3 66.4 142.1 65.5 146.0 66.8 C149.9 68.1 149.7 72.9 144.4 74.6 C139.2 76.4 123.7 76.7 114.5 77.2 C105.4 77.6 98.8 77.0 89.4 77.2 C79.9 77.3 67.3 77.9 57.9 77.8 C48.5 77.7 39.3 77.3 32.7 76.5 C26.2 75.7 21.2 74.4 18.6 73.1 C16.0 71.7 13.1 69.0 17.0 68.3Z" fill="#50d850"/><path d="M-0.9 -0.9 L81.9 -0.9 L81.9 81.9 L-0.9 81.9Z" fill="#ffffff"/><path d="M34.9 10.5 C36.0 9.9 40.6 9.6 41.8 10.1 C43.1 10.6 43.3 12.7 42.2 13.2 C41.1 13.8 36.4 14.1 35.2 13.6 C34.0 13.1 33.8 11.0 34.9 10.5Z" fill="#ff4a20"/><path d="M48.8 9.6 C51.4 8.8 61.8 8.9 64.5 9.6 C67.2 10.3 67.4 13.2 64.8 13.9 C62.3 14.7 51.8 15.0 49.2 14.3 C46.5 13.6 46.2 10.4 48.8 9.6Z" fill="#ff3a10"/><path d="M66.2 0.9 C68.6 -0.3 79.3 -1.0 81.9 0.0 C84.5 1.0 84.2 5.8 81.9 7.0 C79.6 8.1 70.6 8.0 68.0 7.0 C65.4 6.0 63.9 2.0 66.2 0.9Z" fill="#ff3a10"/><path d="M0.0 17.4 C1.7 13.4 7.3 18.0 10.5 19.2 C13.7 20.3 16.6 22.4 19.2 24.4 C21.8 26.4 25.3 28.8 26.1 31.4 C27.0 34.0 25.3 37.5 24.4 40.1 C23.5 42.7 22.7 45.0 20.9 47.1 C19.2 49.1 16.3 51.4 13.9 52.3 C11.6 53.2 9.0 52.9 7.0 52.3 C4.9 51.7 2.9 50.3 1.7 48.8 C0.6 47.3 0.3 48.8 0.0 43.6 C-0.3 38.3 -1.7 21.5 0.0 17.4Z" fill="#ff9a30"/><path d="M0.0 12.2 C1.5 11.0 5.8 12.5 8.7 13.1 C11.6 13.7 15.7 14.8 17.4 15.7 C19.2 16.6 19.8 17.4 19.2 18.3 C18.6 19.2 17.1 20.6 13.9 20.9 C10.7 21.2 2.3 21.5 0.0 20.0 C-2.3 18.6 -1.5 13.4 0.0 12.2Z" fill="#ff6020"/><path d="M2.6 34.9 C3.6 33.3 6.8 34.0 8.7 35.7 C10.6 37.5 13.4 42.6 13.9 45.3 C14.5 48.1 13.7 51.1 12.2 52.3 C10.7 53.4 6.8 53.4 5.2 52.3 C3.6 51.1 3.1 48.2 2.6 45.3 C2.2 42.4 1.6 36.5 2.6 34.9Z" fill="#f4d040"/><path d="M7.8 33.1 C9.3 31.8 15.5 32.7 17.4 34.0 C19.3 35.3 19.8 39.4 19.2 41.0 C18.6 42.6 15.7 43.4 13.9 43.6 C12.2 43.7 9.7 43.6 8.7 41.8 C7.7 40.1 6.4 34.4 7.8 33.1Z" fill="#ffffff"/><path d="M31.4 24.4 C32.2 22.9 37.5 22.4 40.1 22.7 C42.7 22.9 45.0 24.4 47.1 26.1 C49.1 27.9 52.0 31.1 52.3 33.1 C52.6 35.1 50.5 36.6 48.8 38.3 C47.1 40.1 44.2 41.8 41.8 43.6 C39.5 45.3 37.5 47.1 34.9 48.8 C32.2 50.5 28.5 53.4 26.1 54.0 C23.8 54.6 20.9 53.7 20.9 52.3 C20.9 50.8 24.1 47.6 26.1 45.3 C28.2 43.0 31.7 40.7 33.1 38.3 C34.6 36.0 35.1 33.7 34.9 31.4 C34.6 29.0 30.5 25.9 31.4 24.4Z" fill="#ff4a10"/><path d="M26.1 45.3 C28.5 43.9 32.2 43.9 34.9 43.6 C37.5 43.3 41.8 42.6 41.8 43.6 C41.8 44.6 37.5 47.9 34.9 49.7 C32.2 51.5 28.5 53.9 26.1 54.4 C23.8 54.8 20.9 53.8 20.9 52.3 C20.9 50.8 23.8 46.8 26.1 45.3Z" fill="#ff8a30"/><path d="M43.6 16.6 C44.7 16.0 49.4 16.7 52.3 17.4 C55.2 18.2 58.1 19.8 61.0 20.9 C63.9 22.1 67.1 23.2 69.7 24.4 C72.3 25.6 74.7 27.0 76.7 27.9 C78.7 28.8 81.0 27.6 81.9 29.6 C82.8 31.7 83.4 38.6 81.9 40.1 C80.5 41.5 75.8 39.2 73.2 38.3 C70.6 37.5 68.8 36.2 66.2 34.9 C63.6 33.6 60.1 32.0 57.5 30.5 C54.9 29.0 52.6 27.7 50.5 26.1 C48.5 24.5 46.5 22.5 45.3 20.9 C44.2 19.3 42.4 17.1 43.6 16.6Z" fill="#ff4010"/><path d="M17.4 54.0 C18.9 52.3 29.6 50.4 34.9 48.8 C40.1 47.2 44.4 45.6 48.8 44.4 C53.2 43.3 56.9 42.7 61.0 41.8 C65.1 41.0 69.7 39.5 73.2 39.2 C76.7 38.9 80.5 37.0 81.9 40.1 C83.4 43.1 84.0 54.9 81.9 57.5 C79.9 60.1 73.2 56.6 69.7 55.8 C66.2 54.9 63.9 52.9 61.0 52.3 C58.1 51.7 55.2 52.0 52.3 52.3 C49.4 52.6 46.5 53.2 43.6 54.0 C40.7 54.9 37.8 56.6 34.9 57.5 C32.0 58.4 29.0 59.8 26.1 59.3 C23.2 58.7 16.0 55.8 17.4 54.0Z" fill="#ffa040"/><path d="M13.9 57.5 C16.8 55.9 28.5 55.6 34.9 54.9 C41.2 54.2 47.1 53.0 52.3 53.2 C57.5 53.3 61.3 54.6 66.2 55.8 C71.2 56.9 79.3 57.8 81.9 60.1 C84.5 62.5 84.5 68.1 81.9 69.7 C79.3 71.3 71.2 69.9 66.2 69.7 C61.3 69.5 57.5 68.8 52.3 68.3 C47.1 67.8 40.7 67.2 34.9 66.6 C29.0 66.0 20.9 66.3 17.4 64.8 C13.9 63.3 11.0 59.2 13.9 57.5Z" fill="#f4e040"/><path d="M62.7 58.4 C63.3 56.5 70.0 57.1 73.2 57.5 C76.4 58.0 80.5 59.1 81.9 61.0 C83.4 62.9 84.0 67.5 81.9 68.8 C79.9 70.2 72.9 70.6 69.7 68.8 C66.5 67.1 62.2 60.3 62.7 58.4Z" fill="#ffffff"/><path d="M20.9 64.8 C22.7 63.6 29.6 65.1 34.9 65.5 C40.1 65.9 47.1 66.6 52.3 67.3 C57.5 68.0 63.3 68.7 66.2 69.7 C69.1 70.7 71.2 72.0 69.7 73.2 C68.3 74.4 63.3 76.3 57.5 76.7 C51.7 77.0 40.4 75.9 34.9 75.3 C29.3 74.7 26.7 74.9 24.4 73.2 C22.1 71.5 19.2 66.1 20.9 64.8Z" fill="#60d860"/><path d="M81.0 -0.9 L164.7 -0.9 L164.7 81.9 L81.0 81.9Z" fill="#ffffff"/><path d="M81.0 1.7 C83.6 0.1 93.8 -0.6 96.7 0.9 C99.6 2.3 99.3 8.6 98.4 10.5 C97.6 12.3 94.4 12.2 91.5 12.2 C88.6 12.2 82.7 12.2 81.0 10.5 C79.3 8.7 78.4 3.3 81.0 1.7Z" fill="#ff3010"/><path d="M103.7 3.5 C105.7 1.9 113.0 2.3 115.9 2.6 C118.8 2.9 120.5 3.9 121.1 5.2 C121.7 6.5 120.8 8.7 119.3 10.5 C117.9 12.2 114.4 14.5 112.4 15.7 C110.3 16.8 108.6 18.0 107.1 17.4 C105.7 16.8 104.2 14.5 103.7 12.2 C103.1 9.9 101.6 5.1 103.7 3.5Z" fill="#ff3010"/><path d="M81.0 17.4 C82.7 14.8 88.0 16.8 91.5 17.4 C94.9 18.0 99.0 19.8 101.9 20.9 C104.8 22.1 106.6 23.5 108.9 24.4 C111.2 25.3 113.8 25.0 115.9 26.1 C117.9 27.3 121.1 29.3 121.1 31.4 C121.1 33.4 118.2 36.6 115.9 38.3 C113.5 40.1 110.0 41.5 107.1 41.8 C104.2 42.1 101.3 41.0 98.4 40.1 C95.5 39.2 92.0 37.5 89.7 36.6 C87.4 35.7 85.9 35.4 84.5 34.9 C83.0 34.3 81.6 36.0 81.0 33.1 C80.4 30.2 79.3 20.0 81.0 17.4Z" fill="#ff4a10"/><path d="M81.0 15.7 C82.7 14.8 88.0 16.0 91.5 16.6 C94.9 17.1 99.0 18.2 101.9 19.2 C104.8 20.2 108.9 21.8 108.9 22.7 C108.9 23.5 104.8 24.4 101.9 24.4 C99.0 24.4 94.9 23.1 91.5 22.7 C88.0 22.2 82.7 22.9 81.0 21.8 C79.3 20.6 79.3 16.6 81.0 15.7Z" fill="#ff3010"/><path d="M108.9 26.1 C110.0 23.5 114.7 20.3 117.6 19.2 C120.5 18.0 123.1 18.6 126.3 19.2 C129.5 19.8 133.3 21.8 136.8 22.7 C140.3 23.5 144.3 24.7 147.2 24.4 C150.1 24.1 152.2 21.4 154.2 20.9 C156.2 20.5 158.9 20.3 159.4 21.8 C160.0 23.2 158.9 27.5 157.7 29.6 C156.5 31.8 154.5 33.4 152.5 34.9 C150.4 36.3 147.5 36.9 145.5 38.3 C143.5 39.8 141.7 41.8 140.3 43.6 C138.8 45.3 138.5 47.6 136.8 48.8 C135.0 50.0 132.1 50.8 129.8 50.5 C127.5 50.3 125.2 48.5 122.8 47.1 C120.5 45.6 117.9 43.9 115.9 41.8 C113.8 39.8 111.8 37.5 110.6 34.9 C109.5 32.2 107.7 28.8 108.9 26.1Z" fill="#ff6a20"/><path d="M121.1 20.9 C122.4 20.3 127.8 20.9 129.8 21.8 C131.8 22.7 133.9 25.1 133.3 26.1 C132.7 27.2 128.2 28.0 126.3 27.9 C124.4 27.7 122.8 26.4 122.0 25.3 C121.1 24.1 119.8 21.5 121.1 20.9Z" fill="#ffffff"/><path d="M105.4 50.5 C107.4 48.8 112.7 47.1 115.9 47.1 C119.1 47.1 121.4 49.7 124.6 50.5 C127.8 51.4 132.7 51.1 135.0 52.3 C137.4 53.4 139.4 56.1 138.5 57.5 C137.6 59.0 133.0 60.3 129.8 61.0 C126.6 61.7 122.8 61.6 119.3 61.9 C115.9 62.2 111.5 63.5 108.9 62.7 C106.3 62.0 104.2 59.5 103.7 57.5 C103.1 55.5 103.4 52.3 105.4 50.5Z" fill="#ffa040"/><path d="M112.4 55.8 C114.1 54.8 121.1 55.5 124.6 55.8 C128.1 56.1 133.0 56.6 133.3 57.5 C133.6 58.4 129.5 60.3 126.3 61.0 C123.1 61.7 116.4 62.7 114.1 61.9 C111.8 61.0 110.6 56.8 112.4 55.8Z" fill="#f4e050"/><path d="M86.2 45.3 C88.3 43.9 94.9 43.0 98.4 43.6 C101.9 44.2 106.6 46.8 107.1 48.8 C107.7 50.8 104.5 54.6 101.9 55.8 C99.3 56.9 94.1 56.4 91.5 55.8 C88.8 55.2 87.1 54.0 86.2 52.3 C85.4 50.5 84.2 46.8 86.2 45.3Z" fill="#f8f0a0"/><path d="M81.0 55.8 C82.5 53.9 88.0 55.2 89.7 56.6 C91.5 58.1 92.0 62.6 91.5 64.5 C90.9 66.4 88.0 67.4 86.2 68.0 C84.5 68.6 81.9 70.0 81.0 68.0 C80.1 65.9 79.5 57.7 81.0 55.8Z" fill="#f4d840"/><path d="M81.0 69.7 C82.5 68.8 86.2 69.1 89.7 68.8 C93.2 68.6 97.6 68.3 101.9 68.0 C106.3 67.7 111.2 67.4 115.9 67.1 C120.5 66.8 125.4 66.5 129.8 66.2 C134.2 65.9 139.1 65.2 142.0 65.4 C144.9 65.5 147.5 66.4 147.2 67.1 C146.9 67.8 143.5 69.0 140.3 69.7 C137.1 70.4 132.1 70.9 128.1 71.5 C124.0 72.0 120.2 72.6 115.9 73.2 C111.5 73.8 106.6 74.7 101.9 74.9 C97.3 75.2 91.5 75.1 88.0 74.9 C84.5 74.8 82.2 74.9 81.0 74.1 C79.8 73.2 79.5 70.6 81.0 69.7Z" fill="#60d860"/><path d="M147.2 50.5 C148.3 49.9 152.7 49.2 154.2 49.7 C155.7 50.1 156.9 52.3 156.3 53.2 C155.7 54.0 152.2 54.8 150.7 54.9 C149.3 55.0 148.2 54.4 147.6 53.7 C147.0 53.0 146.1 51.2 147.2 50.5Z" fill="#c8e860"/></g></g>
<g clip-path="url(#cql)"><clipPath id="cql"><rect x="0" y="0" width="163" height="80"/></clipPath><polyline points="76.6,0.0 75.6,2.0 75.6,5.0 77.6,8.0 80.6,13.0 84.6,17.0 86.6,19.0 86.1,24.0 85.6,30.0 84.6,34.0 83.6,37.0 83.1,41.0 82.6,44.0 81.6,47.0 81.6,50.0 82.6,52.0 84.6,53.5 86.6,54.5 89.6,55.0 90.6,54.5 88.6,53.5 87.6,52.0 88.6,50.0 89.6,48.0 90.6,46.0 91.6,44.0 92.6,42.5 91.6,41.0 94.6,39.0 98.6,38.5 99.6,36.0 99.6,35.0 101.6,34.5 103.6,33.5 106.6,31.0 108.1,28.0 108.6,26.0 111.6,23.5 115.6,22.0 116.6,20.0 117.6,17.0 118.6,13.0 121.6,9.0 121.6,6.0 119.6,4.5 116.6,3.0 112.6,2.5 108.6,1.0 106.6,0.0" fill="none" stroke="#9a9a9a" stroke-width="0.55" stroke-opacity="0.85"/><polyline points="-13.4,78.0 -3.4,77.5 6.6,76.5 16.6,75.5 26.6,74.8 36.6,74.0 46.6,74.2 56.6,73.8 66.6,72.8 76.6,73.0 81.6,72.5 86.6,71.5 88.6,70.0 89.6,68.0 91.6,66.5 94.6,65.0 97.6,63.8 99.6,63.3 98.6,64.5 96.6,66.0 95.1,68.0 94.6,70.0 95.6,72.5 96.6,74.5 101.6,76.0 106.6,77.5 111.6,78.2 118.6,77.8 124.6,77.0 129.6,75.0 136.6,72.0 141.6,71.0 146.6,70.5 156.6,70.0 166.6,70.0" fill="none" stroke="#9a9a9a" stroke-width="0.55" stroke-opacity="0.85"/><polyline points="95.6,62.2 98.6,61.8 101.6,61.3" fill="none" stroke="#aaa" stroke-width="0.5"/></g>
<rect x="0.5" y="0.5" width="162" height="79" fill="none" stroke="#d8d8d8" stroke-width="0.8"/>
<path d="M12.5 61.8 L13.4 68.8 L12.5 77.3 L11.6 68.8 Z" fill="#333"/><path d="M5.5 68.8 L12.5 68.0 L20.5 68.8 L12.5 69.6 Z" fill="#333"/><rect x="11.8" y="58.3" width="1.4" height="1.4" fill="#444"/><rect x="11.8" y="77.8" width="1.4" height="1.4" fill="#444"/><rect x="2.1999999999999993" y="68.1" width="1.6" height="1.4" fill="#444"/><rect x="21.1" y="68.1" width="1.2" height="1.4" fill="#444"/>
<text x="160.5" y="75" font-size="13" text-anchor="end" fill="#151515" stroke="#151515" stroke-width="0.3">(l)</text>
<text x="-1.6" y="3.0" font-size="6" text-anchor="end" fill="#333">0</text>
<text x="-1.6" y="23.0" font-size="6" text-anchor="end" fill="#333">20</text>
<text x="-1.6" y="43.0" font-size="6" text-anchor="end" fill="#333">40</text>
<text x="-1.6" y="63.0" font-size="6" text-anchor="end" fill="#333">60</text>
<text x="16.6" y="87.8" font-size="6" text-anchor="middle" fill="#333">140</text>
<text x="36.6" y="87.8" font-size="6" text-anchor="middle" fill="#333">120</text>
<text x="56.6" y="87.8" font-size="6" text-anchor="middle" fill="#333">100</text>
<text x="76.6" y="87.8" font-size="6" text-anchor="middle" fill="#333">80</text>
<text x="96.6" y="87.8" font-size="6" text-anchor="middle" fill="#333">60</text>
<text x="116.6" y="87.8" font-size="6" text-anchor="middle" fill="#333">40</text>
<text x="136.6" y="87.8" font-size="6" text-anchor="middle" fill="#333">20</text>
<text x="156.6" y="87.8" font-size="6" text-anchor="middle" fill="#333">0</text>
<text x="82" y="96.8" font-size="6.2" text-anchor="middle" fill="#222" textLength="36.8" lengthAdjust="spacingAndGlyphs">Longitude (°W)</text>
<text transform="translate(-9.6,40) rotate(-90)" x="0" y="0" font-size="6.2" text-anchor="middle" fill="#222" textLength="29.6" lengthAdjust="spacingAndGlyphs">Latitude (°S)</text>
</g>
<rect x="216" y="435" width="136" height="8" fill="url(#cb)"/>
<text x="216.0" y="450.3" font-size="5.6" text-anchor="middle" fill="#333">200</text>
<text x="229.6" y="450.3" font-size="5.6" text-anchor="middle" fill="#333">210</text>
<text x="243.2" y="450.3" font-size="5.6" text-anchor="middle" fill="#333">220</text>
<text x="256.8" y="450.3" font-size="5.6" text-anchor="middle" fill="#333">230</text>
<text x="270.4" y="450.3" font-size="5.6" text-anchor="middle" fill="#333">240</text>
<text x="284.0" y="450.3" font-size="5.6" text-anchor="middle" fill="#333">250</text>
<text x="297.6" y="450.3" font-size="5.6" text-anchor="middle" fill="#333">260</text>
<text x="311.2" y="450.3" font-size="5.6" text-anchor="middle" fill="#333">270</text>
<text x="324.8" y="450.3" font-size="5.6" text-anchor="middle" fill="#333">280</text>
<text x="338.4" y="450.3" font-size="5.6" text-anchor="middle" fill="#333">290</text>
<text x="352.0" y="450.3" font-size="5.6" text-anchor="middle" fill="#333">300</text>
<text x="283" y="455.9" font-size="6.2" text-anchor="middle" fill="#222" textLength="64" lengthAdjust="spacingAndGlyphs">Brightness temperature (K)</text>
</svg></body></html>
